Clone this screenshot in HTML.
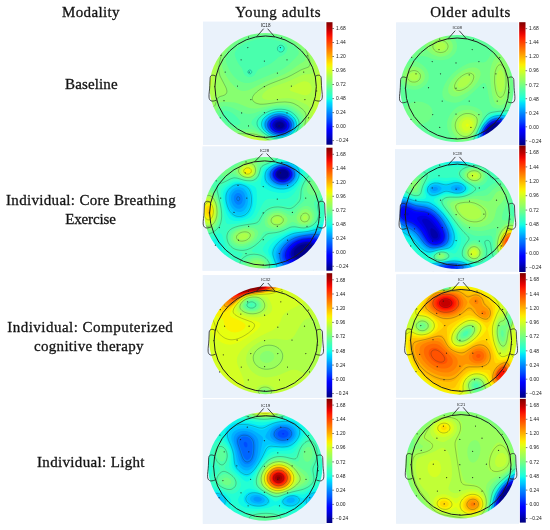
<!DOCTYPE html>
<html lang="en"><head><meta charset="utf-8"><title>Topographic maps by modality</title>
<style>
html,body{margin:0;padding:0;background:#fff}
body{width:550px;height:530px;position:relative;overflow:hidden;font-family:"Liberation Serif","DejaVu Serif",serif;color:#141414}
.t{position:absolute;white-space:nowrap;font-size:15px;line-height:20px;-webkit-text-stroke:0.3px #141414}
</style></head><body>
<svg width="550" height="530" viewBox="0 0 550 530" style="position:absolute;left:0;top:0;filter:blur(.3px)" font-family="'Liberation Sans','DejaVu Sans',sans-serif">
<defs><linearGradient id="jet" x1="0" y1="0" x2="0" y2="1"><stop offset="0%" stop-color="#800000"/><stop offset="3.1%" stop-color="#a40000"/><stop offset="6.2%" stop-color="#c40000"/><stop offset="9.4%" stop-color="#ed0400"/><stop offset="12.5%" stop-color="#ff1e00"/><stop offset="15.6%" stop-color="#ff3b00"/><stop offset="18.8%" stop-color="#ff5900"/><stop offset="21.9%" stop-color="#ff7700"/><stop offset="25%" stop-color="#ff9400"/><stop offset="28.1%" stop-color="#ffb200"/><stop offset="31.2%" stop-color="#ffd000"/><stop offset="34.4%" stop-color="#feed00"/><stop offset="37.5%" stop-color="#e4ff13"/><stop offset="40.6%" stop-color="#caff2c"/><stop offset="43.8%" stop-color="#adff49"/><stop offset="46.9%" stop-color="#97ff60"/><stop offset="50%" stop-color="#7dff7a"/><stop offset="53.1%" stop-color="#63ff94"/><stop offset="56.2%" stop-color="#46ffb1"/><stop offset="59.4%" stop-color="#30ffc7"/><stop offset="62.5%" stop-color="#16ffe1"/><stop offset="65.6%" stop-color="#00e0fb"/><stop offset="68.8%" stop-color="#00c0ff"/><stop offset="71.9%" stop-color="#009cff"/><stop offset="75%" stop-color="#007cff"/><stop offset="78.1%" stop-color="#0060ff"/><stop offset="81.2%" stop-color="#0040ff"/><stop offset="84.4%" stop-color="#001cff"/><stop offset="87.5%" stop-color="#0000ff"/><stop offset="90.6%" stop-color="#0000e8"/><stop offset="93.8%" stop-color="#0000c8"/><stop offset="96.9%" stop-color="#00009f"/><stop offset="100%" stop-color="#000080"/></linearGradient></defs>
<g><rect x="203" y="21.7" width="122.2" height="123.1" fill="#eaf2fb"/>
<g>
<rect x="208" y="31" width="115" height="111" fill="#00008d"/>
<path fill="#0000a8" fill-rule="evenodd" d="M208 31l115 0 0 111-115 0 0-111zM277 122.7l-1.2 1.3-0.3 1 0.1 1 0.4 0.8 1 1 1 0.5 2 0.3 2-0.5 1.3-1.1 0.5-1 0-1-0.3-1-0.9-1-1.6-0.8-1-0.2-2 0.3-1 0.4z"/>
<path fill="#0000c4" fill-rule="evenodd" d="M208 31l115 0 0 111-115 0 0-111zM277 121.6l-1 0.5-0.9 0.9-0.6 1-0.2 1 0.1 1 0.4 1 0.8 1 1.5 1 1.9 0.5 1 0.1 2-0.4 1-0.5 1-0.7 0.7-1 0.3-1 0-1-0.3-1-0.7-1.1-1-0.9-2-0.8-2-0.1-2 0.5z"/>
<path fill="#0000df" fill-rule="evenodd" d="M208 31l115 0 0 111-115 0 0-111zM277 120.7l-1 0.4-1.3 0.9-0.8 1-0.5 1-0.2 1 0.1 1 0.4 1 0.7 1 1.6 1.3 1.5 0.7 1.5 0.3 2 0 1-0.2 2.2-1.1 1-1 0.6-1 0.2-1 0.1-1-0.3-1-0.8-1.4-1-1-1-0.6-2-0.7-2-0.1-2 0.5z"/>
<path fill="#0000fa" fill-rule="evenodd" d="M208 31l115 0 0 111-115 0 0-111zM277 119.8l-2 0.9-1 0.8-1 1.2-0.6 1.3 0 2 0.3 1 1.3 1.8 1.7 1.2 1.3 0.6 1.7 0.4 1.3 0.1 1.2-0.1 1.8-0.5 1.2-0.5 1.3-1 0.8-1 0.7-2-0.2-2-1.2-2-1.6-1.3-2-0.9-2-0.3-3 0.3z"/>
<path fill="#0004ff" fill-rule="evenodd" d="M208 31l115 0 0 111-115 0 0-111zM278 118.9l-2 0.5-1.3 0.6-1.3 1-0.9 1-1 2 0 2 0.3 1 1.2 1.8 1 1 1 0.6 2 0.9 2 0.4 2 0 3-0.8 1.5-0.9 1-1 1.1-2 0.2-2-0.5-2-1.6-2-1.7-1.2-3-0.9-3 0z"/>
<path fill="#001cff" fill-rule="evenodd" d="M208 31l115 0 0 111-115 0 0-111zM276 118.7l-2 0.9-1 0.7-1 1-1.1 1.7-0.3 1 0 2 0.8 2 0.8 1 1 1 1.8 1.2 2 0.8 2 0.3 2 0 2-0.3 2-0.9 1.6-1.1 1.5-2 0.6-2-0.2-2-0.3-1-1.4-2-1.8-1.4-1.1-0.6-1.9-0.6-3-0.3-3 0.6z"/>
<path fill="#0034ff" fill-rule="evenodd" d="M208 31l115 0 0 111-115 0 0-111zM276 118l-2 0.8-1.8 1.2-1.2 1.3-0.9 1.7-0.3 1 0 2 0.7 2 0.7 1 1.8 1.7 2 1.2 2 0.7 2 0.3 2 0 2-0.3 2-0.8 2-1.3 1.4-1.5 0.6-1 0.5-2-0.2-2-0.3-1-1.2-2-1-1-1.4-1-2.4-1.1-3-0.5-2 0.1-2 0.5z"/>
<path fill="#004cff" fill-rule="evenodd" d="M208 31l115 0 0 111-115 0 0-111zM278 116.9l-2 0.4-2 0.7-2 1.2-1.8 1.8-0.6 1-0.7 2 0.1 2 0.7 2 1.3 1.8 1.3 1.2 1.7 1.1 2.3 0.9 2.7 0.5 2 0 2-0.3 2-0.7 2-1.1 1-0.9 1.3-1.5 0.5-1 0.5-2-0.2-2-0.3-1-0.8-1.6-1.1-1.4-1.2-1-1.7-1-3-1-2-0.2-2 0.1z"/>
<path fill="#0064ff" fill-rule="evenodd" d="M208 31l115 0 0 111-115 0 0-111zM275 116.9l-2 0.8-2 1.4-1.7 1.9-1 2-0.3 2 0.4 2 1 2 0.8 1 1.8 1.5 2 1.2 2 0.8 3 0.6 3-0.1 2-0.5 2-0.8 2.5-1.7 1.6-2 0.5-1 0.5-2-0.1-1.6-0.3-1.4-0.7-1.4-1.1-1.6-1.1-1-1.8-1.3-3-1.1-2-0.4-2-0.1-2 0.3-2 0.5z"/>
<path fill="#0080ff" fill-rule="evenodd" d="M208 31l115 0 0 111-115 0 0-111zM276 115.9l-3 1-1.8 1.1-1.3 1-1.6 2-0.9 2-0.2 2 0.3 2 1 2 1.8 2 2.7 1.9 2.7 1.1 2.3 0.5 3 0.1 3-0.5 2-0.7 2.3-1.4 1.1-1 1.5-2 0.5-1 0.5-2 0-1-0.4-2-0.9-2-0.8-1-0.9-1-1.9-1.5-3-1.4-2-0.4-2-0.2-2 0-2 0.4z"/>
<path fill="#0098ff" fill-rule="evenodd" d="M208 31l115 0 0 111-115 0 0-111zM278 114.9l-3 0.5-2 0.8-2 1-2.2 1.8-1.5 2-0.8 2-0.2 2 0.4 2 0.9 2 1.7 2 2.7 2 3 1.4 3 0.7 3 0.1 3-0.5 2-0.7 1.9-1 1.3-1 1.1-1 1.4-2 0.5-1 0.5-2-0.1-2-0.6-2-1-1.7-1-1.3-2-1.7-2-1.1-2-0.8-2-0.4-2-0.2-2 0.1z"/>
<path fill="#00b0ff" fill-rule="evenodd" d="M208 31l115 0 0 111-115 0 0-111zM275 114.7l-3 1.1-2.1 1.2-2.2 2-1.4 2-0.8 2-0.2 1 0.2 2 0.7 2 1.2 2 2.1 2 2.5 1.7 3 1.3 3 0.6 3 0.1 3-0.4 3-1.1 3-2 1.2-1.2 1.3-2 0.5-1 0.5-2-0.1-2-0.5-2-0.9-1.7-1-1.3-1-1.1-2-1.5-2-1-2-0.7-2-0.4-2-0.2-3 0.2-2 0.4z"/>
<path fill="#00c8ff" fill-rule="evenodd" d="M208 31l115 0 0 111-115 0 0-111zM275 114l-3 1-3 1.7-2.5 2.3-1.3 2-0.7 2-0.2 2 0.2 1 0.7 2 1.3 2 1.9 2 2.9 2 3.7 1.6 3 0.6 4 0 3-0.6 3-1.3 2-1.3 1.2-1 1.6-2 1-2 0.5-2 0-2-0.5-2-0.8-1.6-0.9-1.4-1.1-1.2-2-1.6-2-1.2-2-0.8-2-0.5-3-0.3-3 0.2-2 0.4z"/>
<path fill="#00e0fb" fill-rule="evenodd" d="M208 31l115 0 0 111-115 0 0-111zM276 113l-3 0.7-3 1.3-2.9 2-1.9 2-0.7 1-0.9 2-0.4 2 0.2 2 0.3 1 1 2 2.6 3 2.7 2 3 1.5 3 0.9 3 0.4 4-0.1 3-0.8 3-1.4 2-1.5 1.1-1 1.5-2 1.1-2 0.5-2 0-2-0.4-2-1-2-1.4-2-2.2-2-2.2-1.4-2-0.9-2-0.6-3-0.4-3 0-2 0.3z"/>
<path fill="#0ff8e7" fill-rule="evenodd" d="M208 31l115 0 0 111-115 0 0-111zM278 111.9l-4 0.7-3 1-3 1.6-2.4 1.8-1.8 2-1.1 2-0.4 1-0.2 1 0 2 0.4 2 1.8 3 1.9 2 2.8 2.1 3.6 1.9 3.4 1 3 0.4 4-0.1 3-0.7 2-0.8 2-1.1 2.1-1.7 1.9-2.2 1.5-2.8 0.6-2 0.1-2-0.4-2-0.9-2-1.3-2-2-2-2.6-1.8-2-1-3-0.9-3-0.4-3 0z"/>
<path fill="#23ffd4" fill-rule="evenodd" d="M208 31l115 0 0 111-115 0 0-111zM279 111l-4 0.4-4 1.2-3 1.4-2.9 2-2.1 2-0.7 1-1.1 2-0.6 2 0 1 0.3 2 0.8 2 2.3 3 3.6 3 3.4 2 4 1.4 3 0.5 3 0.2 4-0.5 3-0.9 2-1.1 2-1.5 2.1-2.1 1.3-2 1.4-3 0.4-3-0.3-2-1.4-3-1.5-2-2-1.9-2-1.4-2-1.1-3-1-3-0.5-3-0.1z"/>
<path fill="#36ffc1" fill-rule="evenodd" d="M208 31l115 0 0 111-115 0 0-111zM273 110.9l-4 1.4-3.2 1.7-2.7 2-2.7 3-1.1 2-0.5 2 0 1 0.4 2 0.4 1 1.3 2 2.8 3 4.1 3 4.2 2.1 4 1.2 2 0.3 3 0.2 4-0.3 4-1.3 3-1.9 2-1.9 1.8-2.4 1.6-3 0.6-2 0.2-3-0.5-2-0.9-2-1.3-2-1.9-2-2.6-2-3-1.5-2-0.7-3-0.6-3-0.2-4 0.3-3 0.6zM280 46.8l-1.1 1.2 0.1 1.3 0.4 0.7 0.6 0.5 1 0.2 1-0.4 0.8-1.3 0-1-0.8-1-1-0.3-1 0.1z"/>
<path fill="#49ffad" fill-rule="evenodd" d="M208 31l115 0 0 111-115 0 0-111zM248 70l-0.7 1-0.1 1 0.2 1 0.6 0.8 1 0.6 1 0.1 1.3-0.5 0.9-1 0.2-1-0.1-1-0.3-0.6-1-0.9-1-0.2-1 0.1-1 0.6zM280 44.9l-1 0.4-1 0.8-0.7 0.9-0.3 1 0 1 0.2 1 0.8 1.2 1 0.8 1 0.4 1 0.1 1.5-0.5 1.2-1 0.6-1 0.3-1 0-1-0.6-1.4-1-1.1-1-0.5-1-0.2-1 0.1zM279 108.9l-4 0.5-5 1.3-4 1.7-4 2.5-2.5 2.1-2.2 3-0.8 2-0.1 1 0.2 2 1 2 0.7 1 2.8 3 3.7 3 2.2 1.4 3 1.6 4 1.5 5 1 4 0.2 4-0.6 2-0.7 3-1.6 2-1.8 2-2.5 1.9-3.5 1.1-3 0.4-3-0.3-2-0.8-2-2.1-3-2.2-2.2-3-2.2-3-1.4-3-0.8-3-0.4-3-0.1z"/>
<path fill="#5dff9a" fill-rule="evenodd" d="M208 31l115 0 0 111-115 0 0-111zM224 110.8l-1 0.8-0.6 1.4-0.1 1 0.3 2 0.4 1.4 0.9 1.6 2.1 2.3 2 1.5 2 1 4 1.4 2 0.2 2-0.2 0.7-0.2 1.2-1 0.5-1-0.1-1-0.3-1-2.2-3-3-3-2.6-2-3.2-1.7-3-0.8-2 0.3zM261 39l-6.4 1-3.6 1-2.8 1-4.3 2-3.3 2-2.5 2-1.8 2-1.2 2-0.4 2 0.3 1.9 2 5.1 2 3.4 3 3.9 1.2 3.7 0.9 2 0.8 1 1.1 1 2 1 1 0.2 2-0.1 1-0.3 1.4-0.8 1.2-1 0.8-1 1.6-2.8 1-1.4 2-1.2 8.1-3.6 3.5-2 2.7-2 4.3-4 3.4-1.3 2-1.2 1-0.8 1.4-1.7 0.8-2 0.3-2-0.1-1-0.8-2-1.6-1.6-2-1.2-2-0.8-5.7-1.4-5.3-1-4-0.2-5 0.2zM277 107.9l-4 0.6-4 1.1-5 2.1-4.2 2.3-4.2 3-3.1 3-1.1 2 0 1 0.2 1 0.7 1 1.9 2 6.2 5 5.6 3.7 5 2.5 5 1.6 3 0.6 3 0.4 4-0.1 2-0.4 2-0.7 3-1.7 2-1.8 1.7-2.1 1.1-2 1.7-4 1-4 0-3-0.5-2-1.9-3-2.1-2.4-3-2.4-3-1.6-3-1.1-3-0.6-3-0.2-4 0.2z"/>
<path fill="#70ff87" fill-rule="evenodd" d="M208 31l115 0 0 111-34.3 0 2.3-0.8 3-1.6 2-1.7 2.2-2.9 1.4-3 2-7 0.5-3-0.3-3-0.8-2.1-2.1-2.9-2.9-2.7-3-2.1-3-1.5-3-0.9-3-0.5-3-0.1-5 0.4-5 0.9-6 1.8-11 3.9-3 0.6-2 0.2-3-0.3-3-0.9-9-4.3-4-1.4-4-0.8-3 0-1.5 0.7-1 1-0.8 2-0.7 5-0.6 1-1.4 1-1.1 1-0.7 1-0.6 2 0.2 2 1.1 2 1.1 1.1 2 1.2 2 0.4 2-0.1 4-1.5 2 0.4 6 2 4 0.8 3 0.2 7-0.4 3 0.4 3 1 2 1 7.8 4.5 4.2 2.1 6 2.3 5.2 1.6-72.2 0 0-111zM262 35l-6 0.7-5.2 1.3-5.5 2-5.3 2.7-4.8 3.3-3.2 2.9-3 3.7-1.8 3.4-1 3-0.2 3 0.4 2 0.6 1.8 2 4.4 2.2 3.8 2.8 3.6 3 2.8 2 1.4 2 1 3 1 2 0.3 3-0.2 3-0.6 4-1.5 23.1-9.8 5.3-3 3.9-3 3.2-3 5.5-5.7 1.1-1.3 0.5-1 0.2-1-0.3-2-1-2-1.5-2-1.9-2-2.3-2-4.8-3.1-3-1.4-3-1.1-6-1.6-6-0.8-7 0z"/>
<path fill="#87ff70" fill-rule="evenodd" d="M208 31l115 0 0 111-26.5 0 1.5-1.6 1.8-2.4 1-2 0.8-2 0.6-3 0.4-4 1.1-6 0.1-2-0.2-2-0.6-1.4-1-1.6-1.7-2-2.3-2.1-2-1.5-2-1.3-3-1.4-2-0.6-2-0.4-3-0.3-6 0.2-6 0.9-12 2.5-3 0.4-3 0.1-3-0.3-3-0.8-9-3.7-4-1.1-6-0.7-6 0-2 0.4-1 0.5-1 1-1 1.9-1 3.5-1 1.8-4 1.2-4 1.5 0-82.7zM256 31.1l-1 0.9-3 0-1 0.3-0.7 0.7-2.3 0.2-0.7 0.8-1.3 0.1-0.9 0.9-1.1 0.1-1.2 0.9-0.8 0.1-1 0.9-1 0.2-0.8 0.8-2.2 1.3-3 2.5-2 1.9-2 2.2-3 4.1-2.7 5-1.7 5-0.6 4 0 2 0.4 2 1.6 4 2.8 5 3.2 4.7 4 4.4 2 1.8 2 1.5 3 1.3 2 0.4 2-0.1 2-0.4 2-0.6 3-1.4 8.8-4.6 5.2-2.5 14-5.5 4.5-2 5.5-3 9-6.4 4.1-2.6 1.3-1 0.6-0.9 0.3-1.1 0-2-0.9-3-1.6-3-2.8-4-3-3.2-3-2.7-4-2.9-3-1.8-4-1.9-3-1.1-1.7-0.4-1.3-0.6-2.9-0.4-1.1-0.6-1-0.2-6-0.2-10 0.1zM231.9 131l1.1-0.2 1 0 6 0.9 3 0.2 8 0 4 0.7 4 1.5 8 4 8.6 3.9-60.1 0 2.5-1.3 5-3.1 4-2.8 4.9-3.8z"/>
<path fill="#9aff5d" fill-rule="evenodd" d="M305.6 48l0.4-0.3 1-0.3 2-0.3 3 0 2 0.4 3 1.1 2 1.1 2 1.5 2 1.8 0 80.8-2.4 2.2-2.6 1.8-3 1.3-2 0.4-2-0.1-2-0.8-1-0.9-0.9-1.7-2.2-10 0.1-2 1.1-7-0.2-3-0.8-2-1.1-1.3-3-2.7-3-2.2-3-1.7-3-1.2-3-0.7-3-0.3-3 0-4 0.3-14 1.9-3 0.2-3-0.3-3-0.8-1.9-1.2-1-1-0.5-1-0.3-1 0.3-2 0.5-1 1.5-2 2-2 2.5-2 4.6-3 3.9-2 3.4-1.5 16-6.1 4.9-2.4 9.1-5.1 3-1.2 4-1.4 1-0.7 0.5-0.6 0.5-1.5 0.1-1.5-0.2-2-1.5-5-2.5-6-0.3-1 0-1zM212.9 50l2.1-0.2 2 0.3 2 0.9 2 1.5 0.3 0.5 0.1 1-0.1 1-1.7 7-0.6 4-0.2 3 0.2 3.1 1 3.9 5.7 11 0.8 2 0.4 2 0 1-0.3 1-0.6 1-1 0.8-2 0.9-3 0.8-1 0.6-1 0.9-1 1.6-2 5.7-1 1.1-1 0.1-3-0.6-2-0.9 0-52 2-1.7 1-0.6 1.9-0.7zM236.9 134l2.1-0.3 12 0.2 3 0.2 2 0.4 3 1 3 1.3 8.9 4.2 1.6 1-39.4 0 0-2 0.6-2 1.2-2 2-2z"/>
<path fill="#adff49" fill-rule="evenodd" d="M313.6 60l0.4-0.6 1 0.3 3 1.7 2.9 2.6 2.1 2.6 0 51.7-2 2.9-1.6 1.8-1.4 1.2-2 1.2-1 0.4-2 0.2-2-0.6-1-0.7-1-0.9-1-1.3 0-2.5 1.3-7 0.3-4-0.6-2.2-1-1.1-1-0.6-9-4.6-3-1.2-3-0.7-3-0.3-3 0-4 0.3-10 1.3-4.7 0.1-2.3-0.5-1.3-0.5-1.1-1-0.5-1 0-1 0.8-2 0.8-1 2.1-2 3-2 4-2 15.2-5.5 11-5.1 3-1.3 4-0.9 5-0.1 1-0.3 1-1 0.8-2.8 0.1-3-0.4-5 0.1-2zM213.9 61l1.1-0.1 1 0.1 0.5 1 0.1 1-0.7 11 0 12-0.4 4-1.5 7.2-1 2.7-1 0.5-1-0.6-1-0.9-2-2.8 0-29.4 1.7-2.7 1.3-1.5 1-0.7 1.9-0.8zM241.5 136l2.5-0.4 5-0.1 4 0.1 3 0.4 3 0.8 3.1 1.2 4.3 2 1.8 1 1.4 1-30.2 0-0.3-1 0.2-2 0.9-2 1.3-1z"/>
<path fill="#c1ff36" fill-rule="evenodd" d="M318.7 72l1.3 1.2 1 1.7 1 2.2 1 3.1 0 20.7-0.8 3.1-1 3-2.2 4.3-1.2 1.7-1.8 1.8-2 1.1-1 0.3-0.3-0.2-0.4-1 0.1-1 1.8-9 0.8-5 0.6-12 2.2-15 0.2-0.6 0.7-0.4zM211.4 76l0.6-0.6 0.2 2.6-0.2 4.4-1 4.8-0.9-2.2-0.1-3 0.8-5 0.2-0.8 0.4-0.2zM301.1 82l2.9-0.7 2 0.1 2 0.6 1.4 1 0.9 1 1.1 2 0.3 1 0.1 2-0.4 2-0.5 1-0.7 1-1.2 1.1-1 0.6-2 0.5-3-0.2-9.3-3-2.7-1-1.4-1 0.2-1 2.2-2 4.7-3 4.4-2zM244.9 138l2.1-0.7 2-0.2 4 0 3 0.4 2.3 0.5 3 1 4 2 1.2 1-22 0-0.4-1 0-1 0.2-1 0.6-1z"/>
<path fill="#d4ff23" fill-rule="evenodd" d="M251.3 139l3.7 0 3 0.6 1.4 0.4 2.1 1 1 1-12.5 0-0.6-1 0-1 0.6-0.5 1.3-0.5z"/>
<path fill="none" stroke="#1a2a2a" stroke-opacity=".6" stroke-width=".45" d="M208 53l1.1-1 1.9-1.3 2-0.7 2-0.2 2 0.3 1 0.4 2 1.2 1.3 1.3 0.1 1-0.1 1-1.7 7-0.6 4-0.2 3 0.2 3.1 1 3.9 5.7 11 0.8 2 0.4 2 0 1-0.3 1-0.6 1-1 0.8-2 0.9-3 0.8-1 0.6-1 0.9-1 1.6-2 5.7-1 1.1-1 0.1-2-0.4-3-1.1M323 133.8l-2 1.9-2 1.5-2 1.1-2 0.8-2 0.4-2-0.1-2-0.8-1-0.9-0.9-1.7-0.3-1-1.9-9 0.1-2 1.1-7 0-2-0.5-2-1.3-2-2.1-2-3.9-3-3.3-1.9-2-0.9-3-0.8-5-0.5-7 0.4-12 1.7-3 0.2-3 0-3-0.7-2-0.9-0.9-0.6-1-1-0.5-1-0.3-1 0.3-2 0.5-1 1.5-2 2-2 2.5-2 4.6-3 3.9-2 3.4-1.5 16-6.1 4.9-2.4 9.1-5.1 3-1.2 4-1.4 1-0.7 0.5-0.6 0.5-1.5 0.1-1.5-0.2-2-1.5-5-2.8-7 0-1 0.4-0.3 2-0.5 3-0.1 2 0.2 2 0.5 2 0.8 2 1.1 2 1.5 2 1.8M233.1 142l-0.1-1 0.3-2 0.4-1 1.2-2 2-2 1.1-0.2 2-0.1 11 0.2 3 0.2 2 0.4 3 1 3 1.3 8.9 4.2 1.6 1M279 45.7l-1.2 1.3-0.4 1 0 1 0.2 1 0.4 0.6 1 1 1 0.4 1 0.1 1-0.3 1-0.5 0.9-1.3 0.3-1 0-1-0.4-1-0.8-1-1-0.6-1-0.2-1 0.1-1 0.4M250 69.9l-1 0.2-1 0.9-0.2 1 0.3 1 0.9 0.8 1 0.1 1-0.4 0.5-0.5 0.3-1-0.2-1-0.6-0.6-1-0.5M274 109.8l-4 1.1-4 1.8-3.6 2.3-2.3 2-1.7 2-1 2-0.3 1-0.1 1 0.2 2 0.8 2 2.4 3 2.2 2 2.5 2 3.9 2.3 2 1 3 1 5 1 4 0.2 4-0.6 2-0.7 2-1.1 2-1.4 2.4-2.7 1.9-3 1.2-3 0.6-3-0.1-2-0.5-2-1.1-2-2.4-3-2-1.7-2-1.4-3-1.4-3-0.9-4-0.4-4 0.1-3 0.5M275 112l-4 1.2-3 1.5-3 2.3-1.8 2-0.6 1-0.8 2-0.3 2 0.2 2 0.8 2 0.6 1 2.7 3 3.2 2.4 3 1.6 4 1.3 4 0.4 4-0.3 3-0.8 3-1.6 2-1.5 2-2.2 1.4-2.3 0.8-2 0.4-2-0.2-2-0.6-2-1-2-1.6-2-2.2-2-2-1.3-3-1.3-3-0.7-2-0.2-3 0-3 0.5M278 113.9l-3 0.5-3 1.1-2 1.1-2 1.6-1.6 1.8-1 2-0.3 1-0.1 2 0.4 2 0.9 2 0.8 1 1.9 2 2 1.4 3 1.5 3 0.8 3 0.3 3-0.3 3-0.8 2-1 2-1.4 1.5-1.5 1.4-2 0.4-1 0.5-2 0-2-0.6-2-1-2-1.7-2-1.5-1.3-2-1.2-2-0.8-2-0.5-2-0.3-3 0M278 115.9l-3 0.7-2 0.8-2 1.3-1.4 1.3-1.3 2-0.6 2 0.1 2 0.7 2 1.4 2 1.1 1.1 2 1.4 3 1.2 2 0.5 3 0.1 3-0.6 1.9-0.7 1.7-1 1.2-1 1.2-1.4 0.9-1.6 0.3-1 0.2-2-0.4-2-0.4-1-1.3-2-1-1-1.3-1-1.9-1-3.1-0.9-2-0.2-2 0M278 117.9l-2 0.5-2 0.9-2 1.5-0.9 1.2-0.5 1-0.4 2 0.4 2 0.5 1 0.9 1.2 2 1.7 3 1.3 2 0.4 2 0 2-0.4 2-0.8 2-1.4 1.4-2 0.6-2-0.2-2-0.3-1-0.5-1-1-1.2-1-0.9-1.4-0.9-1.6-0.6-2-0.5-3 0M279 119.9l-1 0.1-2 0.7-1 0.6-1 0.9-1 1.8-0.1 1 0 1 0.4 1 0.6 1 1 1 2.1 1.1 3 0.6 2-0.3 1-0.3 1.7-1.1 1.3-1.7 0.4-1.3-0.2-2-0.5-1-0.7-0.9-1.4-1.1-2.6-1-2-0.1"/>
<path fill="#eaf2fb" fill-rule="evenodd" d="M203 21.7H325.2V144.8H203zM209.50 86.80a56.05 53.90 0 1 0 112.10 0a56.05 53.90 0 1 0 -112.10 0z"/>
</g>
<path d="M247.8 47.5h.01M280.4 47.5h.01M241.1 59.8h.01M264.4 61h.01M287 59.8h.01M221 55.4h.01M307.3 55.8h.01M225.2 72h.01M249.2 72h.01M277.4 73h.01M303.7 72h.01M237.5 86h.01M264.4 86.5h.01M291.4 86h.01M224 100.7h.01M250.9 99.5h.01M277.4 99.5h.01M304.9 99.5h.01M241.6 112.9h.01M264.4 112.5h.01M287 112.9h.01M220.3 117.8h.01M308.6 117.8h.01M248.5 125.9h.01M279.1 125.9h.01M264.4 137h.01M214.7 86.5h.01M316.6 90.9h.01M248.5 37h.01M281.6 37.5h.01" stroke="#1a1a1a" stroke-opacity=".85" stroke-width="1.25" stroke-linecap="round" fill="none"/>
<ellipse cx="265.6" cy="86.7" rx="50.7" ry="50.7" fill="none" stroke="#1c1c1c" stroke-width="1"/>
<path d="M256.6 36.8L263.6 28.7M274.7 36.8L267.6 28.7" stroke="#1c1c1c" stroke-width=".8" fill="none"/>
<path d="M216.2 76.5C213.4 74.4 210.4 74.8 210.1 77.8L209.8 85.7C209.6 90.3 208.8 93.8 209 97.1C209.2 100.7 211.6 102.3 216.4 100.1" stroke="#222" stroke-width=".8" fill="none" stroke-linejoin="round"/>
<path d="M315.1 76.5C317.9 74.4 320.9 74.8 321.2 77.8L321.5 85.7C321.7 90.3 322.5 93.8 322.3 97.1C322.1 100.7 319.7 102.3 314.9 100.1" stroke="#222" stroke-width=".8" fill="none" stroke-linejoin="round"/>
<text x="265.6" y="27.1" font-size="4.6" text-anchor="middle" fill="#161616">IC18</text>
<rect x="326.4" y="22.2" width="6.1" height="122.5" fill="url(#jet)"/>
<text x="336.1" y="30.2" font-size="4.9" fill="#161616">1.68</text>
<text x="336.1" y="44.3" font-size="4.9" fill="#161616">1.44</text>
<text x="336.1" y="58.3" font-size="4.9" fill="#161616">1.20</text>
<text x="336.1" y="72.3" font-size="4.9" fill="#161616">0.96</text>
<text x="336.1" y="86.3" font-size="4.9" fill="#161616">0.72</text>
<text x="336.1" y="100.3" font-size="4.9" fill="#161616">0.48</text>
<text x="336.1" y="114.3" font-size="4.9" fill="#161616">0.24</text>
<text x="336.1" y="128.3" font-size="4.9" fill="#161616">0.00</text>
<text x="336.1" y="142.3" font-size="4.9" fill="#161616">−0.24</text>
<path d="M332.4 28.5h1.6M332.4 42.5h1.6M332.4 56.5h1.6M332.4 70.5h1.6M332.4 84.5h1.6M332.4 98.6h1.6M332.4 112.6h1.6M332.4 126.6h1.6M332.4 140.6h1.6" stroke="#222" stroke-width=".6" fill="none"/></g>
<g><rect x="202.6" y="146.6" width="122.6" height="124.1" fill="#eaf2fb"/>
<g>
<rect x="203" y="156" width="122" height="114" fill="#00008d"/>
<path fill="#0000a8" fill-rule="evenodd" d="M203 156l122 0 0 114-122 0 0-114zM281 169.9l-2 0.8-1.3 1.3-0.5 1-0.3 1 0.1 1 0.4 1 0.7 1 0.9 0.7 2 0.9 3 0 1.7-0.6 1.4-1 0.7-1 0.3-1 0.1-1-0.1-1-0.5-1-1-1-1.8-1-1.8-0.3-2 0.2zM302 244.8l-2 0.8-2.3 1.4-2.2 2-1.3 2-0.5 2 0.2 2 0.6 1 1.5 1.2 2 0.6 2 0.2 2-0.2 2.7-0.8 2.3-1.1 2-1.4 1.5-1.5 1.3-2 0.6-2-0.1-1-0.2-1-0.7-1-1.3-1-2.1-0.7-2-0.1-2 0.2-2 0.4z"/>
<path fill="#0000c4" fill-rule="evenodd" d="M203 156l122 0 0 114-122 0 0-114zM280 169.6l-1 0.5-1.3 0.9-0.8 1-0.5 1-0.1 1 0 1 0.3 1 0.6 1 1.8 1.5 1.3 0.5 1.7 0.3 2-0.1 1-0.2 2-1.1 0.9-0.9 0.6-1 0.3-1 0.1-1-0.1-1-0.5-1-0.8-1-1.5-1.1-2-0.6-2-0.1-2 0.4zM306 242.9l-4 0.8-3 1.2-3 1.9-2.2 2.2-0.8 1.2-0.8 1.8-0.3 2 0.5 2 0.7 1 0.9 0.9 2 0.9 2 0.4 2 0.1 3-0.5 2.3-0.8 2.7-1.4 2.2-1.6 2-2 1.2-2 0.6-2 0-2-0.4-1-0.7-1-1.9-1.3-2-0.6-3-0.2z"/>
<path fill="#0000df" fill-rule="evenodd" d="M203 156l122 0 0 114-122 0 0-114zM281 168.8l-1 0.3-1.9 0.9-1.2 1-0.7 1-0.6 2 0.3 2 0.5 1 0.9 1 1.5 1 1.2 0.5 1 0.3 2 0.1 2-0.3 1-0.4 1.8-1.2 0.9-1 0.5-1 0.4-2-0.6-2-1-1.4-2-1.3-2-0.6-3 0.1zM305 242l-4 0.9-3 1.3-3 2-2.7 2.8-1.2 2-0.4 1-0.4 2 0.1 1 0.7 2 0.7 1 1.2 1 2 1 2 0.4 3 0 3-0.5 3-1 3-1.6 2.9-2.3 1.8-2 1.3-2.2 0.6-1.8 0.1-1-0.3-2-0.4-1-0.8-1-1.3-1-2.9-1-2-0.2-3 0.2z"/>
<path fill="#0000fa" fill-rule="evenodd" d="M203 156l122 0 0 114-122 0 0-114zM279 168.9l-1.8 1.1-1.1 1-1 2-0.1 2 0.2 1 0.5 1 0.7 1 1.2 1 1.4 0.8 2 0.5 2 0.2 2-0.4 1-0.3 1.5-0.8 1.1-1 1.3-2 0.3-2-0.5-2-0.6-1-0.9-1-2.2-1.3-2-0.5-3 0.1-2 0.6zM305 241l-4 0.9-4 1.7-3.4 2.4-2.7 3-1.6 3-0.4 2 0 1 0.4 2 0.5 1 0.9 1 1.2 1 2.1 1 3 0.6 3-0.1 4-0.8 3-1.2 3-1.7 3-2.4 2.1-2.4 1.6-3 0.5-2-0.1-2-0.3-1-0.8-1.3-0.6-0.7-1.4-1-2-0.8-3-0.4-4 0.2z"/>
<path fill="#0004ff" fill-rule="evenodd" d="M203 156l122 0 0 114-122 0 0-114zM281 167.8l-2 0.6-1.3 0.6-1.4 1-0.9 1-1 2-0.1 2 0.2 1 0.4 1 1.1 1.4 1 0.9 2 1.1 2 0.5 2 0.1 3-0.6 2.4-1.4 1-1 0.7-1 0.7-2 0-2-0.4-1-1.4-2-2-1.4-1.7-0.6-1.3-0.3-3 0.1zM306 239.9l-5 1-4 1.7-3.8 2.4-3 3-1.4 2-0.9 2-0.5 3 0.3 2 0.4 1 0.9 1.3 1 1 1 0.8 2 0.9 3 0.6 3 0 4-0.6 4-1.4 3-1.6 3-2.2 2.8-2.8 1.9-3 0.9-3 0-2-0.2-1-1-2-0.9-1-1.5-1-2-0.7-3-0.5-4 0.1z"/>
<path fill="#001cff" fill-rule="evenodd" d="M203 156l122 0 0 114-122 0 0-114zM279 167.9l-2 0.9-1.5 1.2-0.9 1-0.9 2-0.1 1 0.2 2 1 2 0.9 1 1.3 1 2 1 2 0.5 2 0.1 2-0.3 2-0.7 2.4-1.6 1.5-2 0.6-2-0.1-2-0.3-1-1.2-2-1.9-1.5-1-0.5-2-0.6-3-0.2-3 0.7zM307 238.9l-5 0.8-3 1-2 0.8-4.1 2.5-2.3 2-1.8 2-1.3 2-0.9 2-0.6 3 0.2 2 0.8 2 0.7 1 1.3 1.3 1 0.7 2 1 3 0.7 4 0 4-0.7 4-1.4 4-2.1 3.4-2.5 2.8-3 1.9-3 0.9-3 0.1-2-0.1-1-0.3-1-0.7-1.4-1-1.2-1-0.8-1.1-0.6-1.9-0.7-3-0.5-4 0.1z"/>
<path fill="#0034ff" fill-rule="evenodd" d="M203 156l122 0 0 114-122 0 0-114zM281 166.9l-2 0.4-2 0.9-2 1.5-1.1 1.3-0.6 1-0.4 2 0 1 0.5 2 1.3 2 1.1 1 1.2 0.8 2 0.8 2 0.5 2 0.1 2-0.3 2-0.6 2-1.2 1-0.9 1.6-2.2 0.6-2 0-1-0.4-2-1.1-2-1-1-1.7-1.1-3-1-2-0.2-2 0.2zM308 237.9l-6 0.9-5 1.7-2.9 1.5-2.1 1.4-1.9 1.6-1.9 2-1.5 2-1.1 2-0.7 2-0.3 2 0.2 2 0.6 2 1.3 2 0.9 1 2.4 1.5 2 0.8 2 0.4 4 0.1 4-0.5 5-1.6 4-2 3.8-2.7 3-3 2.1-3 0.9-2 0.6-2 0.1-3-0.5-1.9-0.6-1.1-0.7-1-1.1-1-2.6-1.4-2-0.5-2-0.2-4 0z"/>
<path fill="#004cff" fill-rule="evenodd" d="M203 156l122 0 0 114-122 0 0-114zM279 166.8l-2 0.8-2.1 1.4-1.1 1-1.2 2-0.5 2 0.2 2 0.7 1.8 0.8 1.2 1.2 1.2 2 1.3 2 0.8 3 0.5 2-0.1 2-0.4 2-0.8 2-1.4 1.8-2.1 0.5-1 0.6-2-0.1-2-0.2-1-1.1-2-0.9-1-1.6-1.2-3-1.2-3-0.4-2 0.2-2 0.4zM309 237l-4 0.4-3 0.6-3 0.8-3 1.1-3 1.6-2 1.4-2.4 2.1-1.6 1.7-1.7 2.3-1.1 2-0.7 2-0.3 2 0.1 2 0.6 2 1 2 1.8 2 1.4 1 1.9 0.9 3 0.8 4 0.3 5-0.7 5-1.6 4-1.9 4.2-2.8 2.2-2 1.6-1.7 2.3-3.3 0.9-2 0.6-2 0.3-3-0.4-2-0.4-1-1.3-1.8-1-1-1-0.7-2-0.9-3-0.6-5 0z"/>
<path fill="#0064ff" fill-rule="evenodd" d="M203 156l122 0 0 114-122 0 0-114zM281 165.9l-3 0.7-2 1-2 1.4-1 1-0.7 1-0.8 2-0.2 2 0.4 2 1.1 2 1.2 1.3 2 1.5 2 0.9 2 0.5 3 0.2 2-0.2 2-0.6 3-1.6 1.1-1 1.5-2 0.8-2 0.2-1 0-2-0.3-1-0.9-2-0.8-1-1.1-1-1.5-0.9-2-0.8-2-0.5-2-0.1-2 0.2zM310 236l-4 0.4-4 0.7-3 0.7-3 1.1-3 1.5-2.5 1.6-2.4 2-2 2-1.6 2-1.7 3-0.7 2-0.3 2 0.3 3 0.6 2 1.3 2.2 1.7 1.8 1.3 1 2 1 2 0.6 2 0.4 4 0.1 5-0.7 5-1.6 5-2.4 4-2.7 2-1.7 1.9-2 1.6-2 1.2-2 1-2 0.6-2 0.3-2-0.1-2-0.5-2-0.4-1-1.6-2.1-1.1-0.9-1.9-1-2-0.7-2-0.3-5 0z"/>
<path fill="#0080ff" fill-rule="evenodd" d="M203 156l122 0 0 84-1.6-2-2.4-1.7-2-0.8-3-0.6-4 0-6 0.6-5 0.9-4 1.1-3 1.2-3 1.7-3.5 2.6-2.5 2.4-2 2.6-1.7 3-0.8 3-0.1 2 0.5 3 1.3 3 1.8 2.4 2 1.7 3 1.3 3 0.7 3 0.2 4-0.2 4-0.8 4-1.3 4-1.8 4-2.4 3-2.3 3-2.9 2.7-3.6 1.3-2.6 0 19.6-122 0 0-114zM279 165.8l-3 1.1-1.8 1.1-1.2 1-1.6 2-0.8 2-0.2 2 0.4 2 1 2 1.2 1.5 2 1.5 2 1.1 3 0.8 3 0.2 2-0.2 3-0.9 2-1.1 2-1.7 0.9-1.2 0.6-1 0.7-2 0.3-2-0.1-1-0.6-2-0.5-1-0.8-1-1.5-1.4-2-1.2-2-0.7-2-0.4-2-0.1-2 0.2-2 0.4z"/>
<path fill="#0098ff" fill-rule="evenodd" d="M203 156l122 0 0 81-2-1.5-2-1-2-0.5-3-0.3-5 0.3-8 1.1-4.4 0.9-3.6 1.1-3 1.4-3 1.8-3 2.4-2.3 2.3-2.3 3-1.2 2-0.8 2-0.5 3 0.2 3 1 3 1.6 3 1.7 2 2.6 1.8 2 0.9 3 0.7 4 0.2 4-0.3 4-0.8 5-1.7 4-1.9 4-2.4 3.3-2.5 3-3 2.7-3.5 0 16.5-122 0 0-114zM238 192.9l-1 0.2-1 0.6-1.3 1.3-0.8 2-0.1 2 0.4 2 1.2 2 1.6 1.4 1 0.4 1 0 1-0.2 0.9-0.6 1.1-1.4 0.7-2.6 0-2-0.6-2-1.1-1.8-1-0.8-1-0.4-1-0.1zM280 165l-3 0.9-2.4 1.1-1.6 1.1-1.9 1.9-1.1 2-0.5 2 0.1 2 0.6 2 1.2 2 1.6 1.7 2 1.3 3 1.3 3 0.5 3 0 2-0.3 3-1.1 2-1.3 1.3-1.1 1.6-2 0.9-2 0.5-2 0-2-0.6-2-0.4-1-1.3-1.7-1.5-1.3-1.5-0.9-2-0.8-2-0.5-2-0.2-2 0.1-2 0.3z"/>
<path fill="#00b0ff" fill-rule="evenodd" d="M203 156l122 0 0 78.6-2-1.1-2-0.7-2-0.3-2 0-4 0.3-14 2.1-4 1.1-4 1.7-3.6 2.3-3.4 2.8-3 3.2-1.4 2-1.1 2-1 3-0.2 3 0.3 2 1 3 1.4 3 1 1.7 1.1 1.3 1.9 1.6 3 1.4-84 0 0-114zM237 189.8l-2 0.8-1 0.8-1 1-1 1.5-0.5 1.1-0.4 2 0 3 0.9 3.1 1 1.9 1 1.3 1 1 2 1.1 2 0.4 1-0.1 1.8-0.7 1.2-0.9 1.4-2.1 0.8-2 0.4-2 0-2-0.2-2-0.5-2-0.9-2-1.7-2-1.3-0.8-1-0.4-1-0.2-2 0.2zM278 164.9l-2.7 1.1-2.3 1.3-2.1 1.7-1.5 2-0.8 2-0.2 1 0.1 2 0.5 2 1 2 1.8 2 2.2 1.6 3 1.3 3 0.7 3 0.2 3-0.4 3-1 2-1.2 2-1.6 1.3-1.6 1.1-2 0.7-2 0.2-2-0.2-2-0.8-2-0.6-1-0.8-1-1.9-1.6-2-1.1-2-0.7-2-0.4-3-0.1-3 0.3-2 0.5zM324.2 257l0.8-1 0 14-22.9 0 5.9-1.8 3-1.4 3-1.5 3-1.9 3-2.3 2.3-2.1 1.9-2z"/>
<path fill="#00c8ff" fill-rule="evenodd" d="M203 156l122 0 0 76.2-3-0.9-2-0.3-2 0.1-21 3.2-4 1.2-3 1.3-3.5 2.2-3.8 3-2.9 3-1.5 2-1.2 2-1.2 3-0.3 3 0.3 2 0.5 2 1 3 1.3 3 1.9 3 2.2 2-79.8 0 0-114zM235 188l-1.7 1-1.3 1.1-1.5 1.9-1 2-0.6 2-0.1 2 0.1 2 0.3 2 0.8 2.4 1 2.1 1 1.5 2 2.1 1.2 0.9 1.8 0.8 2 0.3 2-0.2 2-0.8 1.4-1.1 1.6-2 1-2 0.6-2 0.5-3-0.1-3-0.5-3-0.7-2-1.1-2-1.7-2-1-0.7-2-0.8-2-0.4-2 0.2-2 0.7zM280 163.8l-3 0.8-4 1.9-2.3 1.5-1.9 2-1.1 2-0.5 2 0.1 3 0.6 2 1.2 2 1.9 2 3 1.9 3 1.2 3 0.6 3 0.1 3-0.3 3-1 2-1 2-1.5 1.8-2 1.3-2 0.8-2 0.5-3-0.2-2-0.6-2-1.3-2-1.3-1.3-2-1.4-2-0.9-3-0.8-2-0.2-3 0.1-2 0.3zM324.5 259l0.5-0.6 0 11.6-17.9 0 3.9-1.6 5-2.7 5-3.5 3.5-3.2z"/>
<path fill="#00e0fb" fill-rule="evenodd" d="M203 156l122 0 0 73.8-3-0.5-3 0.1-11 2.3-10 1.3-3 0.5-3 1-4 1.9-3 1.8-3.7 2.8-3.1 3-2.3 3-1.5 3-0.7 3 0.2 3 0.9 3 3 8 1.8 3-76.6 0 0-114zM235 185.8l-2 1-2 1.5-1.6 1.7-1.4 2-0.8 2-0.4 2-0.1 3 0.4 3 0.8 3 1.1 2.7 1.3 2.3 1.7 2 2 1.7 2 1 2 0.5 3-0.1 3-1 2-1.5 1.4-1.6 1.6-2.9 1-3.1 0.4-3 0-4-0.4-3-0.9-3-1-2-1.6-2-1.3-1-2.2-1.1-3-0.8-3 0.1-2 0.6zM281 162.9l-3 0.7-4 1.6-3.3 1.8-2.5 2-1.4 2-0.8 2-0.3 3 0.2 2 0.6 2 1.5 2.3 2 1.9 3 1.9 3 1.2 3 0.6 3 0.3 4-0.4 2-0.5 3-1.4 2-1.4 2.5-2.5 1.3-2 1.3-3 0.6-3-0.1-2-0.5-2-1.1-2-1.9-2-2.1-1.4-3-1.2-3-0.6-3-0.2-3 0.3zM325 261l0 9-13.5 0 3.5-1.8 4-2.4 3-2.2 3-2.6z"/>
<path fill="#0ff8e7" fill-rule="evenodd" d="M203 156l122 0 0 71.1-2-0.1-3 0.4-8.6 2.6-4.4 1-10 0.9-4 0.8-3 1-4.5 2.3-3.5 2.2-3.7 2.8-3 3-2.2 3-1.4 3-0.3 2 0.3 3 3 8 2.1 7-73.8 0 0-114zM235 183.8l-2.5 1.2-2.8 2-2.1 2-1.6 2.4-0.9 2.6-0.3 2 0 3 0.6 4 1 4 1.6 3.9 1.2 2.1 1.8 2.2 2 1.6 3 1.1 3 0.4 3-0.4 3-1 2.9-1.9 1.7-2 1.7-3 1.3-4 0.6-4 0-4-0.5-4-0.8-3-1-2-1.7-2-1.4-1-2.8-1.3-4-1.1-3-0.3-3 0.5zM283 161.9l-3 0.5-4 1.2-3 1.2-3 1.6-2.4 1.6-1 1-1.4 2-0.7 2-0.6 3 0 3 0.4 2 1.1 2 1.9 2 2.7 1.9 3 1.4 3 1 4 0.6 4 0 3-0.5 2-0.6 2-1 3-2.2 2.4-2.6 1.9-3 1-2 0.6-2 0.4-3-0.3-3-1-2.2-2-2.3-3-2-3-1.1-4-0.6-4 0.1zM325 264l0 6-8.9 0 3.9-2.3 5-3.7z"/>
<path fill="#23ffd4" fill-rule="evenodd" d="M203 156l122 0 0 67.6-3 0.7-8.2 3.7-4.8 1.6-5 0.8-9 0.4-4 0.9-4 1.6-6 3.1-4.2 2.6-2.6 2-2 2-2.4 3-1.4 3-0.2 2 0.1 1 0.6 2 3 6 1.2 3 0.7 3 0.4 4-71.2 0 0-114zM215 239l-2.4 1-2.7 2-1.5 2-0.3 1-0.2 2 0.6 2 0.5 1 0.8 1 1.2 1.1 1.5 0.9 1.5 0.6 2 0.3 1-0.1 2-0.5 1-0.6 1-1 0.7-1.7 0.2-1-0.1-2-1-4-0.8-1.9-1-1.4-1-0.7-1-0.3-2 0.3zM236 181.8l-3 0.9-2.3 1.3-3.7 2.8-2.1 2.2-1.2 2-0.6 2-0.3 2 0.1 3 0.7 5 1.4 6 1.6 5 1.5 3 0.9 1.3 1 0.9 2 1.1 3 0.6 4 0.1 5-0.9 4-1.5 2-1.3 1-0.9 2-2.5 1.1-1.9 1.2-3 1.2-5 0.4-5-0.2-7-0.2-2-0.6-2-0.8-1-1.4-1-2.4-1-3.2-1-6.1-1.7-3-0.5-3 0zM283 160.8l-3 0.7-3 0.9-5 2-5 2.6-1.4 1-0.9 1-0.7 1-0.9 2-2.3 10-0.1 2 0.3 1 0.7 1 1.1 1 4.2 2.4 3 1.3 3 1 5 1.1 5 0.1 4-0.6 2-0.7 2-1 3-2.2 3-3.4 1.4-2 1.7-3 1.3-3 0.6-2 0.5-2 0.1-2-0.1-2-0.8-2-1.4-2-1.3-1.1-2-1.3-3-1.2-3-0.7-2-0.2-3 0-3 0.3zM324.9 268l0.1 2-2.9 0 2.8-2z"/>
<path fill="#36ffc1" fill-rule="evenodd" d="M203 156l122 0 0 61.7-4.8 4.3-3.8 3-3.3 2-2.1 0.9-3 0.9-3 0.6-3 0.1-7-0.2-2 0.1-2 0.5-2 0.7-14.8 6.4-3.5 2-2.4 2-2.8 3-2.1 3-0.7 2 0.1 1 1.1 2 5.1 6.1 2 3.5 0.8 2.4 0.3 2-0.1 2-0.4 2-68.6 0 0-10.4 3 2.2 4 1.9 4 1 3 0.1 2-0.1 2-0.5 2-0.8 3-2 1.3-1.4 1.4-2 0.6-2 0-1-0.1-1-0.7-2-3.7-8-2.7-9-1.1-1.4-1-0.3-2 0.3-9 4.1-6 2 0-83.7zM289 157.9l-6 1.4-6 2-8.7 3.7-3.7 2-1.1 1-1.3 2-1.8 6-1.4 2.8-1 1.4-1 1-2 1.1-2 0.4-3 0-3-0.4-8-1.9-2-0.2-2 0.1-2 0.5-3 1.5-4.1 2.7-2.5 2-1.5 2-0.8 2-0.3 2 0.1 3 4.1 23.1 1 3.4 1 1.2 1 0.4 2 0.2 8-0.9 7.8-1.4 3.2-0.9 2-0.8 2-1.2 1-0.7 2-2.4 7-12.7 1.7-2.3 1.3-1.2 2-0.8 2-0.2 11 0.3 3-0.1 2-0.3 2-0.6 2-1 3-2.6 2-2.5 3-4.7 5.6-10.3 2.2-5 1.5-4 0.4-2 0-2-0.6-2-0.7-1-1-1-2.4-1.6-2-0.7-2-0.4-3-0.2-4 0.3-3 0.5z"/>
<path fill="#49ffad" fill-rule="evenodd" d="M224 157l3-0.5 6.7-0.5 47.3 0-0.1 1-0.8 1-1.4 1-6.1 3-7.6 3.1-1.6 0.9-1.2 1-1.2 2-1.4 5-0.8 2-1.8 2.6-2 1.5-1 0.5-2 0.6-3 0.2-4-0.6-8-2.1-3-0.1-2 0.6-2 0.9-8 4.4-2.1 1.5-0.8 1-0.5 1-0.2 1 0 2 0.4 3 2.6 13 0.8 6 0.1 6-0.3 3-0.5 2-1.4 3-1.5 2-2.2 2-2.4 1.6-3 1.4-3 0.9-3 0.2-2-0.4 0-51.1 2.7-2.6 1.4-2 0.9-2 2.2-8 1.5-3 1.3-2 2-2.3 3-2.3 3-1.5 3-0.9zM314.7 171l2.3-0.2 3 0.6 3 1.4 2 1.6 0 25.3-3.1 3.3-1.2 2-0.3 1-0.3 2 0.1 5-0.4 3-0.9 3-1.9 3-1.9 2-2.1 1.5-2.8 1.5-2.2 0.8-2 0.4-3 0.2-3-0.2-5-0.6-3 0.1-3 1-6 2.7-3 1.1-3 0.8-7 1.4-2 0.8-2.2 1.5-5.8 6.2-7.7 6.8-0.5 1 1.3 1 5.9 1.5 3 1.2 3 1.9 2.5 2.4 2 3 0.8 3-0.3 2.9-1 2.1-29.4 0-0.8-1-1.1-2-0.4-2 0.1-2 1.2-3 3.8-5 0.4-1-0.9-1-4.9-1.4-2-0.8-2-1.1-3-2.5-1.7-2.2-1.5-3-0.6-2-0.3-2-0.1-2 0.3-2 0.6-2 0.6-1 0.8-1 1.9-1.6 2-1.1 2-0.7 5-1.3 13-2.4 2-0.6 2-0.9 2-1.8 4-6.5 2-2.4 3-2.5 3-1.5 3-0.8 4-0.4 3 0.1 7 1 2 0 2-0.4 2-1.2 3-3 1.8-3 0.7-2 1.1-6 1-3 1.7-4 2.7-4.9 2-2.9 3-3.1 2-1.2 2.7-0.9z"/>
<path fill="#5dff9a" fill-rule="evenodd" d="M244.9 157l3.1-1 26.1 0 1 1 0.1 1-0.7 1-1.3 1-1.7 1-8.5 3.4-2 1.3-1 1.6-1.3 5.7-1.3 3-1.7 2-1.4 1-1.3 0.6-3 0.7-2 0-2-0.3-3-0.7-7-2.4-2-0.3-1 0-2 0.6-6 2.7-3 0.8-2 0.2-2-0.4-1-0.5-0.9-1-0.8-2-0.3-2 0.1-2 0.5-2 1.4-3.1 1.6-1.9 1.4-1.2 2-1.2 3-1 2-0.3 5-0.2 3-0.7 9.9-4.4zM313.6 176l2.4-0.2 2 0.5 2 0.9 2.1 1.8 1.5 2 0.9 2 0.5 2 0 3.6-0.3 1.4-0.7 2-1.9 3-2.1 2.1-5 3.9-0.8 1-0.2 0.6-0.1 1.4 0.2 1 2.4 7 0.3 2 0 2-0.3 2-0.6 2-1.2 2-1.9 2-1.4 1-1.8 1-3.6 1.1-2 0.2-2-0.1-2-0.3-5-1.3-2-0.3-1 0.1-2 0.7-7 3.4-4 1.3-4 0.6-8-0.2-2 0.3-1 0.6-1 1-3.7 5.9-1.7 2-1.6 1.5-3 2.2-2 1.1-2 0.9-3 1-3 0.6-2 0.1-2-0.1-2-0.3-2-0.7-2-1-1-0.8-1.4-1.5-1.3-2-0.7-2-0.3-2 0.1-2 0.6-2 1.1-2 1.9-1.8 1.9-1.2 4.1-1.6 5-1.2 6-0.7 8-0.2 2-0.6 1-0.9 0.5-0.8 2.6-6 2-3 0.9-1 2-1.7 2-1.1 2-0.8 3-0.6 4-0.1 3 0.4 6 1.8 2 0.3 2-0.3 1-0.5 1.9-1.4 6.9-6 2-2 0.5-1 0.1-1-1.1-6-0.1-2 0.3-3 1-3 1.5-3 2.3-3 2.7-2.1 2.6-0.9zM206.7 187l1.3-0.5 2-0.2 2 0.4 1 0.6 1 1.1 1 1.6 2 4.6 2.2 7.4 1.1 6 0.5 6-0.2 4-0.8 4-1.2 3-1.3 2-2.3 2.4-3 2-3 1-2 0.2-2-0.3-2-0.8 0-42.2 2-1.5 1.7-0.8zM253.2 256l3.8-0.1 2 0.3 2 0.6 3 1.4 2.2 1.8 1.4 2 0.5 1 0.4 2-0.3 2-0.4 1-1.7 2-20.3 0-1.8-1.6-1-1.4-0.6-2 0.1-2 1-2 1.9-2 2.6-1.6 3-1 2.2-0.4z"/>
<path fill="#70ff87" fill-rule="evenodd" d="M254.5 157l5.5-0.7 5 0.1 3.2 0.6 1.5 1 0 1-1 1-1.8 1-4.9 1.8-2.1 1.2-0.8 1-0.5 1-0.8 6-0.6 2-1.1 2-1 1-2.1 1.5-2 0.6-2 0.3-2-0.1-2-0.3-4-1.3-7-3.8-2-0.6-1 0.1-1 0.4-4 1.9-2 0.4-1-0.1-1-0.5-0.5-0.5-0.5-0.8-0.2-1.2 0.1-1 0.4-1 0.7-1.1 1-0.9 1-0.6 2-0.6 4 0.1 2-0.2 2-1.2 5-3.7 4-2.3 5-1.9 6.5-1.6zM313.7 180l1.3 0 2 0.5 1 0.6 1 0.9 1 1.4 0.7 1.6 0.1 1 0 2-0.5 2-0.5 1-1.8 2.2-1.1 0.8-1.9 1-2 0.4-1 0-2-0.6-1-0.6-1-1.1-1-2.1-0.2-1 0-2 0.2-1.3 0.6-1.7 1.4-2.2 2-1.8 1-0.5 1.7-0.5zM205.3 191l1.7-0.7 1-0.2 2 0 2 0.9 2 2 2 3.4 1.7 4.6 1.2 5 0.6 5 0 4-0.4 3-0.7 3-1.4 3.3-2 2.7-2 1.8-2 1.1-2 0.5-1 0.1-2-0.2-1-0.3-2-1.2 0-36 2.3-1.8zM305.2 206l1.8-0.1 1 0.2 2 1 1 0.9 2 2.6 0.7 1.4 0.6 2 0.2 3-0.7 3-1.2 2-0.9 1-1.2 1-1.5 0.9-3 0.9-2 0.2-2-0.2-3-0.8-5-2.7-1-0.3-1 0-1 0.4-6 4.2-2.7 1.4-3.3 1-4 0.4-3.5-0.4-3-1-1.7-1-1-1-0.6-1-0.4-1-0.2-2 0.3-2 0.6-2 1.1-2 0.8-1 1.6-1.5 2-1.2 2-0.8 2-0.5 2-0.2 3 0.3 2 0.4 2 0.7 6 3.2 1 0.3 1-0.1 1-0.4 1-0.8 4-4.3 2-1.7 3-1.8 2.2-0.6zM242.2 228l3.8-0.5 3-0.1 3 0.3 3 0.9 2 1.3 0.8 1.1 0.5 2-0.3 2-1.4 3-1.6 2-2.3 2-2.7 1.7-4 1.6-3 0.6-3 0.1-3-0.5-1.5-0.5-1.5-0.9-1.3-1.1-0.9-1-0.8-1.6-0.4-1.4-0.1-2 0.2-1 0.8-2 0.7-1 2.2-2 1.6-1 2-0.8 4.2-1.2zM255.5 258l2.5 0.1 3 0.6 2.5 1.3 1.2 1 0.8 1 0.9 2-0.1 2-0.4 1-0.7 1-1.1 1-1.8 1-11 0-2.3-1.1-1.2-0.9-0.9-1-0.5-1-0.3-1 0-1 0.2-1 0.5-1 0.9-1 1.3-1 2-1.1 2-0.6 2.5-0.3z"/>
<path fill="#87ff70" fill-rule="evenodd" d="M247.1 161l2.9-0.6 3-0.3 3 0.3 1 0.6-0.3 4 0.3 4-0.1 2-0.4 2-0.4 1-1.1 1.7-1.4 1.3-1.6 0.9-2 0.5-2 0.2-2-0.2-3-0.8-2-1-2.5-1.6-1.1-1-0.8-1-0.7-2 0-1 0.7-2 0.7-1 1.9-2 1.8-1.3 2-1.2 4.1-1.5zM206.4 193l1.6-0.4 2 0.1 2 1.1 2 2.1 1.7 3.1 1.3 3.5 1 4.5 0.4 4-0.1 4-0.4 3-0.9 3-1 2.2-2 2.7-2 1.7-2 0.9-2 0.2-2-0.3-1-0.4-2-1.6 0-30.9 2-1.8 1.4-0.7zM302.2 210l1.8-0.7 1-0.2 2 0.1 1 0.4 2.1 1.4 0.9 1.1 1 1.9 0.3 1 0.2 2-0.3 2-0.4 1-0.6 1-1.2 1.4-1 0.8-2 1-3 0.4-3-0.7-1.7-0.9-1.2-1-1.3-2-0.4-2 0.2-1 0.7-2 1.4-2 0.8-1 1.5-1.3 1.2-0.7zM275 213l3-0.2 3 0.5 3 1.4 1.7 1.3 1.5 2 0.3 1 0.1 1-0.2 1-0.5 1-1.5 2-1.4 1.1-2 1.2-2 0.8-3 0.5-2 0-2.7-0.6-2.1-1-1.2-1-1-1.4-0.6-1.6 0-2 0.7-2 1.3-2 1.6-1.3 2-1.1 2-0.6zM240.6 230l3.4-0.7 3-0.1 3 0.3 2 0.7 1.3 0.8 0.9 1 0.5 1 0.1 2-0.6 2-1.4 2-1.8 1.7-2.1 1.3-2.9 1.3-3 0.6-2 0.1-2-0.1-2.7-0.9-1.5-1-0.9-1-0.6-1-0.5-2 0.2-2 1-2 2-1.9 2-1.1 2.6-1zM255.5 260l2.5 0 2 0.4 1.4 0.6 1.4 1 0.8 1 0.4 0.9 0.1 1.1-0.3 1-0.7 1-1.1 0.9-1 0.5-2 0.5-2 0.1-3-0.4-1.6-0.6-1.6-1-0.8-1-0.4-1-0.1-1 0.4-1 0.8-1 1.4-1 1.9-0.7 1.5-0.3z"/>
<path fill="#9aff5d" fill-rule="evenodd" d="M245.7 163l3.3-0.6 2 0.1 1 0.2 1 0.5 1 0.9 1.1 1.9 0.6 2 0.3 2-0.2 2-0.3 1-0.5 1.1-1 1.4-1 0.8-2 1-2 0.5-2 0-2-0.4-2-0.7-2.8-1.7-1-1-0.7-1-0.4-1-0.2-1 0-1 0.8-2 0.7-1 0.9-1 1.7-1.3 2-1.1 1.7-0.6zM206.7 195l1.3-0.3 2 0.2 2 1.1 1.7 2 1.3 2.2 1.1 2.8 0.8 3 0.5 4 0.1 3-0.3 3-0.7 3-1.2 3-1.4 2-1.9 1.8-1 0.6-2 0.6-2-0.1-1-0.3-2-1.3-1-1.1 0-26.2 2-2.1 1.7-0.9zM304.2 212l1.8-0.1 1 0.3 1.4 0.8 0.9 1 0.6 1 0.4 2-0.3 2-1.1 2-1.9 1.3-2 0.5-2-0.2-1-0.4-1-0.7-1.2-1.5-0.4-2 0.4-2 1.2-2 1.1-1 2.1-1zM275 215l2-0.3 2.6 0.3 2.4 1 1.2 1 0.8 1 0.4 1 0.2 1-0.2 1-0.4 1-0.7 1-1.3 1.1-1.6 0.9-1.4 0.5-2 0.2-3-0.3-1-0.4-1.5-1-0.8-1-0.5-1-0.2-1 0.2-2 0.5-1 1.3-1.5 1-0.7 2-0.8zM244.7 231l3.3 0.3 1.9 0.7 1.2 1 0.5 1 0.2 1-0.2 1-0.4 1-0.6 1-1 1-1.6 1.2-2 1-2 0.6-2 0.3-2-0.2-2-0.6-1-0.6-1-1-0.7-1.7 0-1 0.2-1 0.5-1 0.9-1 1.1-0.9 2-1.1 2-0.6 2.7-0.4zM254.8 263l2.2-0.6 2 0.4 0.5 0.2 1 1 0 1-0.9 1-1.6 0.5-1 0-2-0.5-1.1-1 0-1 0.9-1z"/>
<path fill="#adff49" fill-rule="evenodd" d="M246.9 164l1.1-0.1 2 0.1 2 0.7 1 0.8 1 1.3 0.8 2.2 0.2 2-0.1 1-0.9 2-0.8 1-1.2 1-2 0.8-3 0.2-2-0.4-1.6-0.6-1.6-1-1.1-1-1.2-2-0.1-1 0.3-2 1.4-2 1.1-1 1.8-1.1 2.9-0.9zM206.4 197l1.6-0.5 2 0.3 1.9 1.2 1.1 1.2 1 1.5 1 2.3 0.9 3 0.5 3 0.1 3-0.2 3-0.6 3-0.7 2-1.1 2-1.8 2-1.1 0.7-2 0.7-2-0.1-1-0.4-2-1.6-1-1.4 0-21.6 1.9-2.3 1.5-1zM303.7 216l1.3-0.6 1 0.2 1 1 0.2 1.4-0.4 1-0.8 0.7-1.2 0.3-0.8-0.2-0.9-0.8-0.3-1 0.2-1 0.7-1zM274.3 218l1.7-0.8 1-0.2 2 0.3 1.2 0.7 0.9 1 0.3 1-0.2 1-0.6 1-1.6 1.1-2 0.4-2-0.4-1.5-1.1-0.5-1 0-1 0.4-1 0.9-1zM241.1 234l2.9-0.7 2 0.2 1.1 0.5 0.9 1 0.1 1-0.5 1-0.6 0.8-1.8 1.2-2.2 0.6-2-0.1-1.3-0.5-0.7-0.6-0.3-0.4-0.2-1 0.3-1 0.8-1 1.5-1z"/>
<path fill="#c1ff36" fill-rule="evenodd" d="M244.3 166l2.7-0.9 2 0 2 0.6 1.6 1.3 1.2 2 0.2 2-0.5 2-0.6 1-0.9 0.9-2 1.1-1 0.2-2 0-1.3-0.2-1.7-0.6-2-1.4-0.7-1-0.5-1-0.2-1 0.1-1 0.4-1 0.6-1 1.3-1.2 1.3-0.8zM206.1 199l0.9-0.5 1-0.2 1 0 1.8 0.7 1.2 1 1 1.3 1.3 2.7 0.7 2.2 0.5 2.8 0.1 3-0.1 2-0.5 2.8-0.8 2.2-1.1 2-1.1 1.3-1 0.8-2 0.8-2-0.3-1-0.4-1-0.8-1-1.2-1-1.7 0-16.7 1-1.8 1-1.1 1.1-0.9z"/>
<path fill="#d4ff23" fill-rule="evenodd" d="M244.6 167l2.4-0.8 2 0.1 1.9 0.7 1.1 1 0.6 1 0.4 2-0.1 1-0.4 1-0.8 1-1.7 1.1-1 0.2-2 0.1-2-0.5-2-1.4-1-1.5-0.1-1 0.1-1 1-1.7 1.6-1.3zM207.9 200l1.1 0 1 0.3 1 0.6 1 1.1 1 1.5 1 2.5 0.7 4-0.1 4-0.4 2-0.7 2-1.1 2-0.9 1-1.5 1-1 0.3-1 0-1-0.3-1.5-1-1.5-2-1-2.4 0-10.8 1-2.4 1-1.6 1-0.9 1-0.6 0.9-0.3z"/>
<path fill="#e7ff0f" fill-rule="evenodd" d="M245.1 168l1.9-0.7 1 0 1 0.1 1.2 0.6 1.1 1 0.5 1 0.1 1-0.2 1-0.5 1-1.2 1-2 0.6-2-0.3-1-0.4-1-0.8-0.7-1.1-0.2-1 0.2-1 0.6-1 1.2-1zM207.2 202l0.8-0.3 1 0 1 0.4 1.1 0.9 0.9 1.1 0.9 1.9 0.6 2 0.3 2 0 2-0.2 2-0.9 3-0.7 1.4-1 1.2-1 0.7-1 0.3-1 0-1-0.3-1-0.8-1-1.2-1.1-2.3-0.6-3-0.1-3 0.3-2 0.5-1.8 1-2.2 1-1.2 1.2-0.8z"/>
<path fill="#fbf100" fill-rule="evenodd" d="M245.9 169l1.1-0.4 1 0 1.3 0.4 1 1 0.2 1-0.2 1-0.3 0.5-1 0.7-1 0.3-1-0.1-1.2-0.4-1-1-0.2-1 0.3-1 1-1zM207.1 204l0.9-0.4 1 0 1 0.4 1 1 1.1 2 0.6 3 0 3-0.7 2.7-1 1.8-1 0.9-1 0.4-1 0-1-0.5-1-0.9-1-1.8-0.6-2.6-0.1-3 0.6-3 1.1-2 1.1-1z"/>
<path fill="#ffdb00" fill-rule="evenodd" d="M207.7 206l0.3-0.2 1 0 1 0.6 1 1.6 0.5 2 0 2-0.5 2.5-1 1.5-1 0.6-1 0-1-0.6-1-1.7-0.5-2.3 0.1-2 0.4-1.9 1-1.6 0.7-0.5z"/>
<path fill="#ffc400" fill-rule="evenodd" d="M207.8 210l0.2-0.4 1-0.1 0.3 0.5 0.2 1-0.1 1-0.4 1-1-0.1-0.4-0.9 0-1 0.2-1z"/>
<path fill="none" stroke="#1a2a2a" stroke-opacity=".6" stroke-width=".45" d="M246.3 168l1.7-0.2 1 0.1 1 0.5 1 1.1 0.4 1.5-0.2 1-0.6 1-0.6 0.5-1 0.5-2 0.1-1-0.2-1-0.6-1-1.1-0.3-1.2 0.2-1 0.7-1 1.7-1M206.8 203l1.2-0.6 1 0 1 0.4 1 0.9 0.9 1.3 0.5 1 0.8 3 0.2 2-0.1 2-0.6 3-0.7 1.4-1 1.4-1 0.8-1 0.3-1 0-1-0.4-1-0.8-0.6-0.7-1-2-0.7-3-0.1-3 0.6-3 0.8-2 1-1.4 0.8-0.6M244.4 164l2.6-0.8 3-0.1 2 0.5 1 0.6 1 1.1 1.3 2.7 0.3 3-0.5 2-0.4 1-0.8 1-1 1-1.9 1-1 0.3-2 0.2-2-0.2-2-0.5-2-1-2-1.6-0.9-1.2-0.4-1-0.2-1 0-1 0.8-2 1.8-2 1.9-1.3 1.4-0.7M203 198.9l2-2.2 2-1.1 2-0.2 1 0.2 2 1.2 1 1.1 1 1.4 1.7 3.7 1 4 0.4 5-0.3 4-1.1 4-1.6 3-2.1 2.1-2 1-2 0.3-1-0.1-2-1-2-2M302.7 214l1.3-0.7 1-0.2 1 0 1 0.4 0.8 0.5 0.8 1 0.5 1 0.2 1-0.3 2-1 1.6-1 0.7-2 0.6-1 0-2-0.9-0.9-1-0.4-1-0.1-1 0.1-1 0.3-1 0.6-1 1.1-1M274.7 216l2.3-0.4 2 0.1 2 0.8 1 0.8 1 1.3 0.4 1.4-0.4 1.6-1 1.4-2 1.3-2 0.6-1 0-2-0.2-1-0.3-1-0.5-1-0.9-0.6-1-0.3-1 0-1 0.3-1 0.5-1 1-1 1.8-1M242.8 232l2.2-0.2 2 0.2 2.3 1 0.8 1 0.3 1-0.1 1-0.4 1-0.7 1-1 1-1.6 1-1.6 0.7-3 0.5-2-0.2-1-0.3-1.2-0.7-0.9-1-0.4-1-0.1-1 0.3-1 0.6-1 1.7-1.5 2-1 1.8-0.5M278.1 156l0.3 1-0.4 1-1 1-1.6 1-4 2-7.4 3-2 1.3-1.3 1.7-1.3 5-1.2 3-1.2 1.8-1 0.9-2 1.3-1 0.4-2 0.4-4-0.1-3-0.5-7-2.1-3-0.3-3 0.9-6 3-5.4 2.3-1.6 1-0.8 1-0.2 0.7-0.1 2.3 0.6 3 2.8 12 0.9 5 0.4 4 0.1 3-0.2 3-0.8 4-1.2 3-1.4 2-2.1 2.1-3 2.1-3 1.3-2 0.4-3 0-2-0.6M203 186.4l2-1.5 4.3-2.9 0.9-1 0.8-2 0.8-6 1.2-4 1-2 1-1.5 1.3-1.5 1.7-1.6 3-1.8 3-1 3-0.6 5-0.3 3-0.5 7-2.2M325 195.9l-2 2.4-3.7 3.7-1.3 2-0.2 1-0.1 2 0.8 5 0.1 3-0.3 2-1 3-2.1 3-2.3 2-1.9 1.1-3 1.2-4 0.7-3-0.2-6-1-3 0.1-2 0.5-6 2.8-4 1.5-4 0.9-7 0.8-2 0.6-2 1.3-5.8 6.7-4.2 3.5-3 2-2 1-3 1.2-2 0.4-2 0.3-3-0.1-3-0.5-2-0.6-2-1-2-1.6-1.5-1.6-1.2-2-0.8-2-0.6-3 0-2 0.4-2 0.7-1.7 0.9-1.3 1.1-1.1 2-1.4 3-1.3 4-1.2 6-1.1 9-1.3 2-0.5 1-0.5 1-0.7 1-1.1 3.3-5.8 2.3-3 1.4-1.3 2-1.4 3-1.4 3-0.7 4-0.3 4 0.4 6 1.3 2 0 2-0.6 2-1.3 3.9-3.7 1.6-2 0.5-1 0.6-2 0.5-7 0.4-2 0.9-3 1.6-3.4 2-3.3 2-2.5 2-1.7 2-1.2 2-0.6 2-0.2 2 0.2 2 0.7 2 1.1 2 1.7 1 1.1M242.4 270l-1.7-2-0.5-1-0.6-2 0.2-2 0.8-2 0.6-1 0.8-1 2-1.8 3-1.8 3-0.9 4-0.3 4 0.4 3 0.8 3 1.5 2 1.5 1 1 1.7 2.6 0.5 1 0.4 2-0.2 2-0.3 1-1.2 2M280 162.8l-3 0.9-4 1.6-3 1.7-2.4 2-1.4 2-0.8 2-0.4 3 0.3 3 0.8 2 0.6 1 1.3 1.6 3 2.3 3 1.4 3 1 3 0.5 4 0 3-0.6 2-0.6 3-1.6 2-1.6 2.1-2.4 1.3-2 1.3-3 0.6-3-0.2-3-0.8-2-1.3-2-2.3-2-2.7-1.4-3-0.9-3-0.4-3 0.1-3 0.4M235 185l-2.1 1-2.7 2-1.8 2-1.3 2-0.7 2-0.4 2-0.1 3 0.4 3 1.1 4 1.2 3 1.4 2.3 2 2.3 2 1.5 2 0.9 2 0.4 3-0.1 3-0.9 2.2-1.4 1.9-2 1.7-3 1.1-3 0.6-4 0-4-0.4-3-0.8-3-0.9-2-1.5-2-1.9-1.5-3-1.4-3-0.7-3 0.1-2 0.5M325 228.8l-2-0.3-3 0.1-12 2.8-11 1.3-3 0.6-3 1-4 1.9-4 2.6-2.8 2.2-3.1 3-2.2 3-1.5 3-0.6 3 0.2 2 0.8 3 3.2 8.9 1.4 3.1M313.3 270l5.7-3.3 3-2.1 3-2.5M283 165l-3 0.3-2 0.6-2 0.8-2.2 1.3-1.2 1-1.6 2-0.4 1-0.5 2 0.1 2 0.6 2 1.2 1.9 1 1 2 1.5 2 1 2 0.6 2 0.4 3-0.1 2-0.3 2-0.7 2-1 2-1.7 1.3-1.6 1-2 0.5-2-0.1-2-0.5-2-1.2-1.9-1-1.1-2-1.4-2-0.9-2-0.5-3-0.2M238 196.6l-1 0.7-0.2 0.7-0.1 1 0.3 1 1 0.8 1-0.1 0.5-0.7 0.3-1-0.1-1-0.6-1-1.1-0.4M325 238.7l-1.7-1.7-2.3-1.4-3-0.9-3-0.3-5 0.3-7 1-4 0.8-4 1.3-4 2-3 2.2-2.3 2-2.6 3-1.4 2-1.3 3-0.6 3 0.1 2 0.7 3 1.4 2.8 1.7 2.2 2.3 1.8 2 0.9 3 0.8 3 0.3 4-0.1 4-0.7 4-1.2 4-1.6 4-2.2 3-2.1 3.3-2.9 2.6-3 2.1-3.2M279 167.7l-2 0.9-1 0.7-1 0.9-1.2 1.8-0.4 1-0.1 2 0.6 2 1.1 1.7 1.5 1.3 1.5 0.9 2 0.6 2 0.3 2-0.1 2-0.4 2-1 1-0.7 1-0.9 1-1.4 0.8-2.3-0.1-2-0.3-1-1.2-2-1.1-1-1.1-0.7-3-1.1-3-0.2-3 0.7M304 239l-5 1.3-4 1.8-2 1.3-2 1.6-2 2-1.5 2-1.1 2-0.7 2-0.2 3 0.4 2 0.5 1 1.4 2 1.2 1 1.7 1 1.3 0.5 2 0.5 2 0.2 4-0.2 4-0.9 4-1.5 4.5-2.6 3.5-3 2.5-3 1.1-2 0.7-2 0.4-3-0.3-2-0.5-1-1.5-2-1.3-1-1.1-0.5-3-0.9-4-0.2-5 0.6M282 169l-2 0.4-1 0.4-1.6 1.2-0.8 1-0.4 1-0.2 1 0 1 0.3 1 0.6 1 1 1 1.1 0.7 2 0.7 1 0.2 2-0.1 2-0.7 1.2-0.8 1-1 0.6-1 0.3-1-0.1-2-1-1.9-1.4-1.1-1.6-0.7-1-0.3-2 0M303 243l-3 0.9-3 1.6-3 2.5-1.5 2-0.5 1-0.6 2 0 2 0.8 2 0.9 1 0.9 0.6 2 0.8 2 0.3 3-0.1 3-0.7 3-1.2 2.7-1.7 2.3-2 1.5-2 0.9-2 0.4-2-0.4-2-0.6-1-0.8-0.8-2-1.1-2-0.5-3-0.1-3 0.5"/>
<path fill="#eaf2fb" fill-rule="evenodd" d="M202.6 146.6H325.2V270.7H202.6zM204.20 212.75a60.25 55.75 0 1 0 120.50 0a60.25 55.75 0 1 0 -120.50 0z"/>
</g>
<path d="M245.2 172.8h.01M280.5 172.8h.01M238 185.4h.01M263.2 186.6h.01M287.6 185.4h.01M216.2 180.8h.01M309.7 181.3h.01M220.7 198h.01M246.8 198h.01M277.3 199h.01M305.7 198h.01M234 212.4h.01M263.2 212.9h.01M292.4 212.4h.01M219.4 227.5h.01M248.6 226.3h.01M277.3 226.3h.01M307 226.3h.01M238.5 240.2h.01M263.2 239.7h.01M287.6 240.2h.01M215.4 245.2h.01M311 245.2h.01M246 253.5h.01M279.2 253.5h.01M263.2 264.9h.01M209.3 212.9h.01M319.8 217.4h.01M246 161.9h.01M281.8 162.4h.01" stroke="#1a1a1a" stroke-opacity=".85" stroke-width="1.25" stroke-linecap="round" fill="none"/>
<ellipse cx="264.6" cy="213.1" rx="55" ry="52.2" fill="none" stroke="#1c1c1c" stroke-width="1"/>
<path d="M254.7 161.7L262.6 153.6M274.4 161.7L266.6 153.6" stroke="#1c1c1c" stroke-width=".8" fill="none"/>
<path d="M211 202.6C208 200.5 204.8 200.9 204.4 204L204.1 212.1C203.9 216.8 203 220.5 203.2 223.9C203.4 227.5 206 229.2 211.2 226.9" stroke="#222" stroke-width=".8" fill="none" stroke-linejoin="round"/>
<path d="M318.1 202.6C321.1 200.5 324.3 200.9 324.7 204L325 212.1C325.2 216.8 326.1 220.5 325.9 223.9C325.7 227.5 323.1 229.2 317.9 226.9" stroke="#222" stroke-width=".8" fill="none" stroke-linejoin="round"/>
<text x="264.6" y="152" font-size="4.3" text-anchor="middle" fill="#161616">IC28</text>
<rect x="326.4" y="147.7" width="6.1" height="123" fill="url(#jet)"/>
<text x="336.1" y="156.1" font-size="4.9" fill="#161616">1.68</text>
<text x="336.1" y="170.1" font-size="4.9" fill="#161616">1.44</text>
<text x="336.1" y="184.1" font-size="4.9" fill="#161616">1.20</text>
<text x="336.1" y="198.1" font-size="4.9" fill="#161616">0.96</text>
<text x="336.1" y="212.1" font-size="4.9" fill="#161616">0.72</text>
<text x="336.1" y="226.1" font-size="4.9" fill="#161616">0.48</text>
<text x="336.1" y="240.1" font-size="4.9" fill="#161616">0.24</text>
<text x="336.1" y="254.1" font-size="4.9" fill="#161616">0.00</text>
<text x="336.1" y="268.1" font-size="4.9" fill="#161616">−0.24</text>
<path d="M332.4 154.3h1.6M332.4 168.3h1.6M332.4 182.3h1.6M332.4 196.3h1.6M332.4 210.3h1.6M332.4 224.3h1.6M332.4 238.3h1.6M332.4 252.3h1.6M332.4 266.3h1.6" stroke="#222" stroke-width=".6" fill="none"/></g>
<g><rect x="202.8" y="275.2" width="122.6" height="122.8" fill="#eaf2fb"/>
<g>
<rect x="208" y="285" width="115" height="111" fill="#36ffc1"/>
<path fill="#49ffad" fill-rule="evenodd" d="M208 285l115 0 0 111-115 0 0-111zM251 304.2l-0.9 0.8 0.9 0.7 1-0.1 0.6-0.6-0.6-0.7-1-0.1z"/>
<path fill="#5dff9a" fill-rule="evenodd" d="M208 285l115 0 0 111-115 0 0-111zM249 301.9l-1.6 1.1-0.7 1-0.3 1 0.2 1 0.7 1 0.7 0.5 1 0.5 1 0.3 2 0.2 2.1-0.5 1.5-1 0.4-0.5 0.3-0.5 0.1-1-0.2-1-0.7-1-0.5-0.5-1-0.6-2-0.4-1 0-2 0.4z"/>
<path fill="#70ff87" fill-rule="evenodd" d="M208 285l115 0 0 111-115 0 0-111zM251 300l-2 0.4-1.3 0.6-1.5 1-0.9 1-0.6 1-0.3 1 0.1 1 0.4 1 0.8 1 1.3 0.9 3 1 3 0 2-0.4 1.1-0.5 1.3-1 0.8-1 0.4-1 0.1-1-0.1-1-0.5-1-1.1-1.3-2-1.2-2-0.5-2 0z"/>
<path fill="#87ff70" fill-rule="evenodd" d="M208 285l115 0 0 111-115 0 0-111zM250 299l-2 0.6-2 1.1-1.5 1.3-0.8 1-0.7 1.3-0.3 1.7 0.3 1.1 1 1.4 1 0.9 2 1.1 2 0.6 2 0.2 2 0 2-0.3 2-0.7 1.9-1.3 0.9-1 0.6-1 0.4-2-0.5-2-1.3-1.7-1.6-1.3-2.4-0.9-2-0.3-3 0.2zM264 390.4l-0.8 0.6 0.1 1 0.7 0.4 1 0.2 1-0.2 0.7-0.4 0.2-1-0.9-0.6-1-0.2-1 0.2z"/>
<path fill="#9aff5d" fill-rule="evenodd" d="M208 285l115 0 0 111-115 0 0-111zM251 297.9l-2 0.4-2 0.8-2 1.3-1.8 1.6-1.4 2-0.4 1-0.2 1 0.1 1 0.7 1.6 1.4 1.4 1.6 1 2 0.8 3 0.7 3 0.1 2-0.2 3-0.9 2-1.2 1.4-1.3 0.7-1 0.7-2-0.2-2-0.3-1-1.2-2-2.1-1.8-2-0.9-3-0.5-3 0.1zM266 351l-2.7 1-1.3 0.9-1 1.1-1 2-0.1 2 0.3 1 0.8 1.4 1.9 1.6 2.1 0.8 1 0.1 2-0.1 2-0.6 1-0.5 1-0.7 1-1 1-2 0.2-2-0.2-1-0.4-1-0.8-1-1.2-1-2.6-1-3 0zM263 388.7l-1 0.4-1 0.8-0.6 1.1 0 1 0.7 1 0.9 0.7 2 0.6 2 0 1-0.2 2-1.1 0.6-1 0.1-1-0.5-1-1.3-1-1.9-0.6-1 0-2 0.3z"/>
<path fill="#adff49" fill-rule="evenodd" d="M208 285l115 0 0 111-115 0 0-111zM252 297l-3 0.6-3 1.2-1.8 1.2-2.2 2-1.5 2-0.7 2-0.1 1 0.2 1 0.4 1 1.7 1.8 2 1.2 3 1.2 3 0.6 3 0.2 3-0.3 3-0.9 2-1 2.3-1.8 0.7-1 0.8-2 0.2-1-0.2-2-0.3-1-1-2-1.8-2-1.6-1-1.1-0.4-3-0.6-4 0zM266 344.9l-3 0.8-3 1.3-2 1.3-1.9 1.7-1.7 2-1 2-0.7 2-0.1 3 0.7 3 1.2 2 1.5 1.8 2 1.6 2 1.1 3 1 2 0.3 3 0.1 3-0.5 3-1 2.7-1.4 2.6-2 1.8-2 1.8-3 0.6-2 0.2-3-0.5-2-1-2-1.6-2-2.6-2-3-1.4-3-0.8-3-0.2-3 0.3zM264 386.9l-2 0.4-1.5 0.7-1.3 1-0.8 1-0.3 1 0.1 1 0.4 1 0.8 1 1.6 1 1 0.4 3 0.4 3-0.4 1.1-0.4 1.5-1 0.9-1 0.4-1 0.1-1-0.3-1-0.7-1-1.3-1-1.7-0.7-2-0.4-2 0z"/>
<path fill="#c1ff36" fill-rule="evenodd" d="M208 285l115 0 0 43.9-1.3-2.9-1.7-2.7-2-2.4-2-1.6-2-1-2-0.4-2.9 0.1-2.1 0.7-2 1.1-1 0.8-2 2.1-2.2 3.3-5 9-1.8 2.3-2 1.5-2 0.8-2 0.3-3-0.2-8-0.9-5 0.1-3 0.4-3 0.6-5 1.9-3 1.6-3 2-2.9 2.6-1.8 2-1.3 2-1 2-0.6 2-0.4 3 0.4 3 0.6 2 0.9 2 2.1 3.3 2.5 2.7 3.5 2.6 3 1.4 3 0.8 4 0.6 5-0.3 5-1.1 5-1.7 8-3.5 2-0.7 2-0.3 2-0.1 2 0.4 2 0.8 5 2.3 3 1 3 0.3 2-0.3 3-1.2 1.4-1 1.6-1.4 2.7-3.6 2.3-4.6 0 33.6-51.3 0 1.4-1 0.9-1 0.6-1 0.4-2-0.2-1-0.4-1-0.7-1-1-1-2.7-1.6-3-0.7-2-0.2-2 0.2-3 0.9-2.3 1.4-1.1 1-0.7 1-0.4 1-0.2 1 0 1 0.3 1 0.6 1 0.8 0.9 1.4 1.1-50.4 0 0-111zM249 296.9l-2.9 1.1-2.1 1.3-2.1 1.7-2.5 3-1 2-0.2 2 0.2 1 0.5 1 1.1 1.2 2.6 1.8 3.4 1.4 4 0.9 3 0.2 4-0.3 3-0.7 3.3-1.5 2.5-2 0.7-1 0.9-2 0.2-1 0-2-0.5-2-0.9-2-1.2-1.7-1-1-2.3-1.3-3.7-0.8-5 0-4 0.7z"/>
<path fill="#d4ff23" fill-rule="evenodd" d="M208 286l1.4-1 87.5 0 0.3 2 0.6 1 1.1 1 4.1 2.3 2.3 1.7 1 1 0.8 1 0.4 1 0.1 1-0.2 1-0.4 1-0.7 1-2.2 2-4.8 3-11.3 6-2.8 2-1.1 1-0.9 1-1.1 2-1.9 5-0.9 2-1.4 2-2 2-3 2-12.9 6.2-7 4.1-3.9 2.7-3.6 3-3.1 3-2.4 3-1.3 2-1.4 3-0.4 3 0.1 2 0.4 2 1 3 3.5 8 1.1 3 0.8 3 0.2 3-0.4 2-0.4 1-1.3 2-1 1-1.9 1.4-3 1.2-3 0.6-2 0-3-0.3-2-0.6-2-0.8-2-1-2.1-1.5-2.1-2-2.2-3-2-4-1.3-4-1.3-7-0.8-3-1.2-3-1-1.6 0-75.4zM251 295.9l-4 1.1-3 1.6-3 2.4-2.6 3-1.7 3-0.3 2 0.2 1 0.5 1 1.9 1.8 3 1.8 2 0.9 3 0.9 5 0.9 4 0.1 5-0.5 4-1 2.2-0.9 1.7-1 1.3-1 0.9-1 0.6-1 0.5-2-0.1-2-0.5-2-1.1-3-1-2-1.5-2-1-0.9-2.8-1.1-3.2-0.4-5-0.2-5 0.5z"/>
<path fill="#e7ff0f" fill-rule="evenodd" d="M228.8 286l1.9-1 57 0-0.5 1-0.7 1-2.5 2.2-4 2.5-4 1.9-3 0.7-2 0.2-15 0.4-3 0.2-3 0.5-3 0.9-3 1.4-2.8 2.1-2.1 2-1.8 2-1.4 2-1.4 3-0.2 2 0.3 1 0.7 1 1.1 1 1.6 1.1 5 2.4 6 1.9 6.9 1.6 2.7 1 1.3 1 0.5 1 0 1-0.8 2-2.5 3-3.6 3-6.5 4.5-6 3.6-4 1.9-4 1.3-3 0.4-2-0.1-2-0.4-2-0.6-2-0.9-2-1.2-2-1.5-3.1-3-1.5-2-1.3-2-1.8-4-1.6-6-0.5-3-0.2-2 0.5-4 0.9-3 0.8-2 2.3-4 5.5-7.6 2.8-5.4 1.8-2 1.3-1 2.1-1.5 2.8-1.5z"/>
<path fill="#fbf100" fill-rule="evenodd" d="M232 286l1.9-1 50 0-0.4 1-0.8 1-1.2 1-2.5 1.6-4 1.8-4 1.3-4 0.7-13 1.1-5 0.9-2 0.6-3 1.4-2.4 1.6-2.4 2-3.8 4-3 4-1.2 2-1 2-0.2 1-0.1 1 0.5 1 1.3 1 8.9 4 3.4 2 1 1 0.5 1 0.1 1-0.3 1-0.6 1-1 1-1.7 1.2-2 1.1-2 0.6-3 0.5-2-0.1-2-0.5-2-1-2-1.6-1-1.2-1.2-2-0.6-2-0.5-3-0.3-1-0.4-0.6-1-0.9-4-2-1-0.8-1.3-1.7-0.6-2 0.2-3 1.1-3 2.2-4 3.4-5 2.6-5 1.6-2 1.2-1 4.6-3z"/>
<path fill="#ffdb00" fill-rule="evenodd" d="M233.9 286l2-1 45.4 0-0.3 1-0.8 1-2.2 1.6-3 1.6-4 1.4-4 1-4 0.6-12 1.4-2.1 0.4-3.1 1-3.7 2-2.6 2-8.5 8.3-3 2.3-2 1-2 0.6-2 0-1-0.2-1.4-1-0.7-1-0.2-1-0.1-1 0.4-2 1.3-3 3.7-6 2-4 1.4-2 2.6-2.5 3.9-2.5z"/>
<path fill="#ffc400" fill-rule="evenodd" d="M235.4 286l2-1 41.8 0-0.2 1-0.8 1-1.2 1-3 1.6-4 1.5-6 1.5-13 1.6-3.5 0.8-2.5 0.9-2.1 1.1-3 2-7.9 6.9-3 2.1-2 0.9-2 0.5-1 0-1.4-0.4-1-1-0.4-1 0-1 0.4-2 0.9-2 3.5-6 1.5-3 1.3-2 2-2 2.2-1.6 2.4-1.4z"/>
<path fill="#ffae00" fill-rule="evenodd" d="M236.6 286l2.1-1 38.7 0-0.1 1-0.8 1-1.2 1-2.3 1.3-3 1.2-3 0.9-4 0.8-12.9 1.8-3.1 0.8-2 0.7-3 1.5-1.6 1-7.4 5.9-3 2.1-3 1.2-1 0.1-1.4-0.3-0.6-0.4-0.4-0.6-0.3-1 0.3-2 0.9-2 4.2-8 1.3-2 2-2 2-1.5 2.6-1.5z"/>
<path fill="#ff9400" fill-rule="evenodd" d="M237.7 286l2.2-1 35.8 0 0 1-0.6 1-1.3 1-2.8 1.5-3 1.1-4 1-13 1.9-5 1.3-3 1.2-1.8 1-3 2-5.2 3.9-2 1.3-2 0.9-1 0.2-1 0-1-0.3-0.6-1-0.1-1 0.2-1 0.7-2 4.1-8 1.6-2 1.1-1 2-1.5 2.7-1.5z"/>
<path fill="#ff7e00" fill-rule="evenodd" d="M238.8 286l2.3-1 33 0 0.2 1-0.6 1-1.2 1-2.5 1.3-3 1.1-5 1.2-12 1.8-2.6 0.6-3 1-4.1 2-8.3 5.5-2 0.9-1 0.1-1-0.1-0.5-0.4-0.4-1 0.1-1 0.7-2 3.3-7 1.6-2 1.1-1 2.1-1.5 2.8-1.5z"/>
<path fill="#ff6800" fill-rule="evenodd" d="M239.7 286l2.5-1 30.4 0 0.3 1-0.5 1-1.2 1-1.8 1-3.4 1.2-5 1.2-11 1.7-5 1.3-5 2.3-7 4.2-2 0.7-1 0-0.9-0.6-0.1-1 1.7-5 1.3-3 1.6-2 1.1-1 2.3-1.6 2.7-1.4z"/>
<path fill="#ff5200" fill-rule="evenodd" d="M240.7 286l2.7-1 27.6 0 0.6 1-0.4 1-1.2 1-1.9 1-2.7 1-4.4 1.1-10 1.5-4 0.9-5 1.7-8 4.1-2 0.5-1-0.7-0.1-1.1 0.7-3 0.7-2 1.2-2 2-2 1.4-1 3.8-2z"/>
<path fill="#ff3b00" fill-rule="evenodd" d="M241.7 286l3.1-1 24.6 0 0.9 1-0.3 1-1.2 1-1.9 1-2.9 1-4.5 1-11.5 1.9-5 1.5-8 3.4-1 0.2-1-0.3-0.4-0.7 0-2 0.6-2 1.1-2 1.9-2 1.5-1 4-2z"/>
<path fill="#ff2500" fill-rule="evenodd" d="M242.7 286l3.7-1 21.2 0 1.4 1-0.2 1-1.1 1-2 1-3.2 1-3.5 0.8-11 1.8-4 1.1-6 2.2-2 0.5-1 0.1-0.9-0.5-0.3-1 0.2-2 1-2 0.8-1 2.6-2 1.9-1 2.4-1z"/>
<path fill="#fa0f00" fill-rule="evenodd" d="M243.8 286l4.9-1 16.7 0 2.2 1 0 1-1.1 1-2.1 1-3.3 1-13.1 2.3-10 2.9-2 0.1-0.6-0.3-0.5-1 0-1 0.8-2 0.9-1 2.6-2 2-1 2.6-1z"/>
<path fill="#df0000" fill-rule="evenodd" d="M245.1 286l2.9-0.5 3-0.3 10.8-0.2 2.2 0.3 2 0.7 0.3 1-1 1-2.2 1-3.7 1-10.4 1.8-10 2.5-2 0-0.6-0.3-0.5-1 0.1-1 0.5-1 0.8-1 2.7-2 2.1-1 3-1z"/>
<path fill="#c40000" fill-rule="evenodd" d="M246.8 286l5.2-0.5 8-0.1 2 0.1 2.2 0.5 0.8 1-1 1-2.3 1-4.1 1-8.6 1.4-9 2.1-2 0-0.9-0.5-0.1-1 0.3-1 0.8-1 1.1-1 1.6-1 2.2-1 3.8-1z"/>
<path fill="#a80000" fill-rule="evenodd" d="M249.6 286l5.4-0.2 5 0 2 0.3 1.4 0.9-0.8 1-2.5 1-4.6 1-5.5 0.9-9 1.9-2 0-0.9-0.8 0.1-1 0.7-1 1.2-1 1.7-1 3.2-1.2 4.6-0.8z"/>
<path fill="#8d0000" fill-rule="evenodd" d="M245.8 287l3.2-0.5 8-0.2 3 0.2 1.5 0.5-0.6 1-2.6 1-9.3 1.6-6 1.4-2 0.2-1.2-0.2-0.5-1 0.5-1 1.2-1 1.8-1 3-1z"/>
<path fill="none" stroke="#1a2a2a" stroke-opacity=".6" stroke-width=".45" d="M270.4 285l0.7 1-0.4 1-1.1 1-3.6 1.6-5 1.3-10 1.6-4 0.8-4.9 1.7-8.1 3.8-1 0.2-1-0.2-0.4-0.8 0.1-1 0.6-3 0.9-2 1.5-2 2.3-1.9 1.9-1.1 3.1-1.4 1.9-0.6M276.7 285l-0.1 1-0.7 1-1.2 1-2.7 1.5-3 1.1-3 0.8-4 0.8-12 1.7-5 1.5-2 0.9-2.9 1.7-7.1 5.5-3 2-2 0.8-1 0.2-1 0-1-0.4-0.8-1.1-0.1-1 0.5-2 5.1-10 1.6-2 1.7-1.5 3-1.9 3.2-1.6M285.9 285l-0.4 1-0.8 1-1.7 1.5-3 1.9-5 2.1-3 0.9-3 0.5-15 0.9-5 0.9-3 1-2.5 1.3-2.7 2-2.1 2-3.3 4-1.8 3-0.5 2 0 1 0.4 1 1.5 1.7 3 1.9 4 1.8 9.6 3.6 1.7 1 0.9 1 0.4 1 0 1-0.9 2-1.6 2-3.6 3-3.5 2.3-3 1.7-4 1.7-3 0.8-3 0.3-2-0.1-2-0.4-3-1.1-3.4-2.2-2.9-3-1.3-2-1.4-3-1.7-5-2-5-0.5-2-0.1-2 0.4-3 1.5-4 1.7-3 4.7-6.7 2.7-5.3 1.7-2 1.6-1.3 3-2 3.2-1.7M253 297l-3 0.4-3 1-2.7 1.6-2.3 2.1-1.3 1.9-0.5 1-0.4 2 0.2 1 0.5 1 1.5 1.6 2.2 1.4 2.8 1.1 3 0.6 3 0.1 3-0.3 3-0.9 2-1 2-1.6 1.3-2 0.5-2-0.2-2-0.3-1-1.3-2.3-1.6-1.7-2.4-1.3-3-0.6-3-0.1M264 345.9l-3 1.2-3 1.9-2.1 2-1.4 2-0.9 2-0.4 2 0.2 3 0.7 2 1.2 2 1.9 2 1.8 1.3 3 1.3 3 0.6 3 0 3-0.5 3-1 2-1.1 2.2-1.6 1.9-2 1.3-2 0.9-2 0.4-3-0.2-2-0.8-2-1.3-2-1.4-1.4-2.4-1.6-2.3-1-2.3-0.6-3-0.2-3 0.2-2 0.5M261 387.9l-1.6 1.1-0.7 1-0.3 1 0 1 0.4 1 0.9 1 1.3 0.8 1 0.4 2 0.4 3-0.1 1.6-0.5 1.4-0.7 1.3-1.3 0.4-1 0-1-0.3-1-0.7-1-1.7-1.1-2-0.7-2-0.2-2 0.2-2 0.7M250 302l-2 1-0.8 1-0.3 1 0.2 1 0.8 1 2.1 1 1 0.1 2-0.1 1.9-1 0.8-1 0.2-1-0.2-1-0.8-1-1.9-1-1-0.2-2 0.2"/>
<path fill="#eaf2fb" fill-rule="evenodd" d="M202.8 275.2H325.4V398H202.8zM209.20 340.40a56.40 53.80 0 1 0 112.80 0a56.40 53.80 0 1 0 -112.80 0z"/>
</g>
<path d="M247.6 301.8h.01M280.8 301.8h.01M240.8 314h.01M264.6 315.2h.01M287.5 314h.01M220.3 309.6h.01M308.3 310.1h.01M224.6 326.2h.01M249.1 326.2h.01M277.8 327.2h.01M304.5 326.2h.01M237.1 340.1h.01M264.6 340.6h.01M292 340.1h.01M223.3 354.8h.01M250.8 353.5h.01M277.8 353.5h.01M305.8 353.5h.01M241.3 367h.01M264.6 366.5h.01M287.5 367h.01M219.6 371.9h.01M309.5 371.9h.01M248.3 379.9h.01M279.5 379.9h.01M264.6 390.9h.01M213.9 340.6h.01M317.7 345h.01M248.3 291.3h.01M282 291.8h.01" stroke="#1a1a1a" stroke-opacity=".85" stroke-width="1.25" stroke-linecap="round" fill="none"/>
<ellipse cx="265.8" cy="340.9" rx="51.7" ry="50.5" fill="none" stroke="#1c1c1c" stroke-width="1"/>
<path d="M256.6 291.1L263.8 283M275 291.1L267.8 283" stroke="#1c1c1c" stroke-width=".8" fill="none"/>
<path d="M215.4 330.6C212.5 328.6 209.6 329 209.2 332L208.9 339.8C208.7 344.4 207.9 347.9 208.1 351.2C208.3 354.8 210.7 356.4 215.7 354.1" stroke="#222" stroke-width=".8" fill="none" stroke-linejoin="round"/>
<path d="M316.2 330.6C319.1 328.6 322 329 322.4 332L322.7 339.8C322.9 344.4 323.7 347.9 323.5 351.2C323.3 354.8 320.9 356.4 315.9 354.1" stroke="#222" stroke-width=".8" fill="none" stroke-linejoin="round"/>
<text x="265.8" y="281.4" font-size="4.3" text-anchor="middle" fill="#161616">IC32</text>
<rect x="326.6" y="273.2" width="5.6" height="124.3" fill="url(#jet)"/>
<text x="335.8" y="281.6" font-size="4.9" fill="#161616">1.68</text>
<text x="335.8" y="295.8" font-size="4.9" fill="#161616">1.44</text>
<text x="335.8" y="310" font-size="4.9" fill="#161616">1.20</text>
<text x="335.8" y="324.2" font-size="4.9" fill="#161616">0.96</text>
<text x="335.8" y="338.4" font-size="4.9" fill="#161616">0.72</text>
<text x="335.8" y="352.6" font-size="4.9" fill="#161616">0.48</text>
<text x="335.8" y="366.8" font-size="4.9" fill="#161616">0.24</text>
<text x="335.8" y="381" font-size="4.9" fill="#161616">0.00</text>
<text x="335.8" y="395.2" font-size="4.9" fill="#161616">−0.24</text>
<path d="M332.2 279.8h1.6M332.2 294h1.6M332.2 308.2h1.6M332.2 322.4h1.6M332.2 336.6h1.6M332.2 350.9h1.6M332.2 365.1h1.6M332.2 379.3h1.6M332.2 393.5h1.6" stroke="#222" stroke-width=".6" fill="none"/></g>
<g><rect x="202.8" y="399.5" width="122.6" height="124.3" fill="#eaf2fb"/>
<g>
<rect x="207" y="411" width="117" height="111" fill="#0034ff"/>
<path fill="#004cff" fill-rule="evenodd" d="M207 411l117 0 0 111-117 0 0-111zM283 432.9l-0.3 0.1-0.8 1 1.1 0.7 1-0.3 0.4-0.4-0.4-0.9-1-0.2z"/>
<path fill="#0064ff" fill-rule="evenodd" d="M207 411l117 0 0 111-117 0 0-111zM245 441.8l-1 0.7-0.2 0.5-0.1 1 0.3 1.3 1 1.7 1 0.6 1.1-0.6 0.3-1 0-2-0.4-1-1-1-1-0.2zM282 429.9l-2 0.7-0.7 0.4-1 1-0.5 1-0.1 1 0.3 1.3 0.5 0.7 1.2 1 2.3 0.8 2 0 2.5-0.8 1.2-1 0.6-1 0.2-1-0.1-1-0.4-1-1-1.1-1.9-0.9-1.1-0.2-2 0.1z"/>
<path fill="#0080ff" fill-rule="evenodd" d="M207 411l117 0 0 111-117 0 0-111zM242 436.9l-1.7 1.1-0.8 1-0.4 1-0.3 2 0.6 3 3.6 10.4 1 2.1 1 1.3 1 0.7 1 0.4 1-0.1 1-0.5 1.3-1.3 0.7-1.2 0.9-2.8 0.4-3 0.3-4-0.2-3-0.4-1.9-1-2.1-0.7-1-1.1-1-1.2-0.7-1-0.5-2-0.4-2 0.2-1 0.3zM283 428l-3 0.5-1.3 0.5-1.5 1-1 1-0.6 1-0.5 2 0.1 1 0.4 1 0.7 1 1.1 1 2.6 1.3 3 0.4 3-0.4 2.5-1.3 1.1-1 0.7-1 0.6-2-0.4-2-0.5-1-1-1.1-1.3-0.9-1.7-0.7-3-0.3z"/>
<path fill="#0098ff" fill-rule="evenodd" d="M207 411l117 0 0 111-117 0 0-111zM241 433.9l-2.2 1.1-1.2 1-0.7 1-0.5 1-0.4 2 0.3 3 4.4 15 1.3 2.9 1 1.4 1 1 1 0.6 1 0.3 2 0.1 2-0.8 2-1.8 1.1-1.7 1.3-3 0.7-3 0.5-5 0-4-0.3-3-0.6-2-1.1-2-1.6-1.7-1.9-1.3-2.1-0.9-2-0.5-3-0.1-2 0.4zM280 426.8l-2 0.7-2 1.1-1.5 1.4-0.8 1-0.5 1-0.5 2 0.3 2 1 1.6 1.5 1.4 1.6 1 2.9 1 2 0.2 2 0 2-0.3 2-0.7 2-1.2 1.8-2 0.9-2 0.1-2-0.2-1-1-2-0.9-1-1.3-1-2.4-1.1-3-0.5-2 0.1-2 0.3z"/>
<path fill="#00b0ff" fill-rule="evenodd" d="M207 411l117 0 0 111-117 0 0-111zM243 430.9l-2 0.3-2 0.6-2 1-1.4 1.2-0.8 1-0.9 2-0.3 2 0.2 2 0.7 3 2.3 7 2.1 9 1.1 2.8 1 1.6 1 1.1 2 1.4 2 0.6 2 0 2-0.7 2.3-1.8 2.4-3 1.5-3 1-3 0.8-4 0.5-6 0-4-0.4-2-0.8-2-1.4-2-2.3-2-2.6-1.5-2-0.8-3-0.7-3-0.1zM282 425l-3 0.5-2 0.7-2 1-2.3 1.8-0.9 1-1.2 2-0.5 2 0.1 2 1 2 0.9 1 1.9 1.4 3 1.4 2 0.6 3 0.4 3-0.1 2-0.5 2-0.7 2-1.2 2.2-2.3 0.8-1.4 0.6-1.6 0.1-2-0.1-1-0.6-1.7-0.8-1.3-1.2-1.2-2-1.4-2-0.8-2-0.5-2-0.2-2 0.1zM256 496.8l-1 0.2-1 0.7-0.3 0.3-0.3 1 0.3 1 1.1 1 2.2 0.7 2 0 2-0.6 0.9-1.1-0.1-1-0.8-1-1-0.6-2-0.6-2 0z"/>
<path fill="#00c8ff" fill-rule="evenodd" d="M207 411l117 0 0 111-117 0 0-111zM216 498l-0.6 1-0.2 1 0 1 0.8 1.9 1 0.8 1 0.4 1-0.1 1-0.4 1-1.2 0.4-1.4 0-1-0.4-1.1-1-1.1-1-0.6-1-0.1-1 0.2-1 0.7zM240 428.8l-2 0.5-2 0.9-2 1.4-1.3 1.4-0.7 1.2-0.6 1.8-0.1 2 0.2 2 0.8 3 2.7 8 2 10 0.6 2 0.9 2 1.5 2.1 1 1 2 1.4 1.1 0.5 1.9 0.5 2-0.1 2-0.8 1-0.6 2-1.7 2.6-3.3 2.3-4 1.3-3 1.1-4 2.9-14-0.1-1-0.5-1-1-1-2.6-2-4-2.5-3-1.5-3-1-3-0.5-3-0.1-3 0.4zM279 423.9l-3 0.9-2.5 1.2-1.5 1-2.3 2-2.4 3-1.5 3-0.4 1 0 1 0.5 1 2.5 2 3.7 2 3.9 1.4 4 0.8 4 0.2 3-0.5 3-1.1 2-1.2 1.7-1.6 1.3-1.7 0.7-1.3 0.7-2 0.3-2-0.3-2-0.4-1.1-1-1.7-1.1-1.2-1.9-1.4-2-1-2-0.7-4-0.5-2 0.1-3 0.4zM313 496.8l-1 0.6-1.1 1.6-0.3 1 0 1 0.3 1 1.1 1.4 0.9 0.6 1.1 0.2 1-0.2 1-0.5 1.1-1.5 0.3-2-0.1-1-0.4-1-0.9-1-1-0.4-1-0.1-1 0.3zM255 494.9l-2 0.5-1.2 0.6-1.1 1-0.5 1-0.2 1 0.3 1 0.6 1 1.1 1 2 1 1 0.3 2 0.3 2 0.1 2-0.3 1.3-0.4 1.7-1 0.7-1 0.2-1-0.3-1-0.7-1-1.1-1-1.8-1-2-0.7-2-0.4-2 0zM289 498l-1.7 1-0.7 1-0.1 1 0.5 1 1 0.6 2 0.5 2-0.3 1.7-0.8 0.9-1 0.3-1-0.3-1-1.1-1-1.5-0.4-1 0-2 0.4z"/>
<path fill="#00e0fb" fill-rule="evenodd" d="M207 411l117 0 0 111-117 0 0-111zM215 495l-1 0.8-0.9 1.2-0.7 2-0.1 1 0.2 2 0.7 2 0.8 1.2 1 1 2 1 2 0.2 2-0.7 1-0.7 0.9-1 1-2 0.3-1 0-2-0.7-2-1.5-1.9-2-1.2-2-0.5-1 0-2 0.6zM283 421.9l-5 0.7-4.5 1.4-4 2-4.5 3-2 0.8-1 0.2-2-0.2-7-2.5-4-1.1-3-0.5-3-0.1-4 0.5-3 0.8-3 1.6-2 1.6-1.4 1.9-0.8 2-0.2 2 0.2 2 0.9 3 2.8 7 0.9 3 0.9 4 0.9 7 0.8 2.9 1.7 3.1 2.3 2.4 3 2 2 0.8 1 0.2 2-0.2 1-0.3 1-0.5 2-1.4 3-3.4 3.8-5.6 2.6-5 3.6-9.3 1-1.5 1-0.9 1-0.5 2-0.2 10 1.5 3 0.1 3-0.3 3-0.8 2-0.9 2-1.3 2.1-1.9 2.1-3 0.9-2 0.5-2 0-3-0.2-1-0.9-2-1.5-1.9-1-0.9-3-1.8-2-0.8-2-0.4-2-0.2-3-0.1zM313 493.9l-2.1 1.1-2.1 2-1 2-0.3 2 0.2 1 0.9 2 1.7 2 1.6 1 1.1 0.4 2 0 2-0.8 1-0.9 1-1.2 1-2.5 0.1-3-0.5-2-0.6-1.1-1-1.1-1-0.7-1-0.3-1-0.2-2 0.3zM252 493.7l-2 0.8-1 0.7-1 1-0.9 1.8-0.1 1 0.2 1 0.5 1 1.3 1.5 2 1.3 2 0.8 2 0.5 2 0.2 3 0 3-0.6 1.9-0.7 1.4-1 0.8-1 0.3-1-0.1-1-0.4-1-1.8-2-2.1-1.4-3-1.3-3-0.8-3-0.1-2 0.3zM288 496.9l-2 1.1-1.2 1-0.7 1-0.3 1 0.1 1 0.6 1 1.2 1 1.3 0.6 3 0.5 3-0.4 1.8-0.7 1.5-1 1-1 0.5-1 0.2-1-0.2-1-0.6-1-1.2-1-1-0.4-1-0.3-2-0.2-2 0.3-2 0.5z"/>
<path fill="#0ff8e7" fill-rule="evenodd" d="M207 411l117 0 0 111-117 0 0-111zM214 492.6l-1 0.5-1.1 0.9-0.9 1.1-0.9 1.9-0.5 2 0 2 0.3 2 0.6 2 1.2 2 0.8 1 1.5 1.3 1 0.6 1 0.4 2 0.4 2-0.2 1-0.3 2-1.1 1-0.9 1.7-2.2 1.1-3 0.1-2-0.4-2-1-2-0.7-1-1.8-1.6-2-1.2-2-0.7-2-0.4-2 0.2-1 0.3zM280 420.9l-5.5 1.1-9.5 3-3 0.6-3-0.2-8-1.8-5-0.8-4-0.3-4 0.2-4 0.9-3 1.4-2.7 2-1.7 2-1.1 2-0.2 1-0.2 1 0.1 2 0.9 3 4 8 1.8 5 0.8 4 0.7 8 0.6 2.8 1 2.2 1.5 2 1.9 2 2.6 2.2 3 1.8 2 0.6 2-0.1 2-0.9 1-0.8 3-3.3 3-4.1 4.9-7.4 5.1-8.4 1.4-1.6 1.4-1 1.2-0.5 2-0.4 11 0.1 3-0.3 2-0.5 2-0.9 2-1.2 2-1.7 2.3-2.6 2-3 0.9-2 0.7-2 0.3-2-0.1-2-0.5-2-1.1-2-0.7-1-1.8-1.6-2-1.3-2-0.8-2-0.5-2-0.3-3-0.2-6 0.6zM313 491.7l-3 1.4-2.5 1.9-2.5 2.3-1 0.7-1 0.5-1-0.2-3.8-2.3-3.2-0.9-3-0.1-2 0.3-2.3 0.7-2.2 1-2.8 2-0.9 1-0.5 1-0.2 1 0.1 1 0.6 1 1.1 1 1.7 1 2.4 0.8 3 0.4 3-0.3 2-0.5 3.1-1.4 3.9-2.3 1 0 1 0.7 4 4.6 2 1.5 2 0.9 1 0.2 2 0 2-0.5 1.8-1.1 1.1-1 1.1-1.3 0.9-1.7 0.9-3 0.1-2-0.1-2-0.6-2-1-2-0.9-1-1.3-1-1-0.5-2-0.3-3 0.5zM251 491.8l-3 1-1.8 1.2-1.7 2-0.8 2 0 2 0.9 2 1.4 1.5 2 1.4 3 1.2 3 0.7 3 0.2 4-0.1 3-0.5 3-1 2-1.4 0.8-1 0.3-1 0-1-0.4-1-0.7-1-2-2-2.9-2-3.1-1.5-4-1.3-3-0.5-3 0.1z"/>
<path fill="#23ffd4" fill-rule="evenodd" d="M207 411l117 0 0 79.4-1-0.9-2-1.1-1-0.2-2 0-2 0.3-3 1-3 1.5-5 2.9-2 0.7-2 0-3.9-0.6-2.1-0.1-2 0-3 0.5-3 1-3.5 1.6-5.5 3.7-2 0.9-1-0.1-1-0.6-6.5-4.9-5.5-3.2-4-1.7-4-1.5-3-0.8-2-0.2-1 0.2-2 0.8-2 1.5-2 1.9-1.7 2-1.3 2-0.8 2-0.1 1 0.3 2 0.5 1 1.8 2 1.3 0.9 2 1.1 2 0.7 5 0.9 6 0.4 7-0.5 4-0.8 2.3-0.7 3.7-1.5 1-0.3 1 0 1 0.3 2.9 1.5 3.1 1.4 5 1.3 5 0.2 6-0.8 2 0 2 0.8 4 3.2 2 1.3 3 1.1 2 0.2 3-0.3 2-0.8 2-1.2 1-0.8 2-2.2 0 11.6-117 0 0-14.1 1.2 2.1 1.6 2 1.2 1.1 2 1.3 3 1.1 2 0.2 2-0.2 2-0.6 2-1 2-1.5 2-2 1.6-2.4 1-2 0.6-2 0.2-2-0.2-1-0.8-2-2.4-3-2.4-2-1.5-1-2.1-1.2-3-1.2-4-0.9-3 0.2-1 0.3-1.7 0.8-1.2 1-1.1 1.5 0-82.5zM228 418.8l-2 0.7-2 1-2 1.5-1.8 2-1.4 2-0.9 2-0.4 2 0.3 2 0.4 1 1.3 2 4.5 4.9 2 2.5 2 3 1.7 3.6 1 3 0.5 3 0.3 10 0.5 2 0.9 2 2.5 3 7.6 7.4 2 1.5 1 0.5 1 0.2 1-0.2 1-0.5 2-2.1 11-16.4 4-5.2 3-3.1 2-1.5 3-1.2 4-0.5 9-0.3 3-0.7 2-1 2-1.5 2-2 4.2-5.4 2-3 1.5-3 0.8-2 0.5-2 0.2-2-0.3-2-0.8-2-1.1-1.6-1.4-1.4-1.6-1-2-0.8-2-0.5-4-0.3-6 0.4-8 1.2-12 2.3-4 0.3-5-0.5-16-2.8-5-0.7-4-0.2-4 0.4z"/>
<path fill="#36ffc1" fill-rule="evenodd" d="M234.2 411l62.8 0-0.1 1-0.6 1-1 1-1.8 1-3.5 1.2-6 1.5-10 2-6 0.8-5 0.3-5-0.2-6-1-5-1.1-5.2-1.5-3.8-1.6-2.1-1.4-0.9-1-0.6-1-0.2-1zM310 434l2-0.2 2 0.5 2 1.3 1.4 1.4 1.5 2 1.6 3 1 3 0.8 4 0.3 4-0.1 4-0.7 4-1.8 7-0.3 2-0.2 9-0.9 3-1.4 2-1.1 1-2.9 2-6.2 3.6-3 1.4-2 0.5-7 0.2-4 0.7-5.2 1.6-7.8 3.4-2 0.3-2-0.3-2-0.9-15-8.5-2.5-2-0.8-1-0.4-1-0.3-2 0.6-3 1-3 2.5-5 3.1-5 3.8-5.1 3-3.1 2-1.7 2-1.4 2-0.9 2-0.7 2-0.4 3-0.2 9 0.3 2-0.3 1.3-0.5 1.7-1.3 1-1.2 6-8.3 4-4.7 3-2.6 2-0.9zM215.1 442l1.9-0.7 1-0.2 2 0.2 1 0.3 2 1.1 1 0.8 2 2.1 1 1.4 1.1 2 0.8 2 0.8 4 0 4-0.7 6 0.2 2 0.3 1 0.5 1 1.5 2 4 4 2.6 3 1.3 2 1 2 0.5 2 0 1-0.3 2-0.5 1-1.4 2-1.7 1.7-1 0.8-2 1-1 0.3-2 0-2-0.6-2-0.8-11.7-5.4-1.8-1-1.3-1-0.9-1-0.6-1-0.5-2 0-2 0.3-2 1.6-5 0.4-3-0.4-2-1.6-5-0.8-3-0.4-4 0.1-3 0.7-3 1.2-3 1.7-2.3 2.1-1.7zM257.4 511l14.6-0.9 3 0.1 3 0.5 7.8 2.3 2.6 1 1.9 1 1.3 1 0.8 1 0.4 1 0 1-0.4 1-0.6 1-1.1 1-51.4 0-1.1-1-0.6-1-0.4-1 0-1 0.3-1 0.7-1 1.8-1.5 2-1.1 3-1 3-0.6 9.4-0.8z"/>
<path fill="#49ffad" fill-rule="evenodd" d="M239.5 411l51.5 0-0.1 1-0.5 1-1.1 1-1.7 1-3.6 1.4-4 1.1-6 1.2-5 0.7-5 0.3-5-0.2-5-0.8-5-1.1-3-0.9-3-1.4-2-1.3-0.9-1-0.5-1-0.1-1zM306.7 440l1.3-0.6 2-0.2 2 0.4 2 1.4 1.6 2 1.1 2 1 3 0.6 3 0.1 4-0.4 3-0.8 3-2.1 6-0.4 2-0.1 3 0.6 5-0.2 3-0.6 2-0.6 1-1.7 2-2.1 1.7-2 1.3-4 1.9-3 0.8-6 0.9-4 1-4.5 1.4-6.5 2.5-3 0.7-1 0.1-2-0.4-3-1.1-8.5-4.8-4.2-3-1.7-2-0.5-1-0.5-2 0-3 0.7-3 1.6-4 2.2-4 2.9-4.1 3-3.3 3-2.5 2-1.2 3-1.3 2-0.5 2-0.2 3-0.1 4 0.4 7 1.2 2-0.1 0.6-0.3 1.2-1 0.6-1 2.6-6 2-3.3 3-3.6 2.7-2.1zM217.2 446l1.8-0.9 1-0.1 2 0.4 1 0.5 2 1.6 1 1.4 1.4 3.1 0.6 3-0.1 3-0.9 3.7-2.2 5.3 0 1 0.5 1 0.9 1 5.8 4.5 2.6 2.5 1.9 3 0.7 2 0.1 1-0.2 2-0.3 1-0.8 1.4-1 1.2-1 0.8-2 0.9-2 0.3-2-0.2-3-1-3.2-1.4-2.8-1.7-1.7-1.3-0.9-1-1-2-0.3-2 0.6-3 1.3-2.6 2.2-3.4 0.5-1 0.2-1-0.1-1-0.6-1-2.2-2.8-1.9-3.2-0.8-2-0.6-3 0-3 0.6-3 1-2 0.8-1 1.1-1zM258.3 513l4.7-0.4 5-0.1 4 0.2 4 0.7 4 1.3 2.2 1.3 1 1 0.5 1 0 1-0.6 1-1 1-1.7 1-30.7 0-1.8-1-1-1-0.5-1-0.1-1 0.5-1 1.2-1.1 1.6-0.9 3-1 5.7-1z"/>
<path fill="#5dff9a" fill-rule="evenodd" d="M242.9 411l44.6 0-0.1 1-0.5 1-1.1 1-1.8 1-2.5 1-4.5 1.2-5 1-4 0.4-4 0.2-4-0.2-3-0.3-4-0.8-4-1.1-3-1.3-1.7-1.1-0.9-1-0.5-1 0-1zM305.8 444l1.2-0.6 2-0.4 2 0.6 1 0.6 1 1.1 1.1 1.7 0.7 2 0.6 3-0.1 4-0.7 3-1.3 3-2.2 4-0.8 2 0 2 1.6 6 0.2 3-0.4 2-0.4 1-1.4 2-1 1-1.9 1.3-3.5 1.7-12.5 3.8-10 3.5-2 0.5-2 0.3-3-0.3-4-1.5-5.8-3.3-4-3-1.6-2-1-2-0.2-1-0.2-3 0.5-3 1-3 1.9-4 2.4-3.5 3-3.3 3-2.5 3-1.6 3-1 4-0.6 3 0.1 3 0.5 3 0.8 7 2.4 2 0.3 1-0.2 0.5-0.4 0.7-1 1.1-7 0.6-2 0.8-2 1.9-3 2.2-2zM219.7 449l1.3-0.3 1 0.1 1 0.5 1 0.8 1 1.5 0.8 2.4 0 2-0.1 1-0.7 2.1-1 1.4-1 0.7-1 0.3-1-0.2-0.8-0.3-1.2-1-1.3-2-0.6-2-0.1-2 0.3-2 1.1-2 1.3-1zM224.1 474l1.9 0 3 1.1 2.6 1.9 1.7 2 0.9 2 0.2 2-0.6 2-0.6 1-1.2 1-1 0.6-2 0.4-3-0.3-2-0.7-2-1.2-2-1.7-0.8-1.1-0.6-2 0-1 0.5-2 0.9-1.4 1-1.1 1-0.8 2.1-0.7zM259.8 515l3.2-0.3 3-0.1 3 0.2 3 0.5 2.4 0.7 1.7 1 0.7 1 0 1-0.9 1-1.9 1-4 1-10 0-4-1-1.9-1-0.8-1 0-1 0.7-1 2-1 3.8-1z"/>
<path fill="#70ff87" fill-rule="evenodd" d="M245.5 411l39.2 0 0 1-0.6 1-1.1 1-1.9 1-2.1 0.8-3 0.8-4 0.8-4 0.5-4 0.1-4-0.2-3-0.4-4-0.8-3-1-3-1.6-1-1-0.5-1 0-1zM308 447l1 0.1 1 0.4 1.4 1.5 0.9 2 0.3 3-0.6 3-1 2.2-1 1.2-1 0.8-1 0.5-1 0.1-1-0.2-1-0.7-1-1.5-0.7-2.4-0.2-3 0.7-3 1.1-2 1.1-1.1 1-0.6 1-0.3zM278 459l3 0 3 0.4 3 0.8 3 1.2 4.7 2.6 9.3 6.2 2 1.8 1 1.1 1.2 1.9 0.8 2 0.2 2-0.1 1-0.8 2-0.7 1-1.6 1.4-2 1.2-10.5 4.4-11.5 4.2-4 0.9-3 0-3-0.8-5-2.5-4.1-2.8-1.1-1-1.7-2-0.9-2-0.5-2-0.2-2 0.4-3 0.5-2 1.2-3 1.7-3 1.5-2 2.2-2.5 2-1.7 2-1.3 3-1.4 2-0.7 3-0.4zM223.7 478l1.3-0.5 2 0 1.4 0.5 1.4 1 0.8 1 0.4 1 0.2 1-0.2 1-0.6 1-1.4 1-2 0.3-1.2-0.3-2-1-1-1-0.5-1-0.2-1 0.1-1 0.5-1 1-1z"/>
<path fill="#87ff70" fill-rule="evenodd" d="M247.8 411l34.6 0 0 1-0.6 1-1.2 1-2.1 1-3.1 1-3.4 0.7-3 0.4-6 0.2-6-0.7-3-0.7-2.7-0.9-1.9-1-1.1-1-0.5-1 0-1zM273.7 461l2.3-0.6 2-0.2 3 0 2 0.3 4 1.1 2 0.9 2.7 1.5 3.9 3 7.3 7 1.8 2 1 2 0.1 1-0.1 1-0.4 1-1.3 1.6-2 1.4-8.5 5-6.5 2.8-6 2-2 0.4-2 0.2-3-0.4-3-1-4-2.1-3.8-2.9-1.7-2-1.1-2-0.5-2-0.2-2 0.1-2 0.3-2 0.7-2 1.3-3 1.3-2 1.6-2.1 2-2 2-1.6 2-1.2 2.7-1.1z"/>
<path fill="#9aff5d" fill-rule="evenodd" d="M249.9 411l30.4 0 0 1-0.6 1-1.4 1-2.3 1-2 0.6-5 0.8-6 0.2-5.3-0.6-2.7-0.6-2-0.8-1.3-0.6-1.3-1-0.6-1 0.1-1zM273.8 462l2.2-0.6 2-0.2 3 0.1 2 0.3 3 0.8 2 0.9 2 1.1 2 1.4 2.5 2.2 1.8 2 2.4 3 2 3 0.8 2 0.2 1-0.2 1-1.1 2-1.9 2-2.3 2-4.6 3-5.6 2.5-3 1.1-3 0.7-2 0.3-2 0-3-0.7-4-1.7-3-1.9-1.5-1.3-1.8-2-1.5-3-0.4-2-0.1-2 0.2-2 0.4-2 0.8-2 1-2 1.3-2 1.6-2 2-1.9 2-1.4 2-1 1.8-0.7z"/>
<path fill="#adff49" fill-rule="evenodd" d="M251.9 411l26.3 0 0.1 1-0.7 1-1.6 1-2.8 1-5.2 0.9-5 0-5-0.6-4-1.3-1.5-1-0.7-1 0.1-1zM273.6 463l2.4-0.6 3-0.3 3 0.2 2 0.5 3 1.1 2 1.1 2.7 2 2.1 2 1.6 2 1.9 3 0.9 2 0.5 2-0.1 2-0.8 2-1.4 2-2 2-3.4 2.5-4 2-5 1.7-4 0.7-3-0.2-2-0.5-2-0.8-4-2.3-2.4-2.1-0.8-1-1.2-2-0.8-3-0.2-3 0.4-2 0.5-2 0.9-2 1.2-2 2.4-2.9 3-2.4 2-1.1 1.6-0.6z"/>
<path fill="#c1ff36" fill-rule="evenodd" d="M254 411l22.2 0 0 1-0.7 1-0.5 0.3-1.4 0.7-1.6 0.5-4 0.7-5 0.1-3-0.3-3.6-1-1.8-1-0.8-1 0.2-1zM277.9 463l3.1 0.1 3 0.6 3 1.2 3.2 2.1 3 3 2 3 1.3 3 0.4 2 0 1-0.4 2-1.7 3-1.9 2-2.6 2-3.3 1.8-4 1.5-3 0.7-3 0.2-3-0.4-3-1.1-2.9-1.7-2.4-2-1.5-2-1-2-0.6-2-0.1-3 0.3-2 1-3 1.7-3 1.7-2 2.3-2 2.5-1.5 3-1.1 2.9-0.4z"/>
<path fill="#d4ff23" fill-rule="evenodd" d="M256 412l0.1-1 17.9 0 0.1 1-0.9 1-2.6 1-2.6 0.5-3 0.1-3-0.1-2.7-0.5-2.4-1-0.9-1zM276.1 464l2.9-0.3 3 0.3 3 0.9 3 1.5 3 2.5 1.8 2.1 1.7 3 0.9 3 0.1 2-0.2 1-0.6 2-1.2 2-1.8 2-2.7 2-2 1.1-4 1.6-3 0.7-3 0.2-3-0.5-2.9-1.1-2.1-1.2-2.2-1.8-1.7-2-1-2-0.8-3 0-2 0.5-3 1.2-2.9 1.4-2.1 1.8-2 2.8-2.1 3-1.4 2.1-0.5z"/>
<path fill="#e7ff0f" fill-rule="evenodd" d="M258.7 411l12.7 0 0.2 1-1.3 1-1.3 0.4-2 0.3-3 0.1-2-0.2-2.3-0.6-1.3-1 0.3-1zM275 465l3-0.5 3 0.1 3 0.8 2 0.8 2 1.2 2 1.7 1.7 1.9 1.7 3 0.9 3 0 2-0.4 2-0.9 2-1.5 2-2.2 2-2.3 1.4-2 1-3 1-3 0.5-3-0.1-2-0.4-3-1.2-3-2.1-1.9-2.1-1.2-2-0.6-2-0.2-3 0.5-3 1.3-3 2.1-2.8 2-1.8 2-1.3 3-1.1z"/>
<path fill="#fbf100" fill-rule="evenodd" d="M262.7 411l4.7 0 0.6 1-2 0.5-2 0-1.9-0.5 0.6-1zM274.1 466l1.9-0.5 3-0.3 3 0.3 2 0.6 2 1 2 1.3 1.8 1.6 1.5 2 1.1 2 0.9 3 0 2-0.4 2-1 2-1.5 2-1.4 1.3-2 1.4-3 1.4-3 0.9-3 0.3-2-0.1-3-0.8-2.7-1.4-2.5-2-1.5-2-0.9-2-0.6-3 0.1-2 0.8-3 1.3-2.5 2-2.4 2-1.6 3.1-1.5z"/>
<path fill="#ffdb00" fill-rule="evenodd" d="M277.1 466l2.9-0.1 2 0.4 3 1 2 1.2 1.7 1.5 1.7 2 1.1 2 0.8 3 0.1 2-0.5 2-0.9 2-2 2.4-2 1.6-3 1.5-3 0.9-2 0.3-3-0.1-2-0.5-2-0.8-2-1.3-2.1-2-1.3-2-0.8-2-0.3-2 0.3-3 0.6-2 1-2 1.6-2 2-1.7 2-1.1 2-0.8 2.1-0.4z"/>
<path fill="#ffc400" fill-rule="evenodd" d="M275.4 467l2.6-0.4 2 0 2 0.4 2 0.6 2 1.1 2 1.6 1.5 1.7 1.1 2 0.7 2 0.2 2-0.2 2-0.7 2-1.2 2-1.4 1.4-2 1.5-2 1-3 0.9-2 0.3-3-0.2-2-0.5-2-0.9-2.2-1.5-1.8-2-1.1-2-0.6-2-0.1-2 0.5-3 0.9-2 1.4-2 2-1.9 2-1.2 2.4-0.9z"/>
<path fill="#ffae00" fill-rule="evenodd" d="M274.4 468l2.6-0.7 2-0.1 2 0.2 2 0.6 2 0.9 1.6 1.1 1.4 1.3 1.2 1.7 1 2 0.5 2 0 2-0.5 2-1 2-0.8 1-1.4 1.4-2 1.3-2 0.9-2 0.6-3 0.3-2-0.2-3-1-2-1.2-1.3-1.1-1.5-2-0.9-2-0.4-2 0.3-3 0.6-2 1.2-2 1.9-2 2.1-1.4 1.4-0.6z"/>
<path fill="#ff9400" fill-rule="evenodd" d="M276.9 468l2.1-0.1 2 0.2 2 0.6 2 1 1.7 1.3 1.3 1.4 1 1.6 0.7 2 0.2 2-0.2 2-0.7 1.8-0.7 1.2-1.3 1.5-2 1.5-2 1-2 0.6-2 0.3-2-0.1-2-0.4-2-0.8-2-1.3-1.3-1.3-1.3-2-0.6-2-0.2-2 0.2-2 0.8-2 1.3-2 1.1-1.2 2-1.4 2-0.9 1.9-0.5z"/>
<path fill="#ff7e00" fill-rule="evenodd" d="M275.5 469l1.5-0.4 2-0.1 2 0.3 2 0.6 1.2 0.6 1.8 1.3 1 1 1.1 1.7 0.8 2 0.3 2-0.3 2-0.3 1-1.2 2-0.8 1-1.2 1-1.6 1-2.8 1-2 0.3-2-0.1-2-0.4-1.8-0.8-1.5-1-1.7-1.7-0.8-1.3-0.7-2-0.2-2 0.2-2 0.8-2 1.4-2 1.3-1.2 2-1.2 1.5-0.6z"/>
<path fill="#ff6800" fill-rule="evenodd" d="M274.6 470l1.4-0.5 2-0.3 3 0.2 2 0.7 1.6 0.9 1.2 1 1.2 1.5 0.8 1.5 0.5 2 0 2-0.2 1-0.8 2-0.8 1-0.9 1-1.4 1-2.2 1.1-2 0.5-2 0.1-2-0.3-2-0.7-1.2-0.7-1.8-1.6-1-1.3-0.5-1.1-0.5-2 0-2 0.6-2 1.1-2 0.9-1 1.4-1.1 1.6-0.9z"/>
<path fill="#ff5200" fill-rule="evenodd" d="M276.8 470l1.2-0.2 2 0.1 2 0.5 1.3 0.6 1.4 1 1 1 0.8 1 0.9 2 0.2 1 0 2-0.6 1.9-0.6 1.1-0.8 1-1.6 1.4-1.1 0.6-1.9 0.7-2 0.3-2-0.1-3-0.9-1.4-1-1.1-1-0.7-1-0.9-2-0.2-1 0.1-2 0.5-2 0.7-1.2 1.6-1.8 1.4-1 2.8-1z"/>
<path fill="#ff3b00" fill-rule="evenodd" d="M275.7 471l1.3-0.4 2-0.1 2 0.3 1 0.4 1.6 0.8 1.2 1 1.4 2 0.6 2 0 2-0.3 1-0.5 1.2-1 1.4-2 1.6-1.9 0.8-1.1 0.3-2 0.1-2-0.4-2-0.8-1-0.7-1-1-0.9-1.5-0.4-1-0.3-2 0.3-2 0.4-1 0.9-1.4 1-1 1-0.8 1.7-0.8z"/>
<path fill="#ff2500" fill-rule="evenodd" d="M275.1 472l1.9-0.6 1-0.2 2 0.1 2.1 0.7 1.6 1 0.9 1 1.2 2 0.2 1 0 2-0.7 2-0.8 1-1 1-1.5 0.9-1 0.4-1 0.3-2 0.1-2-0.4-1-0.4-1.4-0.9-1-1-1.1-2-0.3-1 0.1-2 0.6-2 0.7-1 1-1 1.5-1z"/>
<path fill="#fa0f00" fill-rule="evenodd" d="M277.7 472l2.3 0.1 2.3 0.9 1.3 1 0.8 1 0.8 2-0.1 2-0.3 1-0.8 1.4-1.8 1.6-2.2 0.8-2 0.2-1-0.2-2-0.7-1-0.8-1-1.1-0.7-1.2-0.3-1 0.1-2 0.9-2.2 1-1.1 1-0.8 1-0.5 1.7-0.4z"/>
<path fill="#df0000" fill-rule="evenodd" d="M276.8 473l2.2-0.2 2 0.4 1 0.6 1 0.8 0.9 1.4 0.4 2-0.4 2-0.9 1.3-1 0.8-1 0.6-2 0.5-2-0.2-2.1-1-1-1-0.6-1-0.5-2 0.5-2 0.6-1 1-1 1.9-1z"/>
<path fill="#c40000" fill-rule="evenodd" d="M276.7 474l1.3-0.3 2 0.1 1 0.5 1 0.7 0.8 1 0.4 1 0.1 1-0.1 1-0.5 1-0.7 0.9-1 0.7-1 0.5-1 0.1-2-0.1-1.8-1.1-0.8-1-0.5-1-0.1-1 0.2-1.1 1-1.7 1.7-1.2z"/>
<path fill="#a80000" fill-rule="evenodd" d="M277.2 475l1.8-0.2 1 0.2 1.4 1 0.6 1 0.1 1-0.2 1-0.6 1-1.3 0.9-1 0.3-1-0.1-1-0.2-1.2-0.9-0.6-1-0.2-1 0.2-1 0.8-1.2 1.2-0.8z"/>
<path fill="#8d0000" fill-rule="evenodd" d="M277.2 477l0.8-0.5 1 0 0.9 0.5 0.4 1-0.5 1-0.8 0.4-1 0-0.7-0.4-0.5-1 0.4-1z"/>
<path fill="none" stroke="#1a2a2a" stroke-opacity=".6" stroke-width=".45" d="M275.5 474l1.5-0.7 2-0.2 2 0.5 1 0.6 0.8 0.8 0.7 1 0.3 1 0.2 1-0.2 1-0.4 1-0.6 1-1.8 1.3-2 0.5-2-0.2-1-0.4-1.6-1.2-0.7-1-0.4-1 0-2 0.7-1.5 1.5-1.5M274.6 471l1.4-0.5 2-0.4 3 0.3 1.7 0.6 1.3 0.8 2 2 1.1 2.2 0.2 1 0 2-0.7 2-0.5 1-2 2-1.8 1-1.3 0.4-2 0.4-2-0.1-2-0.6-1-0.5-2-1.5-0.9-1.1-0.5-1-0.6-2 0-2 0.3-1 0.7-1.7 1-1.3 1-1 1.6-1M275.2 468l1.8-0.4 2-0.1 2 0.2 2 0.5 2 1 2 1.5 1.2 1.3 1.3 2 0.7 2 0.2 2-0.2 2-0.3 1-0.9 1.7-1 1.4-2 1.7-2 1.2-3 1-2 0.2-2 0-2-0.4-2-0.7-2-1.3-1.8-1.8-1.2-2-0.7-2-0.1-2 0.2-2 0.7-2 1.3-2 1.6-1.7 2-1.4 2.2-0.9M270.2 411l0.2 1-1.4 0.9-2 0.4-2 0.1-2-0.1-2-0.4-1.4-0.9 0.3-1M276.4 465l2.6-0.2 3 0.3 3 1 3 1.7 2.4 2.2 1.5 2 1.5 3 0.4 2-0.1 3-0.6 2-1.2 2-1.8 2-2.1 1.6-2.7 1.4-2.3 0.9-3 0.6-3 0.2-2-0.3-3-1-2.5-1.4-2.3-2-1.2-1.6-1.1-2.4-0.5-2-0.1-2 0.6-3 1.3-3 1.4-2 2.1-2 2.3-1.5 2-0.9 2.4-0.6M279.4 411l0.1 1-0.7 1-1.4 1-1.4 0.6-2 0.7-3 0.6-6 0.5-5-0.3-5.1-1.1-2.3-1-1.4-1-0.6-1 0.1-1M275.2 462l3.8-0.5 4 0.5 4 1.3 3 1.6 3 2.3 3.4 3.8 2.6 4 0.6 1 0.6 2 0 2-1 2-2.7 3-2.4 2-3.1 2-4 1.9-4 1.4-4 0.9-3 0.1-3-0.7-3-1.2-3-1.8-2-1.6-1.8-2-1.2-2-0.8-3-0.1-3 0.6-3 1.2-3 1.8-3 2.3-2.6 2-1.6 3-1.7 3.2-1.1M289.4 411l0 1-0.6 1-1 1-1.7 1-3.1 1.2-5 1.4-5 0.9-5 0.6-4 0.2-4-0.2-5-0.6-4-0.8-4-1.3-3-1.3-1.6-1.1-0.9-1-0.4-1-0.1-1M307.8 441l1.2-0.2 2 0.2 1.7 1 1.3 1.3 1.2 1.7 0.9 2 0.6 2 0.4 3 0 3-0.6 4-1 3-2.1 5-0.5 2 0 2 1 6-0.1 3-0.7 2-0.6 1-1.7 2-2.8 2.1-4 1.9-3 0.9-9 2.1-4 1.2-8 2.9-3 0.7-3-0.3-4-1.7-8.3-4.8-2.6-2-0.9-1-1.3-2-0.3-1-0.3-2 0.1-3 0.8-3 1.2-3 2.2-4 2.4-3.4 3-3.3 2-1.8 3-1.9 3-1.2 3-0.7 3-0.2 3 0.2 3 0.5 6 1.5 2 0.3 1-0.1 1-0.3 0.6-0.6 0.7-1 2.3-7 1-2 1.2-2 1.2-1.5 2-2 1-0.7 1.8-0.8M218.4 447l1.6-0.5 1-0.1 2 0.7 1 0.8 1.1 1.1 1.1 2 0.7 2 0.3 2 0 2-0.7 3-0.5 1.2-1 1.7-1 1.1-1 0.7-1 0.2-1-0.1-2-1.2-2-2.3-0.7-1.3-0.8-2-0.4-2-0.1-2 0.5-3 0.5-1.3 1-1.5 1.4-1.2M221.6 472l1.4-0.6 1 0 1 0.1 2 0.8 2 1.1 2 1.4 2 1.7 1.3 1.5 0.7 1.2 0.8 1.8 0.3 2-0.3 2-0.4 1-0.7 1-1 1-1.6 1-1.1 0.4-2 0.1-2-0.2-3-1.1-2.4-1.2-1.6-1-2.1-2-0.7-1-0.6-2 0-1 0.4-2 0.9-2 1.1-1.7 1-1.1 1.6-1.2M253.2 522l-2.2-1-1.2-1-0.6-1-0.1-1 0.6-1 1.3-1 2.2-1 3.8-0.9 4-0.6 5-0.2 4 0.2 3.7 0.5 3.3 0.9 2.2 1.1 1.2 1 0.5 1 0 1-0.7 1-1.2 1-2.2 1M279 421.9l-3 0.6-3 0.9-3.7 1.6-4.3 2.3-2 0.7-1 0.1-3-0.2-7-2.2-4-0.9-5-0.4-4 0.3-3 0.8-3 1.3-2 1.3-1.9 1.9-0.6 1-0.9 2-0.2 2 0.2 2 0.9 3 3 7 1.3 4 0.9 4 0.6 6 0.5 3 0.7 2 1.5 2.5 2 2.2 2 1.7 3 1.7 2 0.5 1 0 2-0.5 1-0.5 2-1.5 3-3.4 3.9-5.7 3.4-6 3.7-7.8 1-1.4 1-0.8 1-0.5 2-0.4 11 0.9 3-0.2 3-0.5 3-1.2 2-1.3 2-1.7 1.7-2.1 1.3-2 0.9-2 0.6-2 0.2-2-0.3-2-0.3-1-1.1-2-1-1.3-1-0.9-2-1.4-2-1-2-0.6-2-0.3-3-0.2-3 0.2-3 0.4M252 492.9l-2 0.6-2 1.2-1.2 1.3-0.9 2-0.1 1 0.5 2 0.7 1 1 1 1.4 1 2.3 1 2.3 0.6 3 0.4 3 0 3-0.5 2-0.7 1.6-0.8 1.1-1 0.3-0.5 0.3-0.5 0.1-1-0.2-1-0.5-1-1.8-2-1.9-1.3-3-1.5-3-1-3-0.5-3 0.2M313 493l-2.2 1-2.4 2-0.8 1-1.1 2-0.3 2 0.2 1 0.8 2 1.4 2 1.1 1 2.3 1.3 1 0.3 2 0 1.8-0.6 1.2-0.7 1-1 1-1.3 0.5-1 0.6-2 0.1-3-0.5-2-0.4-1-1.3-1.8-1-0.8-2-0.7-1-0.1-2 0.4M215 493.9l-1 0.5-1 0.9-1 1.5-0.4 1.2-0.3 3 0.7 3 1 1.7 1 1.2 2 1.3 1 0.3 2 0.1 2-0.5 2-1.5 1-1.2 0.7-1.4 0.5-2 0.1-1-0.4-2-0.4-1-1.5-2.1-1.1-0.9-1.9-1-2-0.5-1-0.1-2 0.5M290 495.9l-2 0.6-2 1-2 1.5-0.8 1-0.4 1 0 1 0.4 1 0.9 1 1.9 1.1 2 0.6 2 0.2 2-0.1 2-0.5 2-0.9 1.9-1.4 0.8-1 0.5-1 0.2-1-0.2-1-0.6-1-1.1-1-1.5-0.7-2-0.6-2 0-2 0.2M280 427.8l-2 0.8-1 0.6-1 0.8-1.4 2-0.5 2 0.1 1 0.8 1.8 1 1.1 1.6 1.1 1.4 0.6 2 0.6 2 0.1 2-0.1 2-0.6 1.2-0.6 1.4-1 1.5-2 0.6-2-0.3-2-0.5-1-0.7-1-1.2-1-1-0.6-2-0.7-3-0.4-3 0.5M241 435.8l-1.7 1.2-0.8 1-0.5 1-0.4 2 0.4 3.1 4 12.4 1 2.3 1 1.5 1 0.9 1 0.5 1 0.3 1-0.1 1.9-0.9 1.1-1.1 1-1.7 0.8-2.2 0.6-3 0.4-5 0-3-0.4-3-0.8-2-1.4-2-1.2-1-1.7-1-1.3-0.5-2-0.3-2 0-2 0.6"/>
<path fill="#eaf2fb" fill-rule="evenodd" d="M202.8 399.5H325.4V523.8H202.8zM208.00 466.50a57.25 54.20 0 1 0 114.50 0a57.25 54.20 0 1 0 -114.50 0z"/>
</g>
<path d="M247.3 427.2h.01M280.8 427.2h.01M240.5 439.5h.01M264.4 440.7h.01M287.6 439.5h.01M219.9 435.1h.01M308.5 435.6h.01M224.2 451.8h.01M248.8 451.8h.01M277.8 452.8h.01M304.7 451.8h.01M236.8 465.8h.01M264.4 466.3h.01M292.1 465.8h.01M222.9 480.5h.01M250.6 479.3h.01M277.8 479.3h.01M306 479.3h.01M241 492.8h.01M264.4 492.3h.01M287.6 492.8h.01M219.1 497.7h.01M309.7 497.7h.01M248.1 505.8h.01M279.5 505.8h.01M264.4 516.8h.01M213.3 466.3h.01M318.1 470.7h.01M248.1 416.7h.01M282.1 417.2h.01" stroke="#1a1a1a" stroke-opacity=".85" stroke-width="1.25" stroke-linecap="round" fill="none"/>
<ellipse cx="265.7" cy="466.5" rx="52.1" ry="50.8" fill="none" stroke="#1c1c1c" stroke-width="1"/>
<path d="M256.4 416.5L263.7 408.4M275 416.5L267.7 408.4" stroke="#1c1c1c" stroke-width=".8" fill="none"/>
<path d="M214.9 456.2C212 454.2 209 454.6 208.7 457.6L208.4 465.5C208.2 470.1 207.3 473.6 207.6 476.9C207.8 480.5 210.2 482.1 215.2 479.9" stroke="#222" stroke-width=".8" fill="none" stroke-linejoin="round"/>
<path d="M316.5 456.2C319.4 454.2 322.4 454.6 322.7 457.6L323 465.5C323.2 470.1 324.1 473.6 323.8 476.9C323.6 480.5 321.2 482.1 316.2 479.9" stroke="#222" stroke-width=".8" fill="none" stroke-linejoin="round"/>
<text x="265.7" y="406.8" font-size="4.3" text-anchor="middle" fill="#161616">IC19</text>
<rect x="326.6" y="398.8" width="5.7" height="124.2" fill="url(#jet)"/>
<text x="335.9" y="406.9" font-size="4.9" fill="#161616">1.68</text>
<text x="335.9" y="421" font-size="4.9" fill="#161616">1.44</text>
<text x="335.9" y="435.2" font-size="4.9" fill="#161616">1.20</text>
<text x="335.9" y="449.4" font-size="4.9" fill="#161616">0.96</text>
<text x="335.9" y="463.6" font-size="4.9" fill="#161616">0.72</text>
<text x="335.9" y="477.8" font-size="4.9" fill="#161616">0.48</text>
<text x="335.9" y="492" font-size="4.9" fill="#161616">0.24</text>
<text x="335.9" y="506.2" font-size="4.9" fill="#161616">0.00</text>
<text x="335.9" y="520.4" font-size="4.9" fill="#161616">−0.24</text>
<path d="M332.3 405.1h1.6M332.3 419.3h1.6M332.3 433.5h1.6M332.3 447.7h1.6M332.3 461.9h1.6M332.3 476h1.6M332.3 490.2h1.6M332.3 504.4h1.6M332.3 518.6h1.6" stroke="#222" stroke-width=".6" fill="none"/></g>
<g><rect x="396.1" y="22.6" width="122" height="122.4" fill="#eaf2fb"/>
<g>
<rect x="399" y="34" width="116" height="109" fill="#00008d"/>
<path fill="#0000a8" fill-rule="evenodd" d="M399 34l116 0 0 109-116 0 0-109zM494 123.8l-2.4 1.2-2.4 2-1.5 2-1 2-0.4 2 0.1 2 0.6 1.1 1 0.9 1 0.4 1 0.2 2-0.1 1.6-0.5 2-1 1.5-1 2-2 1.3-2 0.6-1.5 0.3-1.5 0-1-0.3-1.2-1-1.4-1-0.7-1-0.3-2 0-2 0.4z"/>
<path fill="#0000c4" fill-rule="evenodd" d="M399 34l116 0 0 109-116 0 0-109zM495 123l-2.6 1-2.4 1.6-2 2.1-1.4 2.3-0.9 3 0.1 2 0.3 1 0.8 1 1.1 0.8 1 0.3 2 0.1 2-0.5 2-0.8 2-1.3 1.8-1.6 1.2-1.5 0.9-1.5 0.8-2 0.2-2-0.1-1-0.8-1.6-1-0.9-1.2-0.5-1.8-0.3-2 0.3z"/>
<path fill="#0000df" fill-rule="evenodd" d="M399 34l116 0 0 109-116 0 0-109zM494 122.8l-2.5 1.2-2.5 2-2 2.4-1.3 2.6-0.6 3 0.3 2 0.6 1.1 1 0.9 1 0.5 2 0.3 2-0.3 2-0.6 2-1.1 2-1.4 1.4-1.4 1.5-2 1-2 0.6-2-0.1-2-0.4-1.3-1-1.3-1-0.6-2-0.6-2 0.1-2 0.5z"/>
<path fill="#0000fa" fill-rule="evenodd" d="M399 34l116 0 0 109-116 0 0-109zM495 122l-3 1.2-2.6 1.8-1.9 2-1.9 3-1 3 0 2 0.6 2 0.7 1 1.1 0.7 2 0.6 2-0.1 2-0.4 2-0.9 2-1.2 2.1-1.7 1.7-2 1.2-2 0.8-2 0.3-2-0.2-2-0.9-1.5-1-0.9-2-0.8-2-0.1-2 0.3z"/>
<path fill="#0004ff" fill-rule="evenodd" d="M399 34l116 0 0 109-116 0 0-109zM494 121.8l-3 1.5-2.2 1.7-2.5 3-1.6 3-0.7 3 0.1 2 0.9 2 1 0.9 1 0.5 2 0.5 2-0.1 2-0.5 3-1.4 2.6-1.9 2-2 1.4-2 1-2 0.6-2 0.1-2-0.5-2-1.2-1.5-1-0.6-1-0.4-2-0.4-2 0.2-2 0.5z"/>
<path fill="#001cff" fill-rule="evenodd" d="M399 34l116 0 0 109-116 0 0-109zM495 121l-3 1.2-3 2.1-2.5 2.7-1.8 3-1.1 3-0.2 2 0.1 1 0.7 2 0.8 1 1 0.7 2 0.7 2 0 2-0.3 3-1.1 3-1.9 2-1.8 1.9-2.3 1.2-2 0.8-2 0.4-2-0.1-2-0.8-2-1.4-1.3-2-0.9-2-0.2-3 0.4z"/>
<path fill="#0034ff" fill-rule="evenodd" d="M399 34l116 0 0 109-116 0 0-109zM494 120.8l-3 1.4-3 2.4-1.3 1.4-1.4 2-1.5 3-0.8 3-0.1 2 0.2 1 1 2 0.9 0.9 1 0.6 2 0.5 3-0.1 2-0.6 3-1.3 2.8-2 2.1-2 1.6-2 1.7-3 0.7-3 0-2-0.7-2-1.2-1.4-2-1.1-2-0.4-2 0-3 0.7z"/>
<path fill="#004cff" fill-rule="evenodd" d="M399 34l116 0 0 109-116 0 0-109zM495 120l-3 1.1-3 2-3 3.1-1.2 1.8-1.1 2-0.8 2-0.5 2 0 3 0.8 2 0.8 1 1.6 1 2.4 0.6 2 0 3-0.7 3-1.4 3-2 2.6-2.5 1.5-2 1.6-3 0.9-3 0-2-0.6-2-1-1.4-1-0.9-1-0.5-2-0.6-2-0.1-3 0.5z"/>
<path fill="#0064ff" fill-rule="evenodd" d="M399 34l116 0 0 109-116 0 0-109zM498 118.9l-2 0.3-2 0.5-2 0.9-2 1.2-3 2.6-2.7 3.6-1.1 2-0.8 2-0.5 2-0.2 2 0.3 2 0.4 1 0.6 1 1.1 1 1.9 0.9 2 0.4 3-0.3 3-0.9 3-1.6 2.1-1.5 2.2-2 2.4-3 1.7-3 0.6-2 0.3-3-0.5-2-0.5-1-0.8-1-1.5-1.1-2-0.7-3-0.3z"/>
<path fill="#0080ff" fill-rule="evenodd" d="M399 34l116 0 0 109-116 0 0-109zM495 118.9l-2 0.7-2 1-3.2 2.4-1.8 1.9-1.6 2.1-2.1 4-0.7 2-0.4 2 0.1 3 0.7 1.8 0.9 1.2 1.1 0.9 1 0.5 1 0.3 2 0.2 3-0.3 3-0.9 3-1.6 2.9-2.1 2.1-2 2.4-3 1.6-3 0.8-3 0.2-2-0.4-2-0.4-1-1.2-1.6-2-1.3-2-0.6-3-0.1-3 0.5z"/>
<path fill="#0098ff" fill-rule="evenodd" d="M399 34l116 0 0 109-23.1 0 2.1-0.7 3-1.5 2.6-1.8 2.2-2 1.8-2 1.5-2 1.6-3 0.6-2 0.4-2 0-2-0.6-2-1.1-1.7-1.5-1.3-1.5-0.7-2-0.5-2-0.1-2 0.2-3 0.7-2 0.8-2 1.2-2 1.5-1.9 1.9-1.6 2-1.2 2-1.5 3-0.7 2-0.6 3 0.1 2 0.4 1.5 0.8 1.5 1.2 1.2 1.5 0.8-85.5 0 0-109z"/>
<path fill="#00b0ff" fill-rule="evenodd" d="M399 34l116 0 0 109-21.1 0 3.1-1.5 2-1.3 2.6-2.2 2-2 1.5-2 1.3-2 1-2 0.9-3 0.2-2-0.2-2-0.7-2-0.6-1-1-1-2-1.1-2-0.6-2-0.2-3 0.2-2 0.4-2 0.7-2 0.9-2 1.3-2 1.8-3 3.6-1.3 2-1.4 3-1 3-0.4 2 0 2 0.4 2 1.2 2 1.2 1-83.7 0 0-109z"/>
<path fill="#00c8ff" fill-rule="evenodd" d="M399 34l116 0 0 109-19.5 0 2.5-1.4 2-1.4 2.6-2.2 1.8-2 2.2-3 1.1-2 0.9-2 0.7-3 0.1-2-0.3-2-0.9-2-0.8-1-1.4-1.1-1.9-0.9-2.1-0.5-2-0.1-3 0.2-2 0.4-2 0.7-2 0.9-2 1.3-2 1.7-3 3.5-1.8 2.9-1.4 3-1.1 3-0.4 2-0.1 2 0.2 2 0.6 1.5 1.1 1.5-82.1 0 0-109z"/>
<path fill="#00e0fb" fill-rule="evenodd" d="M399 34l116 0 0 109-17.9 0 1.9-1.2 3-2.3 2.5-2.5 1.7-2 1.3-2 1.6-3 0.7-2 0.5-3 0-2-0.4-2-0.9-1.7-1.1-1.3-1.4-1-1.5-0.6-2-0.5-3-0.3-2 0.2-3 0.5-4 1.6-2 1.2-2 1.7-2.8 3.2-2 3-1.6 3-1.2 3-0.5 2-0.5 3 0.1 2 0.5 1.7 0.7 1.3-80.7 0 0-109z"/>
<path fill="#0ff8e7" fill-rule="evenodd" d="M399 34l116 0 0 109-16.3 0 2.3-1.6 2-1.7 2.6-2.7 1.6-2 1.3-2 1.6-3 0.7-2 0.6-3 0.1-2-0.4-2-0.8-2-1.3-1.6-1-0.8-2-1-2-0.5-3-0.3-2 0.1-3 0.4-4 1.3-2 1-2 1.4-3 3-1.5 2-1.9 3-2 4-1.1 3-0.7 3-0.2 2 0.1 2 0.7 2-79.4 0 0-109z"/>
<path fill="#23ffd4" fill-rule="evenodd" d="M399 34l116 0 0 109-14.6 0 2.6-2 3-2.9 1.7-2.1 2.1-3 1.5-3 0.7-2 0.6-2 0.2-3-0.2-2-0.6-2-1-1.6-1.4-1.4-1.6-0.9-2-0.7-2-0.3-3-0.2-5 0.5-4 1.2-2 1-2 1.4-3 3-1.5 2-1.9 3-2.1 4-1.3 3-1 3-0.6 3 0 2 0.3 2-77.9 0 0-109z"/>
<path fill="#36ffc1" fill-rule="evenodd" d="M399 34l116 0 0 109-12.4 0 2.4-2.1 2.8-2.9 1.6-2 2-3 1.1-2 1.2-3 0.7-3 0.2-2-0.2-3-0.7-2-1.3-2-1-1-1.4-0.9-2-0.7-2-0.4-3-0.1-6 0.4-2 0.3-3 0.9-3 1.5-3 2.6-2 2.4-2 3.1-3.6 6.9-1.6 4-0.9 3-0.5 3 0 2-76.4 0 0-109z"/>
<path fill="#49ffad" fill-rule="evenodd" d="M399 34l116 0 0 80.4-1.6-1.4-2.2-1-2.2-0.4-3-0.1-5 0.2-6 0.6-4 1.1-2 1-2 1.5-2 2.2-2 2.9-2.3 4-3 6-2.2 5-1.3 4-0.6 3-74.6 0 0-109zM514.9 131l0.1-0.3 0 12.3-9.4 0 3.1-3 2.5-3 2.1-3 1.6-3z"/>
<path fill="#5dff9a" fill-rule="evenodd" d="M399 34l116 0 0 72.9-5 1.7-5 1.1-4 0.5-8 0.6-3 0.5-2 0.8-1 0.8-2 2.5-2.6 4.6-5.9 12-5.2 11-72.3 0 0-109z"/>
<path fill="#70ff87" fill-rule="evenodd" d="M406.1 35l1.7-1 11 0 3.2 1 3 0.5 3-0.3 4.2-1.2 15.4 0 2.4 1.1 2.6 1.9 1.9 2 1.3 2 0.8 2 0.4 2 0.1 2-0.5 3-0.8 2-1.3 2-2.5 2.5-2 1.4-2 1-2 0.6-2 0.5-4 0.3-4-0.5-4-1.1-6-2.2-3-0.6-3 0.3-5 1.6-2 0.1-1-0.1-1-0.4-3-1.6-3-2.3-1.3-1.5-1.3-2-1.1-3-0.2-2 0.1-2 0.8-3 1-1.9 0.9-1.1 2.2-2zM499 45l2-0.2 2 0.7 2 1.7 2 2.7 1.6 3.1 1.7 5 1.1 4 0.9 5 0.6 5 0.4 7-0.1 6-0.5 7-0.5 4-1 4-1.3 3-1.5 2-1.2 1-2.2 1.2-2.4 0.8-2.6 0.4-3 0-2-0.3-2-0.8-1-0.8-1.2-1.5-1.1-3-2.3-13-0.8-3-0.9-2-0.7-0.7-1-0.3-1 0.3-2 1.5-7 6.8-5 4.1-5 3.7-4 2.3-3 0.9-2 0.1-3-0.2-4-0.9-2-1-1-0.7-1.6-1.9-0.5-1-0.5-2 0-3 0.5-3 1.5-4 2.2-4 2.2-3 3.2-3.7 3-2.8 4-3.1 4-2.4 4-1.9 3-1 3-0.7 4-0.3 6 0.3 2-0.4 1-0.6 2-2.2 5-8.5 1.9-2.7 2.1-2 2-1zM412.4 61l1.6-0.2 3 0.8 3 1.6 3 2.1 2 1.9 2.1 2.8 1.3 3 0.4 2 0 3-0.5 2-0.8 2-1.5 2.2-2 1.9-2 1.5-3 1.3-3 0.8-3 0-3-0.5-2-0.6-3-1.6-2.4-2-1.7-2-1.1-2-0.8-2.7 0-3.9 0.3-1.4 1.4-3 1.3-1.9 2-2.1 3-2.4 4-2.2 1.4-0.4zM413.6 102l2.4-0.4 2-0.1 2 0.2 3 0.6 3 1.1 2 1.2 1.8 1.4 1.2 1.4 0.9 1.6 0.5 2 0.1 2-0.3 2-0.7 2-1.3 2-1.2 1.4-2 1.6-3 1.6-3 0.8-3 0.4-3-0.2-3-0.7-3-1.4-2.1-1.5-1.9-2.1-1.1-1.9-0.8-3 0.3-3 0.7-2 1.9-2.8 2-1.7 3-1.7 2.6-0.8zM459.2 106l0.8-0.3 2-0.4 3-0.1 4 0.4 4 0.8 3 1.1 3 1.6 2.2 1.9 0.6 1 0.4 1 0.1 1-0.1 2-0.7 3-2.4 6-3.1 6.3-3 5.4-2 2.9-2 2.1-2 1.3-7.8 0-2.2-1-2-1.3-2-1.8-2.5-2.9-1.6-3-1.4-4-0.4-3 0.1-4 0.8-3 1.3-3 1.9-3 2.8-3.3 3-2.5 2.2-1.2z"/>
<path fill="#87ff70" fill-rule="evenodd" d="M435.7 37l2.3-0.5 2-0.2 2 0.1 2 0.3 2 0.6 2 1 2 1.6 0.9 1.1 0.7 1 0.9 2 0.4 2-0.2 2-0.6 2-0.5 1-1.5 2-1.1 0.9-2 1.3-3 1.1-3 0.4-3-0.2-3-0.9-3-1.4-2.9-2.2-1.9-2-0.8-1-1-2-0.2-1 0.1-1 0.4-1 1.6-2 2.4-2 3.3-1.9 2.7-1.1zM411.8 43l1.2-0.5 1 0 1.3 0.5 0.9 1 0.2 1-0.4 0.8-1 0.7-1 0.3-1 0-1-0.5-0.4-0.3-0.5-1 0-1 0.7-1zM497.7 55l1.3-0.7 1-0.2 1 0.1 1 0.3 1 0.7 1 1 1.8 2.8 1.6 4 1.1 4 0.9 5 0.5 6 0 6-0.5 6-0.8 5-1.2 4-1.5 3-1.9 2-2 1-2 0.4-2-0.3-1-0.4-1-0.7-1.5-2-1.2-3-1.1-4-0.8-5-1.5-14 0-3 0.3-3 1.3-5 1.2-3 1.6-3 1.7-2.4 1.7-1.6zM410.3 67l1.7-0.4 2-0.2 2 0.2 2 0.6 2 1 1.1 0.8 1.1 1 1.6 2 0.5 1 0.5 2 0.1 2-0.4 2-0.9 2-0.7 1-1 1-1.9 1.4-2 0.9-2 0.6-2 0.1-3-0.3-2-0.7-2-1.1-2-1.7-1-1.4-0.8-1.8-0.4-2 0.1-2 0.5-2 1.2-2 1.4-1.5 2-1.5 2.3-1zM468.6 68l3.4-0.6 3 0.1 1.7 0.5 1.3 0.7 1.5 1.3 0.9 2 0.2 1-0.1 2-0.9 3-2.1 4-3.1 4-3 3-3.4 2.7-4 2.4-4 1.7-3 0.6-3 0-1.7-0.4-1.3-0.6-1-0.8-1.2-1.6-0.4-1-0.2-2 0.1-2 0.5-2 0.8-2 1.7-3 3.2-4 2-2 2.5-2.1 2-1.4 3-1.7 2-0.9 2.6-0.9zM464.2 110l2.8-0.3 3 0.1 3 0.7 2 0.9 2 1.2 1.5 1.4 1.1 2 0.3 2-0.4 3-1.4 4-2.1 4.6-3 5.1-2 2.4-2 1.7-2 1-2 0.4-2-0.1-3-0.9-2.1-1.2-2.3-2-1.6-2-1.7-3-0.6-2-0.4-3 0.1-3 0.5-2 1.3-3 1.3-2 1.8-2 2.7-2 3-1.4 2.2-0.6zM417 113l1.1 0-1.1 0z"/>
<path fill="#9aff5d" fill-rule="evenodd" d="M436.3 40l2.7-0.7 3-0.1 3 0.9 1.5 0.9 1.1 1 1.3 2 0.4 1 0.1 2-0.5 2-1.3 2-1.2 1-1.7 1-1.7 0.5-2 0.3-2-0.1-2-0.5-2-1-1.6-1.2-1-1-1-2-0.3-2 0.2-1 1-2 0.9-1 1.2-1 1.9-1zM498.8 62l1.2-0.4 1 0.1 1 0.5 1 1 1.2 1.8 0.8 2 1.2 4 0.7 4 0.3 4 0 5-0.4 4-0.7 4-0.9 3-1.2 2.6-1 1.3-1.6 1.1-1.4 0.2-1-0.3-1.1-0.9-0.9-1.1-1.4-2.9-0.8-3-0.6-3-0.6-4-0.2-4 0.2-7 0.9-5 0.6-2 1-2 0.9-1.4 1-1.1 0.8-0.5zM410.7 70l2.3-0.6 3 0.3 1 0.3 1.9 1 1.1 1 0.8 1 0.8 2 0.2 2-0.2 1-1 2-1.6 1.6-1 0.7-2 0.7-3 0.2-1.3-0.2-1.7-0.6-2-1.4-0.9-1-0.6-1-0.6-2 0.1-1.7 0.4-1.3 0.5-1 1.1-1.3 1-0.8 1.7-0.9zM467 72l3-0.5 2 0.1 1 0.3 1 0.6 1 1.1 0.5 1.4 0.1 2-0.5 2-1.5 3-2.3 3-2.1 2-2.2 1.8-3 1.8-3 1.1-2 0.5-2 0-2-0.6-1-0.7-0.7-0.9-0.6-2 0-1 0.4-2 1.4-3 2.2-3 3.3-3.2 3-2 2-1 2-0.8zM463.9 113l2.1-0.4 2-0.1 3 0.3 2 0.7 2 1.1 1.6 1.4 1.1 2 0.3 1.4-0.1 2.6-0.8 3-1.3 3-1.8 3.3-2 2.7-2 1.9-2 1.2-2 0.5-2-0.1-2-0.5-2-1-1.4-1-1.9-2-1.2-2-0.8-2-0.5-2 0-3 0.4-2 0.8-2 1.2-2 1.4-1.6 2-1.6 2-1.1 1.9-0.7z"/>
<path fill="#adff49" fill-rule="evenodd" d="M437.6 43l1.4-0.5 2-0.2 2 0.4 1 0.6 1 1 0.4 0.7 0.3 1 0 1-0.3 1-0.6 1-1.8 1.3-2 0.4-2-0.2-1-0.4-1-0.6-1.3-1.5-0.3-1 0-1 0.3-1 0.6-1 1.3-1zM499.7 70l0.3-0.2 1 0.2 1 0.9 1 1.9 1 4 0.3 4.2-0.3 4.7-1 3.9-1 1.8-1 0.8-1 0.1-1-0.7-1-1.6-0.3-1-0.8-3-0.5-5 0.2-4 0.6-3 0.8-2.3 1-1.3 0.7-0.4zM411.5 73l1.5-0.5 2 0.1 1.2 0.4 1.3 1 0.6 1 0.3 1 0 1-0.4 1-0.7 1-1.3 0.9-2 0.4-2-0.3-1.6-1-0.7-1-0.4-1 0-1 0.3-1 0.4-0.7 1.5-1.3zM466.7 76l1.3-0.1 1 0.2 1.2 0.9 0.4 1-0.2 2-0.4 1-1.3 2-0.8 1-1.9 1.6-3 1.6-2 0.5-1 0-1-0.3-0.6-0.4-0.7-1-0.1-1 0.1-1 0.4-1 1.1-2 1.8-2 2-1.5 2-1 1.7-0.5zM465.8 115l2.2-0.2 2 0.3 3 1.1 2 1.6 0.8 1.2 0.4 1 0.2 2-0.3 2-1 3-1.1 2.2-1.2 1.8-1.8 2.1-1 0.8-2 1.1-2 0.4-1-0.1-2-0.4-1.7-0.9-1.3-1-1-1-1.3-2-0.7-2-0.4-2 0.1-2 0.5-2 0.8-1.6 1-1.5 1-1.1 2-1.4 2-0.9 1.8-0.5z"/>
<path fill="#c1ff36" fill-rule="evenodd" d="M463.8 118l1.2-0.5 2-0.4 3 0.3 1.5 0.6 1.5 1 0.8 1 0.5 1 0.2 1 0.1 2-0.5 2-0.9 2-1.2 1.9-1 1.1-1.2 1-1.8 0.9-1 0.2-2 0-2-0.8-2-1.6-1-1.4-0.6-1.3-0.2-1-0.2-2 0.4-2 0.4-1 1.3-2 1.1-1 1.6-1z"/>
<path fill="#d4ff23" fill-rule="evenodd" d="M465.5 120l1.5-0.4 1 0 2 0.5 1.3 0.9 0.8 1 0.3 1 0.1 2-0.5 1.7-0.7 1.3-1.3 1.4-1 0.7-2 0.6-2-0.3-1-0.5-1-0.8-1-1.7-0.4-1.4 0.2-2 1-2 1.2-1.2 1.5-0.8z"/>
<path fill="#e7ff0f" fill-rule="evenodd" d="M466.3 124l0.7-0.4 1 0.1 0.5 0.3 0.5 1-0.4 1-0.6 0.6-1 0.3-1.2-0.9-0.1-1 0.6-1z"/>
<path fill="none" stroke="#1a2a2a" stroke-opacity=".6" stroke-width=".45" d="M437 41l3-0.7 2 0.1 2 0.6 1 0.5 1.8 1.5 1.1 2 0.2 2-0.7 2-1.4 1.8-1 0.7-2 0.8-3 0.3-3-0.7-1.6-0.9-1.1-1-1.3-2-0.2-2 0.2-1 0.4-1 0.7-1 1.2-1 1.7-1M498.9 65l1.1-0.4 1 0.2 1 0.6 1.2 1.6 0.8 1.5 1 2.9 0.7 3.6 0.3 3 0.1 4-0.1 3-0.4 3-0.6 3-1 3-1 1.7-1 1.1-1 0.5-1 0.1-1-0.4-1-1-1-1.7-1-2.7-0.6-2.6-0.8-6 0-6 0.6-5 0.8-2.7 1-2.2 1-1.4 0.9-0.7M411.2 71l1.8-0.4 1-0.1 2 0.3 2 1 1.3 1.2 0.7 1 0.4 1 0.1 2-0.7 2-0.7 1-1.1 0.9-1 0.6-2 0.6-2.7-0.1-1.3-0.4-1.2-0.6-1.2-1-0.6-0.8-0.6-1.2-0.2-1 0.1-2 0.4-1 1.3-1.6 1-0.8 1.2-0.6M465.3 74l1.7-0.6 2-0.3 2 0.2 1.4 0.7 0.9 1 0.4 1 0.1 1-0.4 2-0.8 2-1.2 2-1.7 2-2.3 2-2.4 1.6-3 1.4-2 0.5-2 0-1.6-0.5-1.2-1-0.5-1-0.2-1 0.2-2 1.3-3 2-2.7 2-2 3-2.1 2.3-1.2M463.9 114l2.1-0.5 3 0 2 0.4 2 0.7 2 1.2 1 1 0.8 1.2 0.5 2-0.2 3-0.9 3-1.4 3-1.8 3-1 1.2-2 1.9-2 1.1-2 0.5-2-0.1-2-0.6-1.8-1-1.2-1-1.8-2-1.1-2-0.6-2-0.3-2 0.1-2 0.4-2 1.4-3 1.7-2 1.2-1 2-1.2 1.9-0.8M515 111.8l-2-0.8-3-0.4-3 0.1-9 0.7-6 0.9-2 0.7-2 1.1-2 1.9-1.5 2-1.9 3-2.2 4-4.8 10-2 5-0.8 3M507.5 143l3.8-4 2.3-3 1.4-2.2M497.7 143l2.3-1.5 2-1.6 3.8-3.9 2.7-4 1-2 0.9-3 0.3-2 0-2-0.3-2-1-2-0.8-1-1.6-1.2-3-1.1-2-0.3-3 0-2 0.2-3 0.7-2 0.8-2 1-2 1.5-2 1.8-2 2.5-2 3.1-1.6 3-1.5 4-0.7 3-0.1 2 0.2 2 0.9 2M490.2 143l1.8-0.4 3-1.1 2-1.1 2-1.4 3.3-3 1.7-2 1.3-2 1-2 0.6-2 0.3-2 0-2-0.6-2-0.6-1-1-1-1-0.7-2-0.8-3-0.4-3 0.3-2 0.6-3 1.3-2 1.4-2 1.8-2 2.3-2 3.2-1.3 3-0.7 3-0.1 2 0.4 2 1.1 2 1.6 1.2 2.2 0.8M495 120.8l-3 1.2-3 2-2.7 3-1.8 3-1.1 3-0.1 3 0.7 2.2 1 1.1 1 0.7 2 0.6 2 0.1 2-0.4 3-1.1 3-1.9 2-1.7 2.2-2.6 1.2-2 0.8-2 0.4-2-0.1-2-0.8-2-0.9-1-0.8-0.6-2-0.8-2-0.2-3 0.4M495 122.8l-3 1.2-2 1.4-2 2.1-1.6 2.5-0.9 3 0 2 0.3 1 0.7 1 1.5 1.1 1 0.2 2 0.1 2-0.4 2-0.9 2-1.3 2-1.8 2.2-3 0.7-2 0.3-2-0.5-2-0.7-1-1.5-1-1.5-0.4-1-0.1-2 0.3"/>
<path fill="#eaf2fb" fill-rule="evenodd" d="M396.1 22.6H518.1V145H396.1zM400.20 88.55a56.75 53.45 0 1 0 113.50 0a56.75 53.45 0 1 0 -113.50 0z"/>
</g>
<path d="M439 49.5h.01M472.2 49.5h.01M432.2 61.6h.01M456 62.9h.01M478.9 61.6h.01M411.7 57.3h.01M499.7 57.7h.01M416 73.8h.01M440.5 73.8h.01M469.2 74.8h.01M495.9 73.8h.01M428.5 87.7h.01M456 88.2h.01M483.4 87.7h.01M414.7 102.3h.01M442.2 101.1h.01M469.2 101.1h.01M497.2 101.1h.01M432.7 114.5h.01M456 114h.01M478.9 114.5h.01M411 119.4h.01M500.9 119.4h.01M439.7 127.4h.01M470.9 127.4h.01M456 138.4h.01M405.3 88.2h.01M509.1 92.6h.01M439.7 39h.01M473.4 39.5h.01" stroke="#1a1a1a" stroke-opacity=".85" stroke-width="1.25" stroke-linecap="round" fill="none"/>
<ellipse cx="457.2" cy="88.5" rx="51.7" ry="50.5" fill="none" stroke="#1c1c1c" stroke-width="1"/>
<path d="M448 38.8L455.2 30.7M466.4 38.8L459.2 30.7" stroke="#1c1c1c" stroke-width=".8" fill="none"/>
<path d="M406.8 78.3C403.9 76.2 401 76.6 400.6 79.6L400.3 87.4C400.1 92 399.3 95.5 399.5 98.8C399.7 102.3 402.1 104 407.1 101.7" stroke="#222" stroke-width=".8" fill="none" stroke-linejoin="round"/>
<path d="M507.6 78.3C510.5 76.2 513.4 76.6 513.8 79.6L514.1 87.4C514.3 92 515.1 95.5 514.9 98.8C514.7 102.3 512.3 104 507.3 101.7" stroke="#222" stroke-width=".8" fill="none" stroke-linejoin="round"/>
<text x="457.2" y="29.1" font-size="4.4" text-anchor="middle" fill="#161616">IC08</text>
<rect x="519.2" y="22.2" width="6.3" height="123.3" fill="url(#jet)"/>
<text x="529.1" y="30.4" font-size="4.9" fill="#161616">1.68</text>
<text x="529.1" y="44.4" font-size="4.9" fill="#161616">1.44</text>
<text x="529.1" y="58.4" font-size="4.9" fill="#161616">1.20</text>
<text x="529.1" y="72.4" font-size="4.9" fill="#161616">0.96</text>
<text x="529.1" y="86.5" font-size="4.9" fill="#161616">0.72</text>
<text x="529.1" y="100.5" font-size="4.9" fill="#161616">0.48</text>
<text x="529.1" y="114.5" font-size="4.9" fill="#161616">0.24</text>
<text x="529.1" y="128.5" font-size="4.9" fill="#161616">0.00</text>
<text x="529.1" y="142.6" font-size="4.9" fill="#161616">−0.24</text>
<path d="M525.5 28.6h1.6M525.5 42.6h1.6M525.5 56.7h1.6M525.5 70.7h1.6M525.5 84.7h1.6M525.5 98.7h1.6M525.5 112.8h1.6M525.5 126.8h1.6M525.5 140.8h1.6" stroke="#222" stroke-width=".6" fill="none"/></g>
<g><rect x="395" y="149.3" width="123.1" height="122.2" fill="#eaf2fb"/>
<g>
<rect x="398" y="160" width="118" height="111" fill="#0000a8"/>
<path fill="#0000c4" fill-rule="evenodd" d="M398 160l118 0 0 111-118 0 0-111zM431 228.2l-0.5 0.8-0.2 1 0.1 2 0.3 2 0.8 2 0.6 1 0.9 0.9 1 0.5 1 0.2 1-0.1 1-0.5 0.7-1 0.3-1-0.2-2-0.8-1.6-1-1.4-2-1.8-2-1-1 0z"/>
<path fill="#0000df" fill-rule="evenodd" d="M398 160l118 0 0 111-118 0 0-111zM423 218.9l-0.9 1.1 0 1 0.4 1 3.8 6 0.9 2 1.8 5.1 1.6 2.9 1.4 1.4 1 0.6 1 0.4 2 0.1 1-0.2 1-0.5 0.9-0.8 0.6-1 0.3-1 0.1-2-0.9-2.9-2-3.2-5-6-3-2.8-2-1.1-1-0.3-2-0.1-1 0.3z"/>
<path fill="#0000fa" fill-rule="evenodd" d="M398 160l118 0 0 111-118 0 0-111zM406 211.9l-1 0.5-0.3 0.6 0.3 1.2 1 0.9 1 0.3 1 0 0.8-0.4 0.1-1-0.7-1-1.2-0.8-1-0.3zM420 215.9l-2.4 1.1-0.6 1 0.1 1 0.5 1 1.3 2 4.1 5 1.4 2 1.2 2 2.4 5.4 1.7 2.6 0.9 1 1.4 1 2 0.8 2 0.2 1-0.2 2-0.9 1-0.9 1.1-2 0.3-2-0.2-2-0.7-2-1.5-2.9-4-5.7-2-2.5-1.9-1.9-3.1-2.1-2-0.8-2-0.4-2 0-2 0.2z"/>
<path fill="#0004ff" fill-rule="evenodd" d="M398 160l118 0 0 111-118 0 0-111zM403 209.9l-0.8 1.1-0.3 1 0 1 0.1 1 1 2 1 1 2 1.1 5 1.3 2 0.7 2 1.3 2 1.8 3 3 2.4 2.8 2 3 3.1 6 1.4 2 1.1 1 1.3 1 1.7 0.8 1 0.2 2 0.1 1-0.1 2-0.7 2-1.5 1.1-1.8 0.5-2 0-2-0.7-3-1.9-3.8-4-6.1-2.6-3.1-2.2-2-3.2-1.9-3-1-3-0.4-6-0.1-2-0.5-2-1-3.5-2.1-2.5-0.9-1 0-1 0.2-1 0.6z"/>
<path fill="#001cff" fill-rule="evenodd" d="M398 160l118 0 0 111-118 0 0-111zM403 207.7l-1 0.7-1 1.2-0.5 1.4-0.2 1 0 1 0.4 2 1.1 2 1.2 1.2 2 1.3 6 2.2 2 0.9 2 1.3 3 2.5 2 2 2 2.5 4.8 8.1 1.2 1.6 1.4 1.4 1.6 1.1 2 0.8 3 0.3 2-0.4 2-0.8 2-1.6 1-1.4 0.4-1 0.4-2-0.1-3-0.7-2.4-2-4.2-3-4.8-2.8-3.6-2.2-2.3-3-2.1-2-1.1-2-0.7-3-0.6-6-0.5-2-0.4-2-0.8-5-2.5-2-0.6-2 0-1 0.3z"/>
<path fill="#0034ff" fill-rule="evenodd" d="M398 160l118 0 0 111-118 0 0-111zM404 206l-2 0.6-1 0.7-1.2 1.7-0.7 2-0.1 2 0.4 2 0.9 2 1.7 2.2 1 0.8 2 1.2 6 2.3 2 1 4 3 2 1.9 2 2.4 4.5 7.2 1.4 2 2.1 2 1.6 1 1.4 0.6 2 0.5 3-0.1 3.2-1 1.7-1 1-1 1.3-2 0.8-3-0.2-3-0.8-2.9-1.9-4.1-3-5-2.3-3-2.8-3-3-2.3-2-1.1-2-0.8-3-0.8-8-1.1-2-0.6-7-3-2-0.4-1 0.1zM450 265.9l-1 0.1-2.5 1 0.8 1 3.7 0.4 3.1-0.4 1-1-2.3-1-2.8-0.1z"/>
<path fill="#004cff" fill-rule="evenodd" d="M398 160l118 0 0 111-118 0 0-56.9 0.5 1.9 1 2 1.5 1.9 1 0.9 3 1.8 7 3.1 3 2 2 1.6 3.3 3.7 3.9 6 1.8 2.5 2 2 2.4 1.5 2.6 0.8 3 0.1 3-0.5 3-1.3 1.4-1.1 1.5-2 0.8-2 0.4-3-0.4-3-0.9-3-2-4-2.8-4.7-2.5-3.3-2.5-2.7-2-1.6-3-1.9-2-0.9-3-0.9-7-1.1-3-0.6-7-2.9-3-0.7-1 0-1.6 0.3-1.9 1-1 1-0.6 1-0.9 2.6 0-50.6zM451 265l-2 0.1-3 0.6-1.2 0.3-1.4 1 0.4 1 2.2 0.8 2 0.4 3 0.1 3-0.2 2-0.5 1.6-0.6 0.6-1-1.1-1-1.1-0.3-2-0.5-3-0.2z"/>
<path fill="#0064ff" fill-rule="evenodd" d="M398 160l118 0 0 111-118 0 0-53.4 1.5 2.4 2.5 2.3 3 1.8 6.4 2.9 2.6 1.7 2 1.6 2 1.9 1.5 1.8 4 6 2.5 3 2.4 2 2.6 1.3 3 0.5 3-0.2 3-0.7 3-1.3 1.8-1.6 1.4-2 0.7-2 0.3-3-0.4-3-1.3-4-2-4-2.4-4-2.1-3-2.7-3-2.3-2-3-2-2.2-1-2.8-1-10-1.7-3-1-5-2-3-0.7-2 0-2 0.6-1 0.6-1 1-1 1.4 0-47.2zM446 264.8l-3.8 1.2-1.2 1 0.3 1 1.8 1 2.9 0.7 3 0.3 3.2 0 2.8-0.3 3.2-0.7 1.9-1 0.4-1-0.9-1-0.6-0.3-1.8-0.7-2.2-0.4-4-0.3-5 0.5z"/>
<path fill="#0080ff" fill-rule="evenodd" d="M398 160l118 0 0 111-118 0 0-51.1 1.8 2.1 2.2 1.8 2 1.2 7 3.4 4 2.8 2 1.9 1.6 1.9 4.3 6 2.1 2.5 2 1.8 3 1.7 3 0.6 3-0.1 2.9-0.5 2.1-0.6 3-1.3 2-1.8 1.4-2.3 0.6-2 0.3-3-0.3-3-1.3-4-1.9-4-2.4-4-2.1-3-2.5-3-2.8-2.6-3-2.1-2-1-3-1.2-3-0.7-8-1.3-3-0.9-5-2-3-0.7-2-0.1-2 0.5-1.9 1.1-1.1 1.1 0-45.1zM448 263.9l-5.6 1.1-2.6 1-0.9 1 0.2 1 1.4 1 3.2 1 4.3 0.6 4 0 5-0.5 3-0.8 0.8-0.3 1.4-1 0.3-1-0.7-1-1.8-1-3-0.8-4-0.5-5 0.2z"/>
<path fill="#0098ff" fill-rule="evenodd" d="M398 160l118 0 0 111-60.7 0 3.7-0.6 3-0.9 1.1-0.5 1.1-1 0.2-1-0.6-1-0.8-0.5-0.7-0.5-2.3-0.8-4-0.8-4-0.3-5 0.4-6 1.2-1.2 0.3-2.2 1-0.8 1 0.2 1 1.2 1 0.8 0.4 3 1 3.9 0.6-47.9 0 0-49.2 2 2.1 2 1.4 8 4.2 4 2.7 2 1.8 1.7 2 4.5 6 1.8 2.1 3 2.5 3 1.5 3 0.4 4-0.4 4.7-1.1 3.3-1.4 1.9-1.6 1.3-2 1.1-3 0.2-3-0.3-3-1.3-4-1.8-4-2.4-4-2-3-2.7-3.2-3-2.9-3-2.2-3-1.7-3-1.1-3-0.6-8-1.3-3-1-5-1.9-3-0.7-2-0.2-2 0.4-2 0.9-1 0.8 0-43.3z"/>
<path fill="#00b0ff" fill-rule="evenodd" d="M398 160l118 0 0 111-56.2 0 3.5-1 2-1 0.9-1 0.1-1-0.6-1-1.4-1-1.3-0.6-3-1-4-0.7-4-0.2-4 0.3-7 1.2-3.9 1-1.8 1-0.7 1 0.2 1 1.1 1 2 1 3.6 1-43.5 0 0-47.3 2 1.9 2 1.3 7.6 4.1 3.4 2.3 3 2.9 5.4 6.8 2.6 2.8 3 2.2 3 1.2 3 0.2 4-0.6 6-1.4 3.3-1.4 1.2-1 0.9-1 1.2-2 0.9-3 0.3-3-0.4-3-1.2-4-1.9-4-2.3-4-2.7-4-2.5-3-2.8-2.7-3-2.3-3-1.8-4-1.5-3-0.6-8-1.3-3-0.8-5-1.9-3-0.8-2-0.2-2 0.2-1.9 0.7-1.1 0.7 0-41.7zM435 187l-1 0.1-1 0.5-0.4 0.4-0.5 1 0.2 1 0.7 0.7 0.8 0.3 1.2 0.1 1-0.3 1.4-0.8 0.5-1-0.2-1-0.7-0.5-1-0.4-1-0.1zM456 186.8l-0.6 0.2-0.9 1 0.5 1.1 1 0.6 1 0.2 1 0 1-0.3 0.8-0.6 0.2-1-0.9-1-1.1-0.3-2 0.1z"/>
<path fill="#00c8ff" fill-rule="evenodd" d="M398 160l118 0 0 111-52.8 0 2.7-1 1.6-1 0.7-1 0-1-0.6-1-1.3-1-1.3-0.7-3.6-1.3-4.4-0.8-4-0.3-5 0.4-10.4 1.7-3.3 1-1.4 1-0.5 1 0.2 1 0.9 1 1.7 1 2.8 1-40 0 0-45.3 3 2.4 8 4.5 3 2.1 3 2.7 5.5 6.6 2.5 2.6 3 2.3 3 1.2 2 0.2 3-0.2 9.8-2.1 3.2-1.1 1.3-0.9 1-1 1.4-2 1.1-3 0.3-3-0.2-3-1-4-1.7-4-2.8-5-2.8-4-3.3-4-3.3-3.2-3-2.2-3-1.8-3-1.1-3-0.7-9-1.3-3-0.8-6-2.2-2-0.6-2-0.2-2 0.1-2 0.5-1 0.5 0-40zM432 185.9l-1.4 1.1-0.6 1-0.3 1 0 1 0.4 1 0.8 1 1.1 0.7 2 0.4 1.2-0.1 1.8-0.5 1.3-0.5 1.5-1 1.1-1 0.6-1 0-1-0.7-1-1.4-1-1.4-0.6-2-0.4-1 0-2 0.4-1 0.5zM455 184.9l-2.7 1.1-1.1 1-0.5 1 0.3 1 0.9 1 2.1 1.1 3 0.5 3-0.4 1-0.4 1.1-0.8 0.6-1 0.1-1-0.4-1-1-1-1.4-0.8-2-0.5-3 0.2z"/>
<path fill="#00e0fb" fill-rule="evenodd" d="M398 160l53.2 0 1.8 1.1 2 0.4 3 0.2 2-0.1 2.9-0.6 1.6-1 51.5 0 0 111-49.6 0 2.6-1.3 0.9-0.7 0.5-1-0.1-1-0.7-1-1.4-1-3.2-1.6-4-1.3-4-0.7-4-0.2-4 0.3-14 2.2-2 0.5-1.7 0.8-1.1 1-0.3 1 0.2 1 0.8 1 1.1 0.8 2.7 1.2-36.7 0 0-43.1 3 2.2 8 4.7 2.9 2.2 3.1 3 5.2 6 2.8 2.6 3 1.9 3 0.9 2 0 2-0.3 6-1.5 7-1.2 1.3-0.4 1.7-0.8 2-1.8 1.4-2.4 1-3 0.3-3-0.3-3-1.1-4-1.7-4-2.9-5-3.4-5-3.3-3.9-3-2.9-4-3.1-3-1.8-3-1.1-3-0.6-6-0.5-3-0.5-3-0.8-6-2.2-3-0.8-3-0.2-3 0.7 0-38.3zM433 183.9l-2 0.9-1.5 1.2-0.8 1-0.7 2 0.2 2 0.8 1.6 1 1 2 0.9 2 0.2 3-0.6 2.7-1.1 4.3-2.4 2-0.5 2 0.2 4.3 1.7 1.7 0.4 3 0.4 2-0.1 2-0.4 2-1 1.3-1.3 0.4-1 0.1-1-0.4-1-1.4-1.6-2.3-1.4-2.7-0.8-2 0-2 0.2-2 0.6-4 1.7-2 0.5-2-0.4-4-1.6-2-0.5-3-0.2-2 0.4z"/>
<path fill="#0ff8e7" fill-rule="evenodd" d="M398 160l47.7 0 0.8 1 2.5 1.2 4 0.9 4 0.2 4-0.2 4-0.7 1.5-0.4 2.3-1 1-1 46.2 0 0 111-46.1 0 2.1-1.3 0.7-0.7 0.3-1-0.2-1-1-1-1.4-1-4.4-2.1-4-1.4-4-0.8-4-0.3-4 0.3-9 1.6-8 0.6-2 0.5-1.5 0.6-1.5 1-0.8 1-0.2 1 0.2 1 0.7 1 1.1 0.9 2.1 1.1-33.1 0 0-40.5 3 2.1 7 4.3 2.8 2.1 2.2 2 6 6.5 3 2.6 3 1.9 2 0.7 1 0.2 3-0.2 6-2 3-0.7 8.3-1 2.5-1 1.3-1 0.8-1 1.2-2 1-3 0.4-3-0.4-4-1.2-4-2.4-5-3-5-3.6-5-3.9-4.6-4-3.8-4-3.1-3-1.7-2-0.6-2-0.2-6-0.1-3-0.3-4-1-6-2.2-3-0.9-3-0.4-3 0.3 0-36.4zM436 182l-3 0.4-2 0.8-1 0.6-2 1.9-1.2 2.3-0.2 1 0 2 0.6 2 0.8 1.3 1 1.1 2 1 2 0.1 2-0.3 3-1 6-2.5 2-0.4 2 0 7 1.4 3 0.1 2-0.2 2.3-0.6 2-1 1.2-1 0.7-1 0.4-1 0-1-0.3-1-0.7-1-1-1-2.6-1.7-3-1.2-2-0.4-3 0.1-6 1.5-2 0.2-2-0.1-5-1.2-3-0.2z"/>
<path fill="#23ffd4" fill-rule="evenodd" d="M398 160l42.4 0 0.5 1 1.2 1 2.9 1.3 5 1.1 6 0.5 6-0.4 7-1.5 4-1.4 1.1-0.6 1-1 40.9 0 0 111-41.8 0 1.8-1.4 0.4-0.6 0.2-1-0.5-1-1.2-1-4.2-2-8.7-3.5-4-1-3-0.2-3 0.2-6.5 1.5-4.5 0.7-3 0.2-7-0.2-3 0.6-1.6 0.7-1.5 1-1 1-0.6 1-0.2 1 0.2 1 0.6 1 1.1 1 1.6 1-28.6 0 0-36.9 7.7 4.9 3.3 2.4 3 2.7 5 5.1 3 2.5 3 2 3 1.2 2 0.2 2-0.5 5.4-2.6 2.6-0.9 2-0.5 3-0.3 6 0.1 2-0.2 2-0.8 1.6-1.4 1.3-2 0.9-2 0.7-2 0.3-2 0-2-0.4-3-0.9-3-0.8-2-3.2-6-4.6-7-4.9-6.2-8.4-8.8-0.6-1-0.2-1 0.5-1 1.5-1 6.2-3 3-0.9 3-0.3 6 0.8 3 0.2 3-0.2 2.6-0.6 2.4-1 1.5-1 1-1 0.7-1 0.3-1 0-1-0.4-1-0.7-1-1.4-1.4-2-1.5-2-1.1-2-1-2-0.6-2-0.3-2-0.1-8 1.2-2-0.1-5-0.8-3 0-3 0.5-2 0.7-2 1.3-2.1 2.2-1.1 2-0.7 3 0.1 2 1 4 0 1-0.4 1-1.8 0.9-2 0.4-2 0.2-4-0.3-4-1.1-6-2.4-3-1-3-0.5-2 0 0-34.2z"/>
<path fill="#36ffc1" fill-rule="evenodd" d="M398 160l34.2 0 0.4 1 1.4 1.4 2 1.2 3 1.2 3 0.9 4 0.8 7 0.6 4-0.2 3-0.4 16.5-3.5 4-1 2.2-1 0.9-1 32.4 0 0 111-33.6 0 1.1-1 0.6-1 0.2-1-0.4-1-1.5-1-6.4-1.4-4-1.1-4-1.6-10-4.5-2-0.5-1-0.1-2 0.6-3.5 1.6-2.7 1-2.8 0.7-3 0.5-3 0-3-0.4-2.6-0.8-1.5-1-0.4-1 0.3-1 1.6-2 2.7-2 2.2-1 1.7-0.5 3-0.5 3 0.1 3 0.6 5 1.6 1 0.2 1-0.2 1-0.6 0.6-0.7 1.4-2.2 2.1-4.8 0.7-2 0.3-2 0-2-0.6-3-1.7-4-2.1-4-3.1-5-4.9-7-3.1-4-5.9-7-1.5-2-0.5-1-0.2-1 0.2-1 0.8-1 1.2-1 1.7-1 2.6-1.1 2-0.5 3-0.2 6 0.5 3 0.1 3-0.4 3-0.8 3-1.3 1.8-1.3 1-1 0.6-1 0.3-1-0.1-1-0.4-1-0.8-1-1-1-2.7-2-5.7-3.5-2-1-2-0.7-3-0.4-7 0.6-7-0.4-3 0.2-3 0.7-2 0.9-3 2.2-2 2.4-1.2 2-0.7 2-0.3 2-0.3 5-0.4 1-0.9 1-2.2 0.8-3 0.2-3-0.5-3-1-9-4-4-1.2 0-31.3zM398 242l0-1 7.3 5 3.7 3 5 4.3 4.7 3.7 1.1 1 0.7 1 0.1 1-0.6 1-2.9 3-0.8 1-0.4 1-0.2 1 0.2 1 0.5 1 0.8 1 1.3 1-20.5 0 0-29z"/>
<path fill="#49ffad" fill-rule="evenodd" d="M468.8 166l4.2-0.7 4-0.3 4 0.4 3 0.9 2 1 2.2 1.7 3.8 4.5 1 0.9 1 0.6 2 0.4 4 0 3 0.3 3 0.8 3 1.6 2 1.5 2.2 2.4 1.4 2 1.4 2.9 0 72.9-2 2-2 1.6-2 1.2-2 1-3 0.8-2 0.2-2-0.3-2-0.6-1-0.6-2-1.4-1.6-1.7-4.4-6.8-1-0.1-3.6 4.9-2.4 1.8-3 1.1-3 0.3-4-0.5-2-0.5-2.9-1.2-3.6-2-1.3-1-0.9-1-0.7-1-0.5-2 0.3-3 1.3-4 3.1-6 0.4-2-0.2-1-0.4-1-1.4-2-13.8-19-8.4-11-1.1-2-0.3-1 0-1 0.4-1 0.9-1 1.4-1 2.5-1 3.2-0.4 9 0.1 5-0.7 3-0.9 2.6-1.1 1.7-1 2.4-2 0.7-1 0.3-1-0.2-1-0.6-1-2.4-2-5.9-4-3.9-3-1.9-2-1-2-0.1-1 0.3-1 0.5-1 0.9-1 1.3-1 3.3-1.6 4.8-1.4zM411.9 168l2.1-0.4 3-0.1 3 0.3 3 0.7 3 1.2 2 1.3 1.1 1 0.7 1 0.3 1-0.1 1-0.9 2-3.1 4.2-2.2 3.8-1 3-0.8 4-0.6 2-0.6 1-0.8 0.6-1 0.5-2 0.3-3-0.3-3.2-1.1-3.9-2-4.6-3-2.2-2-1.5-2-0.6-1.8 0-3.6 0.4-1.6 0.9-2 2.2-3 2.1-2 2.4-1.7 3-1.4 2.9-0.9zM439.5 252l2.5-0.3 2 0.1 2 0.4 1.7 0.8 1.3 1 0.7 1 0.2 1-0.3 1-0.9 1-1.6 1-2.7 1-2.4 0.4-3 0.1-2-0.2-1-0.3-1.9-1-0.7-1-0.1-1 0.2-1 0.7-1 1-1 1.6-1 2.7-1z"/>
<path fill="#5dff9a" fill-rule="evenodd" d="M470.7 167l4.3-0.4 4 0.5 2 0.6 2 1.1 1.6 1.2 0.9 1 0.7 1 1 2 0.3 1 0.3 2-0.2 2-0.3 1-1.1 2-1.2 1.3-2 1.5-2 0.8-2 0.4-3-0.2-3-1.1-4-2-4-2.7-2.1-2-1.3-2-0.3-2 0.1-1 1.1-2 1.5-1.4 2-1.1 2-0.8 2.7-0.7zM415 173l2 0 2 0.2 2 0.6 1 0.5 1 0.7 0.8 1 0.5 1 0.1 1-0.3 2-2.3 6-1.8 6.1-0.6 0.9-1.1 1-1.3 0.5-1 0.1-2-0.2-2-0.5-2-1-2.9-1.9-1.1-1-1.7-2-1-2-0.3-2 0.3-2 0.7-1.9 1-1.7 1.2-1.4 1.8-1.5 2-1.1 2-0.8 3-0.6zM497.1 182l1.9-0.4 2 0 2 0.3 2 0.7 2 1.2 1 0.8 1.2 1.4 1.3 2 0.9 2 0.6 2 0.4 2 0.1 3-0.4 4-2 9 0 2 0.1 1 0.8 1.7 1 1.1 4 2.7 0 37.1-2.2 2.4-2.8 2.3-3 1.6-3 0.8-3-0.2-2-0.7-1-0.6-2-1.7-1.7-2.5-0.9-2-1-4-0.4-4-0.4-8-0.5-2-0.9-1-1.2-0.5-1-0.1-10 0.7-3-0.2-2-0.5-3-1.2-3-1.5-2-1.3-2-1.6-3-3-5-5.8-9.7-13-1.9-3-0.7-2-0.1-1 0.2-1 0.7-1 1.5-1 2-0.7 2-0.3 7-0.2 4-0.3 3-0.6 3.4-0.9 9.6-3.8 7.5-2.2 1.7-1 3.8-3.2 2.5-1.8 2.5-1.3 2.1-0.7zM471.8 241l2.2-0.7 2 0 1 0.2 2 0.9 2 1.7 1 1.1 1.2 1.8 1 2 0.6 2 0.2 2-0.1 2-0.5 2-1 2-1.4 1.7-1 0.8-2 1-2 0.4-2 0.1-2-0.2-3-0.9-2-1-2.6-1.9-0.9-1-0.9-2-0.2-2 0.2-2 0.6-2 0.9-2 1.4-2 1.5-1.6 2-1.5 1.8-0.9zM438.6 253l1.4-0.4 2-0.2 2 0.2 1.2 0.4 1.6 1 0.8 1 0.2 1-0.3 1-0.8 1-0.7 0.4-1 0.6-2 0.6-3 0.3-2-0.3-1-0.3-0.6-0.3-1.1-1-0.3-1 0.1-1 0.6-1 1-1 1.9-1z"/>
<path fill="#70ff87" fill-rule="evenodd" d="M472.6 168l3.4 0 2 0.4 1.7 0.6 1.9 1 1.2 1 1.5 2 0.5 1 0.3 2-0.2 2-0.9 1.8-1 1.2-2 1.5-2 0.9-2 0.3-2 0-2-0.4-2-0.7-3-1.7-2.4-1.9-1.6-2-0.4-1-0.2-2 0.9-2 0.9-1 1.2-1 2-1 1.6-0.5 2.6-0.5zM413.8 177l1.2-0.2 2 0.1 2 0.6 1 0.8 0.5 0.7 0.4 1 0.1 1-0.2 2-0.8 3-1.4 4-0.6 1-1 0.9-1 0.4-1 0.2-1-0.1-2-0.6-1.5-0.8-1.3-1-1.6-2-0.5-1-0.5-2 0.3-2 0.4-1 1.3-2 1-1 1.4-1 2.8-1zM499.6 186l1.4 0 2 0.4 1.2 0.6 1.3 1 0.9 1 1.2 2 0.7 2 0.3 2-0.1 3-0.7 3-1.2 3-2.9 6-1 3-0.6 3-0.1 2 0.1 1 0.6 1 1.3 0.5 5-0.1 2 0.1 3 0.7 2 1.1 0 30.8-2.5 2.9-2.5 2.2-3 1.6-3 0.7-2-0.1-1-0.2-2-1-1-0.8-1-1-1-1.5-0.9-1.9-0.7-2-0.5-3-0.2-4 0.5-6 1-7 0.1-2-0.3-1.3-1-0.6-1 0.1-9 2.3-3 0.4-3 0.1-3-0.2-3-0.4-3-0.9-2-0.9-2-1.1-3-2.1-3-2.7-3-3.3-4-5-3.1-4.4-1.9-3-1.2-3 0-1 0.2-1 0.8-1 1.8-1 1.4-0.3 11-1.2 13-2.5 3-0.2 5 0.3 3-0.5 1.4-0.6 1.6-1.2 4-4.2 2-1.7 2-1.2 2.6-0.7zM470.7 244l1.3-0.5 2-0.3 2 0.1 1 0.3 2 1 1 0.8 1 1.1 1 1.5 0.8 2 0.3 2-0.3 3-0.3 1-1.1 2-1 1-1.4 1-1 0.5-2 0.4-2 0.1-2-0.4-2-0.7-1.7-0.9-1.3-1.1-1.3-1.9-0.4-1-0.3-2 0.2-2 0.7-2 1.1-1.9 1-1.2 1-0.8 1.7-1.1zM438.4 254l2.6-0.8 2 0.1 1 0.3 0.8 0.4 1 1 0.3 1-0.3 1-1 1-2.6 1-2.2 0.1-2-0.5-1-0.7-0.5-0.9 0.1-1 0.5-1 1.3-1z"/>
<path fill="#87ff70" fill-rule="evenodd" d="M469.3 170l2.7-0.8 3-0.1 3 0.6 2.4 1.3 1.2 1 0.8 1 0.8 2-0.1 2-0.8 2-0.9 1-1.4 1.1-2 0.9-2 0.3-2-0.1-2-0.4-2-0.8-1.6-1-2.2-2-0.6-1-0.4-1-0.1-1 0.1-1 0.4-1 0.8-1 1.1-1 1.8-1zM414.1 181l0.9-0.1 1 0.2 1 0.7 0.6 1.2 0.1 1-0.3 2-0.9 2-1 1-0.5 0.3-1 0.1-1.3-0.4-1.3-1-0.7-1-0.3-1 0-1 0.6-1.8 1-1.2 1-0.6 1.1-0.4zM498.8 191l1.2-0.2 1.4 0.2 1.6 1 0.7 1 0.5 1 0.2 2-0.2 2-0.3 1-0.9 1.8-1 1.4-3.7 3.8-1.3 2-0.8 2-1.6 7-0.8 2-0.8 1.3-1.4 1.7-2.5 2-2.1 1.1-2.2 0.9-4.8 1-5 0-3-0.5-2-0.5-4-1.7-4-2.8-2.7-2.5-2.3-2.5-4.1-5.5-1.8-3-0.7-2-0.2-2 0.4-1 1.1-1 1.3-0.6 3-0.7 12.5-1.7 3.5-0.3 3 0.1 3 0.5 8 1.9 2 0.2 1.8-0.4 1.2-0.7 1-1 2.5-4.3 1.4-2 1.1-1 1.8-1zM506.2 224l2.8-0.9 2-0.1 2 0.3 1 0.3 2 1.1 0 26.4-1.4 1.9-1.6 1.8-3 2.4-3 1.4-3 0.3-2-0.5-2-1.2-1.1-1.2-1.3-2-0.8-2-0.5-2-0.3-3 0-3 0.5-4 0.7-3 1.3-4 0.9-2 1.1-2 1.6-2 1.9-1.7 2.2-1.3zM472.6 245l2.4-0.2 2 0.6 1 0.5 1 0.7 1.2 1.4 0.8 1.3 0.6 1.7 0.1 1-0.1 2-0.6 2-0.6 1-0.8 1-1.3 1-2.3 0.9-1 0.1-2-0.1-3-1-1.3-0.9-1-1-0.6-1-0.7-2-0.1-1 0.2-2 0.8-2 0.7-1 2-1.9 1-0.6 1.6-0.5zM438.9 255l1.1-0.6 1-0.2 1 0 1 0.3 0.8 0.5 0.5 1-0.4 1-0.9 0.6-1 0.4-2 0.1-1-0.5-0.7-0.6-0.1-1 0.7-1z"/>
<path fill="#9aff5d" fill-rule="evenodd" d="M470.1 171l1.9-0.6 3-0.1 2 0.4 2 0.9 1.5 1.4 0.6 1 0.4 1 0.1 1-0.2 1-0.4 1-0.8 1-1.2 1-1 0.5-2 0.6-3-0.2-3-1.1-1.2-0.8-1-1-0.7-1-0.4-1 0-1 0.2-1 0.5-1 1-1 1.7-1zM460.1 202l6.9-0.8 5 0.1 3 0.6 2 0.6 5.1 2.5 1.9 1.2 2.1 1.8 0.9 1.1 1 1.9 0.5 2-0.1 2-0.5 2-0.5 1-1.7 2-1.7 1.3-3 1.3-3 0.7-4 0.1-3-0.5-3-0.9-3-1.5-3-2.2-3.3-3.3-3-4-1.4-3-0.4-2 0.2-1 0.7-1 1.6-1 3.7-1zM508.9 225l2.1-0.2 2 0.2 2 1 1 0.7 0 22.7-1.8 2.6-1.2 1.4-3 2.5-3 1.4-2 0.3-1-0.1-2-0.6-1.3-0.9-1.7-2-1-2-0.6-2-0.4-3 0-3 0.4-3 1-4 0.7-2 1.4-3 1.4-2 1.1-1.4 2-1.8 2-1.1 1.9-0.7zM470.9 247l2.1-0.8 2 0 1 0.2 2 1.1 1.4 1.5 0.9 2 0.2 1-0.1 2-0.7 2-0.8 1-1.1 1-1.8 0.8-1 0.2-2 0-2.6-1-1.2-1-0.8-1-0.8-2-0.1-1 0.3-2 0.3-1 0.9-1.4 1-1 0.9-0.6z"/>
<path fill="#adff49" fill-rule="evenodd" d="M470.9 172l2.1-0.6 2 0.1 2 0.5 1 0.6 1.4 1.4 0.4 1 0.1 1-0.2 1-0.6 1-1.1 1-1 0.5-2 0.4-1 0-2-0.4-2-1.1-1.3-1.4-0.4-1 0-1 0.3-1 0.8-1 1.5-1zM464.7 204l4.2 0 3.1 0.6 3.4 1.4 3 2 1.9 2 0.7 1.2 0.6 1.8-0.2 2-0.4 1-0.8 1-1.2 1-2.5 1-2.5 0.4-2-0.1-2-0.4-3-1-2-1.2-2-1.5-2.2-2.2-1.3-2-0.8-2-0.2-1 0.2-1 0.5-1 1.5-1 2.3-0.7 1.7-0.3zM507.4 227l2.6-0.8 2 0.1 2 0.6 2 1.6 0 19.3-2 3.2-1.8 2-1.2 1.1-2 1.3-1 0.4-2 0.5-1 0.1-2-0.4-1-0.5-1-0.8-1.4-1.7-0.9-2-0.6-2-0.2-2 0-3 0.4-3 0.4-2 1-3 1.3-2.6 1.6-2.4 1.4-1.6 2-1.6 1.4-0.8zM471.6 248l1.4-0.5 2 0 2 0.8 0.8 0.7 0.8 1 0.7 2-0.1 2-0.9 2-1.3 1.2-2 0.8-2-0.1-2.2-0.9-1.1-1-0.6-1-0.5-2 0.4-2 1-1.7 1.6-1.3z"/>
<path fill="#c1ff36" fill-rule="evenodd" d="M472.2 173l1.8-0.3 1 0.1 1 0.3 1 0.6 1 1.3 0.1 1-0.4 1-1 1-1.7 0.6-2-0.1-1.2-0.5-1.2-1-0.6-1 0.1-1 0.5-1 1.6-1zM508 228l2-0.6 2 0.1 2 0.8 1 0.8 1 1.1 0 16-2.2 3.8-1.7 2-1.1 1-2 1.4-1 0.4-2 0.5-1 0-2-0.5-1-0.6-1-1-1-1.4-0.7-1.8-0.5-2-0.2-2 0.1-3 0.6-3 0.5-2 0.8-2 1.4-2.6 1.8-2.4 1.2-1.1 2-1.5 1-0.4zM472.4 249l1.6-0.4 1.7 0.4 1.3 0.9 0.7 1.1 0.4 1-0.1 2-1 1.6-1 0.8-1 0.4-1 0.1-1-0.1-1.6-0.8-0.9-1-0.5-1-0.2-1 0.2-1.3 0.9-1.7 1.5-1z"/>
<path fill="#d4ff23" fill-rule="evenodd" d="M473.4 175l0.6-0.1 0.6 0.1 0.5 1-1.1 0.4-1-0.4 0.4-1zM508.2 229l1.8-0.5 1 0 2 0.5 1 0.6 1 0.9 1 1.5 0 12.5-1.1 2.5-1.2 2-1.6 2-1.1 1.1-2 1.4-1 0.4-2 0.5-1-0.1-2-0.6-0.9-0.7-1.5-2-0.8-2-0.4-2 0-4 0.3-2 0.9-3 0.8-2 1.2-2 2.4-2.9 2-1.5 1.2-0.6zM472 251l1-0.7 1-0.2 1 0.2 1 0.7 0.5 1 0.2 1-0.3 1-0.4 0.6-1 0.7-1 0.2-1-0.2-1-0.6-0.5-0.7-0.2-1 0.1-1 0.6-1z"/>
<path fill="#e7ff0f" fill-rule="evenodd" d="M508.2 230l1.8-0.5 2 0.2 1 0.4 1 0.7 1 1.2 1 2.1 0 8.4-0.8 2.5-1 2-1.3 2-1.7 2-1.2 0.9-2 1.1-2 0.4-1 0-1-0.3-1-0.6-1-0.9-1-1.6-0.7-2-0.3-2 0.2-4 1.1-4 1.7-3.4 2.2-2.6 1.8-1.4 1.2-0.6z"/>
<path fill="#fbf100" fill-rule="evenodd" d="M508.1 231l1.9-0.5 1 0 1 0.2 1 0.6 1 0.8 1.2 1.9 0.6 2 0.2 2-0.3 3-0.4 2-1.2 3-1.2 2-1.6 2-1.3 1.1-2 1.1-2 0.4-1-0.1-1-0.4-1-0.7-1-1.2-0.6-1.2-0.8-3 0-2 0.2-2 1.2-4 1.6-3 1.4-1.8 1-0.9 2.1-1.3z"/>
<path fill="#ffdb00" fill-rule="evenodd" d="M507.9 232l1.1-0.4 2-0.1 1.4 0.5 1.2 1 0.7 1 0.8 2 0.2 2 0 2-0.3 2-0.6 2-0.9 2-1.5 2.2-1.7 1.8-1.3 0.9-2 0.7-1 0.1-1-0.2-1-0.4-1-0.9-0.8-1.2-0.5-1-0.4-2 0-3 0.3-2 0.6-2 1.5-3 1.3-1.8 1-1 1.9-1.2z"/>
<path fill="#ffc400" fill-rule="evenodd" d="M507.6 233l1.4-0.6 2 0 1 0.4 1 0.8 1 1.4 0.3 1 0.4 2 0 2-0.3 2-0.6 2-1 2-1.4 2-1.4 1.4-1 0.7-2 0.7-1 0-1-0.2-1-0.6-1-1.1-0.5-0.9-0.6-2 0-3 0.6-3 1.3-3 1.2-1.8 1-1 1.6-1.2z"/>
<path fill="#ffae00" fill-rule="evenodd" d="M507.5 234l1.5-0.7 1-0.1 1 0.2 1.2 0.6 0.9 1 0.8 2 0.2 3-0.3 2-0.6 2-1.1 2-1.1 1.5-2 1.7-2 0.8-1-0.1-1-0.3-0.8-0.6-0.8-1-0.8-2-0.1-3 0.5-2.7 1-2.4 1-1.6 1-1.2 1.5-1.1z"/>
<path fill="#ff9400" fill-rule="evenodd" d="M507.3 235l1.7-0.8 1-0.1 1 0.3 0.9 0.6 0.8 1 0.4 1 0.3 1 0.1 2-0.6 3-1.5 3-1.4 1.6-1 0.8-1 0.5-1 0.2-1-0.1-1-0.4-1-1.1-0.6-1.5-0.3-2 0.1-2 0.9-3 1.2-2 0.7-0.9 1.3-1.1z"/>
<path fill="#ff7e00" fill-rule="evenodd" d="M507.2 236l1.8-0.8 1-0.1 1 0.4 0.6 0.5 0.7 1 0.3 1 0.2 2-0.5 3-1.3 2.5-1 1.2-1 0.8-1 0.5-1 0.2-1-0.2-1.3-1-0.5-1-0.3-1-0.2-2 0.4-2 0.7-2 1.2-1.8 1.2-1.2z"/>
<path fill="#ff6800" fill-rule="evenodd" d="M507.3 237l0.7-0.5 1-0.3 1 0 1 0.6 0.8 1.2 0.3 2-0.1 1.4-0.4 1.6-1.1 2-1.5 1.5-1 0.5-1 0.1-1-0.3-1-1-0.5-1.8 0-1 0.3-2 0.3-1 0.9-1.6 1.3-1.4z"/>
<path fill="#ff5200" fill-rule="evenodd" d="M507.5 238l0.5-0.3 1-0.3 1 0.2 0.5 0.4 0.6 1 0.2 2-0.3 1.3-1 2-1 1.1-1 0.5-1 0.1-1.2-1-0.4-1-0.1-1 0.1-1 0.5-2 1.1-1.5 0.5-0.5z"/>
<path fill="#ff3b00" fill-rule="evenodd" d="M508.5 239l0.5-0.1 1 0.8 0.2 1.3-0.1 1-0.5 1-0.6 0.9-1 0.5-1-0.2-0.2-0.2-0.4-1 0-1 0.6-1.8 1-1.1 0.5-0.1z"/>
<path fill="none" stroke="#1a2a2a" stroke-opacity=".6" stroke-width=".45" d="M508.1 234l1.9-0.4 1 0.2 1 0.5 0.6 0.7 0.6 1 0.6 2-0.1 3-0.8 3-0.9 1.8-1 1.4-1 1-1.2 0.8-1.8 0.6-1 0-1-0.4-1-0.9-0.8-1.3-0.5-2 0.1-3 0.9-3 1.1-2 1.2-1.5 1-0.9 1.1-0.6M516 241.5l-0.7 2.5-1.3 3-2 2.8-2 1.8-2 1.1-2 0.4-2-0.4-1-0.6-1.1-1.1-1-2-0.5-2-0.2-2 0.2-3 0.8-3 0.8-2 1.1-2 1.5-2 1.4-1.3 2-1.2 2-0.6 1 0 2 0.7 1 0.8 1.2 1.6 0.8 2.1M471.6 171l2.4-0.3 2 0.2 2 0.7 1.8 1.4 0.7 1 0.3 1 0.1 1-0.2 1-0.4 1-0.9 1-1.4 0.9-1 0.4-1 0.3-2 0-2-0.4-1-0.4-1.4-0.8-1.2-1-0.7-1-0.3-1-0.1-1 0.3-1 0.6-1 0.8-0.8 1-0.6 1.6-0.6M460.1 203l4.9-0.7 5-0.1 4.2 0.8 2.6 1 2 1 2.2 1.4 1.9 1.6 1.1 1.2 1.2 1.8 0.3 1 0.3 2-0.3 2-0.4 1-1.6 2-1.5 1.1-2 0.9-3 0.8-3 0.1-3-0.4-2-0.5-3-1.3-3-2-2.9-2.7-2.4-3-1.6-3-0.5-2 0.1-1 0.5-1 1.2-1 2.7-1M472.1 247l1.9-0.4 1 0.1 2 0.7 1.8 1.6 1 2 0.2 1-0.1 2-0.8 2-1.1 1.3-1 0.7-1 0.4-2 0.3-1-0.1-1.7-0.6-1.5-1-0.9-1-0.5-1-0.5-2 0.3-2 0.5-1 1.3-1.7 1-0.8 1.1-0.5M516 248.8l-1.4 2.2-1.6 1.9-3 2.6-3 1.3-2 0.3-1-0.1-2-0.7-1-0.7-1-1-1-1.4-1.2-3.2-0.5-4 0.2-3 0.3-2 0.7-3 0.6-2 2-4 1.4-2 1.5-1.6 1-0.9 2-1.2 3-0.9 2 0 1 0.3 2 0.9 1 0.9M410.9 171l2.1-0.6 3-0.3 3 0.2 2 0.4 2 0.7 2 1.1 1.6 1.5 0.5 1 0.1 1-0.4 2-3.8 7.5-0.8 2.5-1.3 5-0.9 1.5-1 0.7-1 0.3-2 0.2-2-0.2-3-1-2.9-1.5-3-2-2.2-2-1.6-2-0.8-2-0.2-2 0.3-2 0.7-2 1.2-2 1.5-1.8 2-1.7 2-1.3 2.9-1.2M441.1 252l2.9 0.1 2.7 0.9 1.3 1 0.7 1 0.2 1-0.2 1-0.9 1-1.6 1-2.2 0.8-2 0.4-2 0.1-2-0.2-1-0.2-2-0.9-0.8-1-0.2-1 0.2-1 0.6-1 1-1 1.7-1 1.5-0.6 2.1-0.4M516 257.7l-2 2.1-2 1.7-3 1.8-2 0.8-2 0.5-2 0-2-0.3-2-0.8-2-1.4-1-1-2.1-3.1-1.3-3-0.9-3-0.9-7-0.8-3-1-1.2-1-0.4-1-0.1-1 0.2-0.8 0.5-0.5 1 0.3 2 1.6 5 0.2 3-0.2 2-0.6 2-0.9 2-0.6 1-1.5 1.5-2 1.3-2 0.6-2 0.3-2 0-2-0.4-3-0.9-3.1-1.4-1.5-1-1.2-1-0.9-1-0.6-1-0.5-2 0.2-3 0.6-2 0.8-2 1.8-3 3-4 0.4-1 0-1-0.5-1-0.8-1-3.7-3.6-4-4.6-15.7-20.8-1.3-2-1-2-0.2-1 0.1-1 0.5-1 1-1 1.7-1 1.9-0.6 3-0.3 6 0.1 3-0.1 3-0.4 3-0.7 2.8-1 2.1-1 1.8-1 2.7-2 0.9-1 0.4-1-0.2-1-0.9-1-1.5-1-7.8-5-3.6-3-0.9-1-1.1-2-0.2-1 0-1 0.9-2 1-1 1.6-1.2 3-1.4 3-0.9 4-0.6 3-0.2 3 0.3 2 0.4 2 0.8 2 1.1 1.9 1.7 1.5 2 1.1 2 1.5 3.6 1 1 1 0.4 1 0 6-0.7 2 0.2 2 0.4 2 0.7 2 1.1 2 1.7 1.4 1.6 1.3 2 1 2 0.7 2 0.7 3 0.3 5-0.7 8 0 3 0.3 2 1 2.3M448.8 160l1 1 2.2 0.8 3 0.5 3 0.1 3-0.2 2-0.4 2.6-0.8 1.2-1M435 182.9l-3 0.7-2 1.2-1.2 1.2-1.1 2-0.3 2 0.4 2 1.2 1.7 1 0.8 1 0.5 2 0.4 3-0.4 3-1.1 5-2.3 2-0.5 2 0.2 5 1.4 2 0.4 3 0.1 2-0.2 2-0.6 2-1.2 1.1-1.2 0.4-1 0-1-0.3-1-1.2-1.5-2.1-1.5-2.9-1.1-2-0.3-3 0.2-6 1.9-2 0.3-2-0.3-6-1.6-3-0.2M398 228.9l3 2.1 6.8 4 2.8 2 3.3 3 5.3 6 2.8 2.7 3 2 3 1.2 2 0.1 2-0.3 7-1.8 7-1.1 2.7-0.8 1.7-1 1.8-2 1-2 0.9-3 0.3-3-0.6-4-1.3-4-2.4-5-3.1-5-4-5.3-4-4.2-4-3.4-4-2.5-3-1.2-2-0.3-7-0.5-3-0.5-3-0.8-7-2.5-3-0.7-3 0-2 0.5M467.8 271l2-1 1.1-1 0.5-1-0.2-1-0.8-1-1.3-1-1.9-1-4.2-1.7-4-0.9-5-0.5-4 0.3-8 1.3-7 0.8-2 0.4-2 0.7-0.9 0.6-1 1-0.3 1 0.2 1 0.8 1 1.2 0.9 2.3 1.1M398 220.7l2 2.2 2 1.5 2 1.2 6.9 3.4 4.1 2.9 3 3.1 6 8.1 2 2 3 1.9 2 0.7 3 0.3 3-0.3 4-1 2-0.7 2-1.2 1.8-1.8 1.1-2 0.8-3 0-3-0.8-4-1.6-4-2.7-5-2.7-4-3.5-4-3.4-2.9-3-1.8-4-1.6-3-0.7-8-1.4-10-3.4-2-0.3-2 0.2-2 0.7-2 1.6M446 264l-4.7 1-2.4 1-0.9 1 0.2 1 1.4 1 3.4 1.1 4 0.6 5 0.2 4-0.4 4-0.8 1.7-0.7 1.3-1 0.3-1-0.7-1-1.7-1-3.9-1.1-5-0.4-3 0.1-3 0.4M404 206.8l-1 0.3-1.5 0.9-0.8 1-0.8 2-0.1 2 0.4 2 0.8 1.8 1 1.3 1 0.9 2 1.2 6 2.2 2 1 2 1.3 2 1.6 2.8 2.7 1.6 2 5.6 9 1.8 2 1.3 1 1.9 1 1 0.3 3 0.2 3-0.6 1.8-0.9 1.2-1 1.5-2 0.6-2 0.2-3-0.7-3-1.6-3.7-3-5.1-2.3-3.2-2.7-3-3-2.4-2-1.2-2-0.8-3-0.8-6-0.7-3-0.5-8-3.5-2-0.3-1 0"/>
<path fill="#eaf2fb" fill-rule="evenodd" d="M395 149.3H518.1V271.5H395zM399.70 215.15a57.40 53.95 0 1 0 114.80 0a57.40 53.95 0 1 0 -114.80 0z"/>
</g>
<path d="M439 175.7h.01M472.5 175.7h.01M432.2 187.9h.01M456.1 189.2h.01M479.3 187.9h.01M411.5 183.5h.01M500.3 184h.01M415.8 200.2h.01M440.5 200.2h.01M469.5 201.1h.01M496.5 200.2h.01M428.4 214.1h.01M456.1 214.6h.01M483.9 214.1h.01M414.5 228.8h.01M442.3 227.6h.01M469.5 227.6h.01M497.7 227.6h.01M432.7 241h.01M456.1 240.5h.01M479.3 241h.01M410.7 245.9h.01M501.5 245.9h.01M439.7 254h.01M471.3 254h.01M456.1 265h.01M404.9 214.6h.01M509.9 219h.01M439.7 165.2h.01M473.8 165.7h.01" stroke="#1a1a1a" stroke-opacity=".85" stroke-width="1.25" stroke-linecap="round" fill="none"/>
<ellipse cx="457.4" cy="214.8" rx="52.2" ry="50.7" fill="none" stroke="#1c1c1c" stroke-width="1"/>
<path d="M448.1 165L455.4 156.9M466.7 165L459.4 156.9" stroke="#1c1c1c" stroke-width=".8" fill="none"/>
<path d="M406.5 204.6C403.6 202.6 400.6 202.9 400.3 206L400 213.8C399.8 218.4 398.9 221.9 399.1 225.2C399.4 228.8 401.8 230.5 406.8 228.2" stroke="#222" stroke-width=".8" fill="none" stroke-linejoin="round"/>
<path d="M508.3 204.6C511.2 202.6 514.2 202.9 514.5 206L514.8 213.8C515 218.4 515.9 221.9 515.7 225.2C515.4 228.8 513 230.5 508 228.2" stroke="#222" stroke-width=".8" fill="none" stroke-linejoin="round"/>
<text x="457.4" y="155.3" font-size="4.1" text-anchor="middle" fill="#161616">IC28</text>
<rect x="519.2" y="145.6" width="6.4" height="126.4" fill="url(#jet)"/>
<text x="529.2" y="154.2" font-size="4.9" fill="#161616">1.68</text>
<text x="529.2" y="168.6" font-size="4.9" fill="#161616">1.44</text>
<text x="529.2" y="183" font-size="4.9" fill="#161616">1.20</text>
<text x="529.2" y="197.4" font-size="4.9" fill="#161616">0.96</text>
<text x="529.2" y="211.8" font-size="4.9" fill="#161616">0.72</text>
<text x="529.2" y="226.2" font-size="4.9" fill="#161616">0.48</text>
<text x="529.2" y="240.6" font-size="4.9" fill="#161616">0.24</text>
<text x="529.2" y="255" font-size="4.9" fill="#161616">0.00</text>
<text x="529.2" y="269.4" font-size="4.9" fill="#161616">−0.24</text>
<path d="M525.6 152.5h1.6M525.6 166.9h1.6M525.6 181.3h1.6M525.6 195.7h1.6M525.6 210.1h1.6M525.6 224.4h1.6M525.6 238.8h1.6M525.6 253.2h1.6M525.6 267.6h1.6" stroke="#222" stroke-width=".6" fill="none"/></g>
<g><rect x="396.1" y="274.5" width="122.9" height="123.1" fill="#eaf2fb"/>
<g>
<rect x="404" y="285" width="114" height="111" fill="#49ffad"/>
<path fill="#5dff9a" fill-rule="evenodd" d="M404 285l114 0 0 111-114 0 0-111zM445 287.7l-1 0.3 1 0.4 1-0.1 1-0.3-1-0.3-1 0zM467 331l-1 0.2-1 0.5-1.4 1.3-0.6 1-0.2 1 0.2 0.4 1 0.7 1-0.2 1.6-0.9 1-1 0.6-1 0.2-1-0.4-0.7-1-0.3zM475 383.7l-0.5 0.3-0.7 1 0 1 0.4 1 0.8 0.8 1 0.5 1 0 0.7-0.3 0.7-1 0.2-1-0.2-1-0.4-0.7-1-0.7-1-0.2-1 0.3z"/>
<path fill="#70ff87" fill-rule="evenodd" d="M404 285l114 0 0 111-114 0 0-111zM443 287.8l-0.3 0.2 1.3 1 1 0.1 1.7-0.1 1.5-1-1.2-0.8-1-0.2-2 0.3-1 0.5zM468 328.8l-1 0.2-2 0.9-1.6 1.1-1.4 1.4-1 1.6-0.4 1-0.1 1 0.5 1.3 1 0.7 1 0.1 1-0.1 2.4-1 1.4-1 1.2-1.1 1.3-1.9 0.5-2-0.2-1-0.6-0.7-1-0.4-1-0.1zM474 382l-1.3 1-0.6 1-0.3 1 0.2 2 0.4 1 1.6 2 1 0.9 1 0.5 1 0.2 1-0.1 1.4-0.5 0.9-1 0.4-1 0.2-1-0.1-2-0.8-2.3-1-1.2-1-0.6-1-0.3-2 0-1 0.4zM502 330l-1 1.6-0.1 1.4 0.2 2 0.9 1.9 1-0.1 0.6-1.8 0.1-1-0.2-2-0.3-1-0.2-0.4-1-0.6zM509 315l-1 2.1-0.3 2.9 0.3 2.4 1 0.9 1-0.7 0.3-0.6 0.6-2 0.1-1-0.3-2-0.7-1.7-1-0.3z"/>
<path fill="#87ff70" fill-rule="evenodd" d="M404 285l114 0 0 111-114 0 0-111zM420 323.8l-1 1.2-0.2 1 0.3 1 0.9 1.1 1 0.4 1 0.2 1 0 1.7-0.7 0.8-1 0.3-1-0.2-1-0.7-1-0.9-0.6-1-0.3-1 0-1 0.2-1 0.5zM444 286.8l-1 0.3-1.2 0.9 0.8 1 2.4 0.4 2-0.1 1.1-0.3 1.1-1-1.2-1.1-2-0.3-2 0.2zM467 327.6l-2 0.9-2 1.4-1.3 1.1-1.6 2-1 2-0.2 1 0 1 0.3 1 0.8 1 1 0.4 1 0.2 1-0.1 2-0.5 2-1 1.4-1 1.6-1.5 1.2-1.5 1-2 0.3-1 0.1-1-0.3-1-0.3-0.6-1-0.8-1-0.3-1 0-2 0.3zM473 381l-1.3 1-0.7 1-0.5 1-0.2 2 0.7 2.6 2 3.3 1.2 1.1 1.8 0.5 1 0 2-0.4 2.2-1.1 1.1-1 0.5-1 0.2-1-0.8-4-1.2-2.5-1.7-1.5-1.3-0.6-1-0.2-2 0.1-2 0.7zM509 312.9l-1 0.8-0.5 1.3-0.7 3-0.8 5.3-0.6 1.7-0.4 0.5-3-0.2-1 0.4-1 1.2-0.7 2.1-0.4 3 0.4 4 0.9 3 0.8 1.6 1 1 1 0.2 1-0.6 1-2.1 0.6-3.1 0.8-8 0.8-1 1.8-1 1-0.9 1-1.6 0.5-1.5 0.3-3-0.4-3-0.4-1.1-1-1.6-1-0.4z"/>
<path fill="#9aff5d" fill-rule="evenodd" d="M404 285l114 0 0 111-114 0 0-111zM420 321.9l-1.8 1.1-0.8 1-0.4 1-0.1 1 0.2 1 0.9 1.5 1 0.8 1 0.5 2 0.4 2-0.2 2-1 1-1 0.5-1 0.2-1-0.1-1-0.6-1.2-1-1.1-2-1-2-0.2-2 0.4zM442 286.9l-1.1 1.1 0.6 1 2.5 0.6 2 0.1 2-0.3 1.1-0.4 0.9-1-0.6-1-2.4-0.7-3 0.1-2 0.5zM469 325.9l-2 0.5-3 1.5-2.7 2.1-1.8 2-1.7 3-0.4 2 0.1 1 0.4 1 1.1 1.2 1 0.5 2 0.2 2-0.4 2-0.8 2-1.2 1.9-1.5 2.6-3 0.6-1 0.8-2 0.2-2-0.3-1-0.7-1-1.1-0.7-1-0.3-2-0.1zM476 378.9l-2 0.4-1 0.4-2 1.3-1.4 2-0.4 1-0.2 2 0.3 2 2.1 5 1 1 0.6 0.3 1 0.3 2 0.3 3-0.5 3-1.3 1.4-1.1 0.8-1 0.5-1 0.2-1-0.2-1-1.4-4-1.1-2-0.8-1-1.3-1-1.1-0.5-1-0.4-2-0.2zM508 311.5l-1 1.7-2 7-1 1.3-3 1-1 0.7-1.1 1.8-0.9 3-0.3 2 0 3 0.3 3 0.7 3 1.1 3 1.2 1.9 1 0.9 1 0.3 1-0.3 0.8-0.8 1-2 0.8-3 0.8-6 0.5-2 0.9-2 2.7-4 0.5-1.3 0.4-1.7 0.1-4-0.3-2-0.6-2-0.6-1.2-1-1.2-1-0.4-1 0.3z"/>
<path fill="#adff49" fill-rule="evenodd" d="M404 285l114 0 0 111-39.7 0 2.7-0.8 2-1.1 1-0.8 1.9-2.3 0.5-1 0.2-1-0.1-1-2.3-5-1.1-2-1-1-1.3-1-1.8-0.8-3-0.4-3 0.6-1.2 0.6-1.4 1-1.7 2-0.5 1-0.5 2 0 1 0.3 2 1.8 6 1.2 1.2 2.7 0.8-69.7 0 0-111zM419 320.8l-2 1.2-0.9 1-0.6 1-0.3 1 0.2 2 0.4 1 1.2 1.5 1 0.8 2 0.8 3 0.3 1.7-0.4 1.3-0.5 1.9-1.5 0.7-1 0.5-1 0.1-2-0.4-1-0.5-1-1-1-2.3-1.3-2-0.5-2 0.1-2 0.5zM444 286l-2 0.4-1.3 0.6-0.7 1 0.5 1 2.5 0.8 3 0.2 2-0.3 2-0.7 0.8-1-0.4-1-1.4-0.7-2-0.4-3 0.1zM468 325l-3 1.2-3 1.9-2.1 1.9-2.3 3-1.3 3-0.2 2 0.2 1 0.4 1 1.3 1.3 2 0.7 2 0 2-0.4 2-0.8 2-1.2 2.2-1.6 2.1-2 1.5-2 1.1-2 0.6-2 0-2-0.5-1.2-1-1.1-1-0.6-1-0.3-2-0.2-2 0.4zM508 309.6l-1 0.7-0.4 0.7-1.6 5.5-1 1.8-1 0.8-2 0.6-1 0.6-1.4 1.7-0.6 1.1-0.7 1.9-0.6 3-0.2 3 0.2 4 0.5 3 0.8 3 1 2.7 1 1.8 1.3 1.5 0.7 0.5 1 0.4 1-0.1 1-0.7 1.4-2.1 0.9-3 1.3-8 0.5-2 0.9-2 2.2-4 0.9-3 0.1-2 0-3-0.5-3-0.6-2-1.1-2.2-1-0.9-1-0.4-1 0.1z"/>
<path fill="#c1ff36" fill-rule="evenodd" d="M404 285l114 0 0 111-35 0 2.6-2 1.5-2 0.5-1 0.6-2-0.2-1.5-3.4-6.5-1.6-1.9-1.6-1.1-1.4-0.7-2-0.5-2-0.1-3 0.6-1.6 0.7-1.4 0.9-2 2.1-1 2-0.3 1-0.3 2 0.3 2 0.6 3 0.2 3 0.3 1 1.2 1-65 0 0-111zM421 319l-2 0.4-1.6 0.6-1.8 1-1.3 1-0.8 1-0.4 1 0.1 2 0.3 1 1.2 2 1.3 1.4 2 1.2 1 0.4 2 0.4 2 0 2-0.4 2.3-1 1.4-1 0.9-1 0.9-2 0.1-2-0.2-1-1.2-2-2.2-1.8-3-1.1-3-0.1zM442 285.9l-2.4 1.1-0.6 1 0.5 1 2.8 1 2.7 0.2 2-0.1 3-0.7 0.8-0.4 0.9-1-0.2-1-1.5-0.9-1-0.3-2-0.3-2-0.1-3 0.5zM468 323.8l-2 0.7-2 1-3 2.1-2.5 2.4-2.2 3-1.2 3-0.3 2 0.4 2 0.8 1.4 1 0.9 2 0.8 2 0.1 2-0.3 3-1.1 3-1.7 2.6-2.1 2-2 2.1-3 0.9-2 0.4-2-0.2-2-0.8-1.5-1-0.9-2-1-2-0.2-3 0.4zM507 307.9l-1 0.7-0.3 0.4-1 4-0.7 2-1 1.2-3 1.4-1 0.9-1 1.4-1 2-0.7 2.1-0.7 4-0.2 4 0.4 4 0.7 4 0.9 3 1.2 3 1.4 2.3 1 1.2 1 0.7 1 0.4 1-0.1 1.1-0.5 1.1-1 1.1-2 1.2-4 1.5-9.1 1-2.8 2.1-4.1 0.8-3 0.1-3-0.1-4-0.5-3-1-3-1.4-2.3-1-0.8-1-0.4-1 0.1-1 0.3z"/>
<path fill="#d4ff23" fill-rule="evenodd" d="M404 285l40.7 0-2.7 0.3-2 0.6-1.7 1.1-0.4 1 0.6 1 1.5 0.8 2 0.5 3 0.2 2-0.1 2.3-0.4 2.4-1 0.9-1 0-1-1.1-1-1.5-0.6-3.2-0.4 71.2 0 0 111-31.4 0 1.7-2 0.9-2 0.5-3 0-1-0.2-1-1.9-3-2.1-4-1.5-1.8-1-0.8-2-1-2-0.6-2-0.3-3 0.3-3 1.1-1.7 1.1-1.1 1-1.6 2-1 2-0.4 2 0 2 0.5 4-0.1 1-0.7 3 0.4 1-61.3 0 0-111zM412 317.9l-1 0.1-1 0.9-1.3 2.1-1 3 0 2 0.3 0.9 1 0.7 2 0.4 1 0.6 2.6 2.4 1.5 1 1.9 0.9 2 0.5 2 0.1 2-0.2 2-0.5 2-0.9 2-1.5 1.1-1.4 0.9-2 0.1-1-0.2-2-0.9-1.8-1-1.2-2-1.6-2-0.9-3-0.7-3 0-5 1-1-0.1-2-0.8zM467 322.9l-3 1.4-4 2.8-3 3-1.4 1.9-1 2-1 3 0 2 0.2 1 0.3 1 0.9 1.4 1 0.9 1 0.5 2 0.5 3-0.1 3-0.9 3-1.5 3-2 3.1-2.8 2.4-3 1.2-2 0.9-3-0.1-2-0.9-2-1-1-1.6-1.1-1-0.3-2-0.5-2 0.1-3 0.7zM507 305l-3 0.6-0.3 0.4-0.2 4-0.5 2.3-1 1.2-2 1.3-1 0.9-1 1.3-1 1.7-1.7 4.3-0.5 2-0.4 3-0.1 4 0.3 4 0.7 4 1.1 4 1.6 3.9 1.9 3.1 1.1 1.2 1 0.7 1 0.3 1 0 0.7-0.2 1.3-0.7 1.2-1.3 1.2-2 1.3-4 1.3-8.4 0.4-1.6 0.6-1.7 2.3-4.3 0.5-3 0.2-5-0.1-4-0.4-3-1.1-4-0.9-2-1.5-2-1-0.7-1-0.4-2 0.1z"/>
<path fill="#e7ff0f" fill-rule="evenodd" d="M404 285l35.8 0-1.8 0.7-1.4 1.3-0.2 1 0.7 1 1.9 1 1 0.2 2 0.4 3 0.1 4-0.3 1.5-0.4 2.1-1 1-1 0.3-1-0.4-1-0.5-0.4-1.3-0.6 66.3 0 0 111-26.7 0 0.2-1 0.2-2-0.6-6-0.5-1-2.1-3-2-4-1.5-1.8-2-1.4-3-1.1-3-0.4-3 0.3-3 0.9-2.4 1.5-2.1 2-1.4 2-1.2 3-0.2 2 0.2 4-0.3 2-0.6 1-2 2-0.8 1-56.2 0 0-69.2 0.3 1.2 0.9 2 0.8 1.2 1 0.7 3-1 1 0 1 0.3 3.3 1.8 1.7 0.8 2 0.5 3 0.2 2-0.2 2-0.4 2-0.8 1.9-1.1 1.2-1 1.7-2 0.5-1 0.4-2-0.2-2-0.9-2-1.6-1.9-1.4-1.1-2.6-1.5-3-0.9-2-0.3-4 0.1-1.9-0.4-1-1-1.1-2.9-1-0.1-1 0.4-2 1.1-2 1.6-2.4 2.9-1 2-0.6 2.2 0-37.2zM470 320.9l-2 0.4-2 0.7-4 2.1-4 3.2-1.6 1.7-1.6 2-1.2 2-0.8 2-0.5 2-0.1 2 0.4 2 0.5 1 0.9 1.3 1 0.9 2 1 2 0.4 3-0.2 3-1 4-2 3.4-2.4 3.3-3 2.4-3 1.6-3 0.5-2 0-2-0.7-2-0.8-1-1.1-1-2.6-1.5-2-0.5-3-0.1zM497 296.6l-0.5 0.4 0 1 3.5 7 0.7 2 0.1 2-0.2 1-2.6 3.6-2 4-1.7 4.4-1 4-0.3 4 0.1 4 0.5 4 1.2 5 1.3 4 1.9 4.3 1.8 2.7 1.2 1.1 1 0.5 1 0.1 1 0 2-0.7 2.7-2 3.3-3.9 0.5 0.9 0.8 3 0.7 1.2 1-0.6 0.3-0.6 1.1-3 0.5-3 0.2-4-0.2-25-0.4-4-1-5-1-3-1.5-2.7-1-1.3-2-1.7-4-1.7-3-1.6-2-0.8-2-0.2-2 0.6z"/>
<path fill="#fbf100" fill-rule="evenodd" d="M457.7 286l1.3-0.2 2 0 7 0.9 8 1.7 3 0.9 3 1.2 5 2.8 3 2.1 1.9 1.6 3.1 3.4 1.2 1.6 1 2 0.6 2 0.1 1-0.2 2-5.2 14-0.8 3-0.3 2-0.1 3 0.3 4 0.7 4 1 4 1.2 4 2 5 1.5 3.1 1 1.4 1 0.9 1 0.4 1 0.2 2-0.2 4-1.2 1-0.2 1 0.4 1 1.1 1 1.6 1.7 1.5 0.8 1 0.7 2 0.2 2-0.5 4-1.1 4-1.3 3-2.1 4-2.9 4-2.5 2.7-2 1.7-3 1.7-2 0.6-1 0-1-0.2-1-0.5-1-1-1-1.7-0.8-2.3-2.7-4-1.7-4-0.8-1.2-1-1.1-2-1.3-2-0.7-2-0.5-3-0.2-3 0.2-3 0.9-3 1.7-2.5 2.2-1.5 2-1.4 3-0.6 3-0.2 4-0.3 1-0.5 0.8-1 0.8-1 0.5-2 0.5-4 0.1-3-0.3-3-0.7-5-1.5-6-2.6-5-2.9-6-4.4-3.7-3.3-4.7-5-6.4-8-3.3-5-2.3-5-0.6-1.6 0-13.1 2-1.6 1.5-2.7 1.5-1.8 1-0.7 1-0.3 1 0.1 4 1.5 3 0.7 4 0 3-0.6 3-1.1 2.9-1.8 2-2 0.7-1 0.8-2 0.1-2-0.5-2-1.2-2-2-2-1.8-1.3-3-1.6-3-0.9-5-0.9-1-0.7-0.4-0.6-0.2-2 0.3-2 1.3-4 0.4-5 1-3 1.9-3 1.8-2 1.9-1.7 2-1.3 2-0.9 2-0.2 1 0.2 3.9 1.9 2.1 0.5 4 0.4 4 0 3-0.4 2-0.6 1.8-0.9 2.2-2.1 1-0.7 0.7-0.2zM468 319.8l-2 0.6-2 0.9-2 1.2-3 2.1-3.7 3.4-1.6 2-1.2 2-0.9 2-0.5 2-0.3 2 0.1 2 0.6 2 0.5 1 1 1.3 2 1.5 1 0.4 2 0.5 3 0 3-0.7 3-1.3 4.6-2.7 4-3 3-3 1.5-2 1.2-2 1-3 0-2-0.8-2-1.7-2-2.8-2-3-1.2-3-0.4-3 0.4z"/>
<path fill="#ffdb00" fill-rule="evenodd" d="M457.7 288l2.3-0.3 5 0.5 11 2 3 0.9 2 0.8 3.7 2.1 5.3 4 2.8 3 1.2 1.8 0.5 1.2 0.6 2 0 2-0.4 4-0.7 3-2 5.4-3.6 6.6-0.9 2 2.8 11 5.7 15.9 0.9 2.1 0.7 1 1.4 1 1 0.2 2-0.2 5-1.1 1 0 1 0.4 1 1 2.3 3.7 0.3 1 0.3 2-0.1 2-0.5 3-1 3-2 4-2 3-2.3 2.7-2 1.8-3 1.8-2 0.5-1 0-1-0.3-1-0.6-1-1.2-0.9-1.7-2.2-3-0.8-2-1.2-4-0.9-1.6-1-0.9-2-1-2-0.5-3-0.5-3-0.1-4 0.4-3 1-3 1.8-2 1.7-2.3 2.7-1.2 2-1.3 3-1 5-0.5 1-1.2 1-2.5 0.6-3-0.1-3.5-0.5-3.8-1-5.3-2-5.4-2.8-4.9-3.2-4.1-3.3-4-3.9-3.9-4.8-3.2-5-2.5-5-1.6-4-1.1-4-0.9-6 0-3 0.5-3 0.7-2 1-1.6 1-0.7 1-0.2 6 1.1 4 0.1 3-0.4 3-0.8 3.3-1.5 3-2 1.9-2 1.3-2 0.3-1 0.2-2-0.5-2-1.3-2-2-2-2.7-2-2.5-1.5-3-1.3-5-1.9-0.4-0.3-0.6-1 0-2 0.9-3 1.4-3 3.4-6 1.5-2 2-2 1.8-1.2 1.9-0.8 2.1-0.2 9 0.5 4-0.2 4-0.8 5.7-2.3zM468 317.9l-2 0.6-3 1.4-3 1.7-3 2.1-3.6 3.3-1.5 2-1.1 2-1.1 3-0.4 2 0 3 0.3 2 0.8 2 1.3 2 1.3 1.2 2 1.1 3 0.8 2 0.1 2-0.2 2-0.6 2-0.8 4-2.2 6.8-4.4 3.8-3 2-2 1.6-2 1.4-2 0.9-2-0.2-1-0.5-1-1.5-2-2-2-3.3-2.4-3-1.5-3-1.1-3-0.3-2 0.2z"/>
<path fill="#ffc400" fill-rule="evenodd" d="M455 290l3-0.7 3 0 8 1.9 6 0.6 2 0.4 2.4 0.8 2 1 1.6 1 2.3 2 3.4 4 2.3 3.1 1 2 0.6 1.9 0.3 2 0 3-0.6 3-1.3 3-1 1.5-1 1.1-1 0.7-1 0.3-1 0-2-0.7-10-5.4-3-1.1-2-0.2-2 0.3-3 1.2-11.6 6.3-3.2 2-1.1 1-0.8 1-0.5 2 0.5 9 0.6 3 0.7 2 1.2 2 0.8 1 2.4 1.9 3 1.3 2 0.5 2 0.1 2-0.2 3-0.9 2-1 9-5.1 5-2.1 2-0.5 1 0 1 0.2 1 0.5 1 0.8 1 1.2 2 3.2 2 4.4 1.4 4.7 1 6 0.6 1.6 1 0.6 1 0 7-2.2 2-0.4 1 0 1 0.3 1 0.8 1.3 2.3 0.9 2 0.3 2-0.3 3-0.8 3-1.9 4-1.9 3-1.7 2-2.9 2.5-2 1-2 0.4-1-0.1-1-0.3-1-0.9-2.8-3.6-0.5-1-0.6-2-0.5-7-0.6-1.6-1-0.6-1-0.1-10-0.1-4 0.2-3 0.6-3 1.2-2 1.3-2.4 2.1-2.7 3-2.1 3-3.6 6-1.2 1-2 0.5-2 0-3.3-0.5-3.5-1-5-2-4.2-2.2-4.4-2.8-4.6-3.8-4-4-3-3.8-3-4.7-1.9-3.7-2.2-6-0.7-3-0.5-3-0.2-3 0.3-3 0.6-2 0.6-1 1-0.8 1-0.3 6 0.3 5-0.5 4-0.9 3-1.1 5.1-2.7 4.2-3 2.2-2 0.7-1 0.2-1-0.3-1-1.4-2-3.3-3-5.8-4-8.7-5-1.1-1-0.4-1 0.1-2 0.6-2 1.5-3 2-3 2.4-2.8 2-1.8 3-1.9 2-0.7 2-0.2 7 0 4-0.3 3-0.5 3-0.8z"/>
<path fill="#ffae00" fill-rule="evenodd" d="M453.9 291l3.1-0.3 3 0.3 2.5 1 3.5 2.2 2 0.8 2-0.1 4-0.9 2 0 3 0.8 1.9 1.2 1.9 2 2.5 5 0.8 1 2.9 2.8 1.4 2.2 0.7 2 0 3-0.5 2-1.1 2-1.5 1.5-1 0.4-2 0.1-2-0.5-3-1.5-3.2-2-5.8-4.8-1-0.4-1-0.1-2 0.6-7 4.4-5 2.4-2 0.7-3 0.7-3 0.3-2-0.1-2-0.4-2-0.6-4-1.9-7.9-4.8-2.7-2-0.9-1-0.6-1-0.2-2 0.5-2 0.9-2 1.3-2 1.6-2 2-2 2.7-2 2.3-1.2 3-0.7 9-0.4 5.9-0.7zM437.9 335l2.1-0.3 1 0 1 0.3 1 0.7 1 1.2 0.6 1.1 2.7 6 2.1 3 1.6 1.4 2 1.3 2 1 3 0.9 3 0.3 3-0.6 2-0.9 7-4.3 3-1.4 2-0.6 2-0.3 2 0.1 2 0.5 1 0.5 2 1.6 1.3 1.5 1.2 2 1.2 3 0.5 3 0.1 2-0.3 2-0.7 2-1.3 2-1.1 1-1.9 1.2-2 0.7-4 0.7-9 0.3-2 0.3-2 0.8-3 2.1-8 7.8-2 1.5-3 1.3-2 0.3-2 0.1-4-0.5-5-1.4-5-2.1-5-3-4-3.3-4-4.3-3-4.2-2-3.6-2-5-1.1-4.7-0.3-3 0-2 0.4-1.9 0.6-1.1 1.4-1.1 2-0.5 6-0.9 4-0.8 4-1.1 7.9-2.6zM505.8 362l1.2 0.2 1.2 0.8 1.2 2 0.7 2 0.2 1 0 2-0.9 4-1.9 4-1.5 2.2-2 2.3-2 1.6-2 1.1-2 0.3-1-0.2-1-0.6-2-2.2-1-1.5-0.5-1-0.3-2 0-2 0.3-2 1-3 1.7-3 1.8-1.9 1.3-1.1 2.7-1.6 2-0.8 2.8-0.6z"/>
<path fill="#ff9400" fill-rule="evenodd" d="M449.6 292l4.4-0.2 2 0.1 2 0.4 1.4 0.7 1.6 1 2.1 2 3.3 4 1.2 2-0.2 1-0.9 2-1.7 3-1.5 2-2.1 2-2.2 1.6-2 1.1-4 1.6-4 0.8-4 0.1-4-0.6-3-1.1-2-1-4.1-2.5-2.5-2-1-1-1.3-2-0.2-1-0.1-1 0.4-2 0.9-2 1.4-2 3.1-3 3.4-2.2 3-1.1 3-0.3 7.6-0.4zM473 297l1-0.4 2-0.3 2 0.4 1 0.6 1 0.9 1.1 1.8 1 4 0.9 1.7 1 0.9 3 2 1.2 1.4 0.9 2 0.1 2-0.8 2-1.4 1.4-1 0.4-1 0.1-2-0.4-2-0.9-2.2-1.6-1.7-2-2.1-4.3-5.7-5.7-0.4-1 0.2-1 0.6-1 1.8-2 1.5-1zM436.7 338l1.3 0 2 0.4 2 1.3 1 1.1 4.2 6.2 1.8 1.9 2 1.6 2 1.3 3 1.6 5 2 2 0.1 1-0.4 1-0.6 5.2-4.5 2.8-1.9 2-0.9 2-0.6 2-0.3 2 0.1 2 0.6 1.7 1 1.3 1.1 1 1.2 1 1.8 0.6 1.9 0.3 2-0.2 2-0.6 2-1.2 2-1.9 1.7-2 1-2 0.6-2 0.3-3 0-3-0.3-6-1.2-1 0-1 0.3-1 0.7-1 1-3.1 3.9-2.9 3-3 2.1-3 1.2-3 0.4-4-0.1-5-1-4-1.5-4-2-4-2.7-3.8-3.4-2.7-3-2.5-3.8-1.9-4.2-1.1-4-0.1-3 0.4-2 0.5-1 1.2-1.2 2-1.2 4.7-1.6 7.3-1.9 3-0.7 2.7-0.4zM502.4 364l1.6-0.6 2-0.1 1 0.4 1 1 0.6 1.3 0.6 2 0.2 2-0.3 2-0.6 2-1.3 3-1.3 2-1.6 2-1.3 1.2-2 1.4-2 0.6-1 0-1-0.4-2-1.8-0.8-1-0.5-1-0.4-2 0.2-3 1-3 1.1-2 1.4-1.9 2.1-2.1 1.9-1.3 1.4-0.7z"/>
<path fill="#ff7e00" fill-rule="evenodd" d="M440.9 293l6.1-0.4 6 0 3 0.7 1.5 0.7 1.5 1 1.1 1 1.6 2 1.1 2 0.6 2 0 2-0.5 2-0.4 1-1.3 2-2.2 2.2-3 2-4 1.5-4 0.8-4-0.1-4-0.8-4-1.7-3-1.9-2.2-2-1.4-2-0.7-2 0-1 0.5-2 1-2 0.7-1 1.1-1.2 2-1.7 3.5-2.1 3.4-1zM474.4 300l0.6-0.5 1-0.3 1 0.2 0.8 0.6 0.5 1 0.1 1-0.4 1.4-1 0.6-1 0-1-0.6-1-1.4-0.1-1 0.5-1zM481.5 311l0.5-0.3 1-0.2 1 0.2 1 0.5 0.7 0.8 0.3 0.6 0.1 0.4-0.1 1-1 0.8-1 0.2-1-0.3-1-0.6-0.8-1.1-0.2-1 0.5-1zM432.2 341l2.8-0.2 2 0.1 2 0.6 1 0.6 2 1.7 5.4 6.2 7.4 6 1.8 2 0.5 1 0.6 2 0.1 1-0.2 2-0.8 2-0.8 1.5-1.3 1.5-1.7 1.4-3 1.5-2 0.5-2 0.2-4-0.3-4-1-4-1.7-4.3-2.6-3.7-3.2-3.1-3.8-2.3-4-0.9-3-0.3-3 0.3-2 0.4-1 0.6-1 0.9-1 2.4-1.5 3.9-1.5 4.3-1zM475.8 349l1.2-0.3 2-0.2 2 0.3 1 0.3 1.5 0.9 1.1 1 1.3 2 0.4 1 0.3 2-0.3 2-0.4 1-1.4 2-1.2 1-1.3 0.7-2 0.6-2 0.2-2-0.1-1.8-0.4-2.2-1-1-0.7-1.2-1.3-0.6-1-0.3-1 0.1-2 0.3-1 1.1-2 0.8-1 1.8-1.5 2.8-1.5zM502.5 365l1.5-0.5 1-0.1 1 0.2 1 0.7 0.9 1.7 0.5 2 0 2-0.3 2-0.7 2-1 2-2.4 3.2-1 1-2 1.3-2 0.5-1-0.1-2-1.4-1.2-1.5-0.6-2 0.3-3 1.1-3 1.9-3 2.5-2.5 2.5-1.5z"/>
<path fill="#ff6800" fill-rule="evenodd" d="M439.9 294l2.1-0.5 3-0.3 6 0.1 3.1 0.7 2.9 1.6 1.6 1.4 1.4 1.8 0.6 1.2 0.6 2 0 2-0.2 1-0.8 2-0.6 1-1.8 2-2.8 1.9-3 1.3-4 0.8-3 0.1-4-0.6-3-1.1-3-1.7-2-1.7-1.6-2-0.8-2-0.1-1 0.2-2 0.4-1 1.3-2 2-2 2.6-1.8 2.9-1.2zM431.3 344l1.7-0.2 2 0 2 0.4 2 0.9 3 2.4 8.4 8.5 1.4 2 0.5 1 0.3 1 0.2 2-0.5 2-0.6 1-1.7 1.8-2.2 1.2-2.8 0.6-3 0-3-0.6-3-1.1-3.4-1.9-2.6-2-2.8-3-1.4-2-1.4-3-0.6-3 0.1-2 0.7-2 0.8-1 1.1-1 1.7-1 3.1-1zM476.8 351l2.2-0.2 2 0.5 1 0.5 1 1 0.8 1.2 0.2 0.8 0.2 1.2-0.2 1-0.9 2-1.1 1.1-2 0.9-2 0.3-2-0.3-2-1.1-0.9-0.9-0.6-1-0.2-1-0.1-1 0.7-2 0.7-1 1.1-1 2.1-1zM502.5 366l1.5-0.5 1 0 1 0.4 0.9 1.1 0.4 1 0.3 2-0.3 3-1.2 3-2.1 3.1-1 1-2 1.4-1 0.3-1 0.1-1-0.3-1-0.6-1-1-0.6-1-0.3-2 0.3-2 1.2-3 1.4-2.2 2-2.2 2.5-1.6z"/>
<path fill="#ff5200" fill-rule="evenodd" d="M443.8 294l5.2 0 3 0.6 3 1.4 2 1.6 1.1 1.4 0.6 1 0.6 2 0.1 2-0.2 1-0.9 2-0.7 1-2.2 2-2.4 1.4-3 1-3 0.4-4-0.2-3-0.7-3-1.5-1.9-1.4-1.8-2-0.9-2-0.2-2 0.4-2 1.3-2 2.1-2 2-1.2 3-1.2 2.8-0.6zM432.1 348l1.9-0.3 1 0 2 0.5 3 1.7 3.4 3.1 2.5 3 1.1 2 0.4 1 0 2-0.4 1-0.9 1-1.1 0.7-2 0.6-2 0-2-0.3-2-0.7-2-1-3-2.4-1.6-1.9-1.1-2-0.4-1-0.3-2 0.3-2 0.5-1 0.9-1 1.8-1zM477.9 354l1.2 0 0.9 0.5 0.4 0.5 0.3 1-0.4 1-1.3 1-1 0-1-0.4-0.6-0.6-0.3-1 0.4-1 0.5-0.5 0.9-0.5zM502.4 367l1.6-0.4 1 0.1 1 0.8 0.6 1.5 0.2 1-0.3 3-1.1 3-1.4 2-0.9 1-2.1 1.4-1 0.3-1 0-1.5-0.7-0.9-1-0.5-1-0.1-1 0.2-2 1.2-3 1.4-2 2-2 1.6-1z"/>
<path fill="#ff3b00" fill-rule="evenodd" d="M443.2 295l3.8-0.2 3 0.4 3 1.1 2 1.4 1 1 0.9 1.3 0.5 1 0.2 1 0.1 2-0.7 2.1-0.6 0.9-1.4 1.5-2 1.4-2.7 1.1-2.3 0.5-3 0.1-3-0.4-2-0.6-2-1-2-1.6-1.5-2-0.7-2 0.1-2 0.8-2 1.8-2 1.5-1.1 2-1 3.2-0.9zM502.4 368l1.6-0.3 1 0.4 0.6 0.9 0.4 2-0.6 3-0.9 2-1.5 2-1 0.8-1 0.5-1 0.3-1-0.1-1-0.5-0.8-1-0.2-0.7-0.1-1.3 0.5-2 0.9-2 1.5-2 1.2-1.2 1.4-0.8z"/>
<path fill="#ff2500" fill-rule="evenodd" d="M443.5 296l3.5-0.2 3 0.6 2 0.8 2.3 1.8 1.4 2 0.3 1 0 2-0.7 2-1.8 2-1.5 1-2 0.8-2 0.5-3 0.2-2.9-0.5-2.1-0.8-2-1.2-1-1-1-1.4-0.5-1.6 0-2 0.9-2 0.9-1 1.7-1.3 2-1 2.5-0.7zM502.7 369l1.3 0 0.8 1 0.3 1 0 1-0.5 2-1.1 2-1.5 1.6-1 0.6-1 0.1-1-0.2-1-1.2-0.1-0.9 0.3-2 0.8-1.7 1-1.4 1-1 1.7-0.9z"/>
<path fill="#fa0f00" fill-rule="evenodd" d="M444.6 297l2.4 0 3 0.7 2.2 1.3 1.1 1 0.6 1 0.5 2-0.4 2-1 1.5-1.9 1.5-3.1 1.1-2 0.2-2-0.1-2-0.5-1.6-0.7-1.4-1-1-1.1-0.9-1.9-0.1-1 0.6-2 0.6-1 1.1-1 1.7-1 2-0.7 1.6-0.3zM501.3 371l0.7-0.5 1-0.1 0.8 0.6 0.2 1-0.1 1-0.8 2-0.9 1-1.2 0.8-1 0.1-0.9-0.9-0.1-1.1 0.2-0.9 0.8-1.6 1.3-1.4z"/>
<path fill="#df0000" fill-rule="evenodd" d="M442 299l2-0.6 2-0.2 2 0.3 2 0.8 1.1 0.7 0.9 1 0.5 1 0.1 1-0.1 1-0.4 1-0.8 1-1.3 1-3 1-3-0.1-2.5-0.9-1.4-1-0.7-1-0.5-1-0.1-1 0.2-1 0.5-1 0.9-1 1.6-1z"/>
<path fill="#c40000" fill-rule="evenodd" d="M443.9 300l1.1-0.2 2 0.1 1 0.2 1.4 0.9 0.8 1 0.3 1-0.2 1-0.6 1-1.7 1.1-2 0.4-2-0.2-1-0.4-1-0.7-0.9-1.2-0.1-1 0.2-1 0.8-1 1.9-1z"/>
<path fill="none" stroke="#1a2a2a" stroke-opacity=".6" stroke-width=".45" d="M443.8 299l1.2-0.2 2 0.1 1 0.2 2 0.9 1.1 1 0.5 1 0.3 1-0.2 1-0.7 1.3-0.7 0.7-1.3 0.8-1 0.4-2 0.3-3-0.5-1.8-1-1-1-0.5-1-0.1-1 0.2-1 0.6-1 1.1-1 2.3-1M440.8 295l2.2-0.5 2-0.3 4 0.2 3 0.7 2 0.9 1.5 1 1.9 2 0.6 1.1 0.7 1.9 0 2-0.2 1-0.5 1.2-1 1.5-2 1.9-2 1.2-3 1.1-3 0.4-3 0-3-0.6-3-1.3-2-1.3-2-2.1-0.9-2-0.3-2 0.5-2 1.2-2 1.5-1.4 2.4-1.6 2.4-1M433.7 350l1.3-0.2 1 0.1 2 0.8 2 1.3 2.1 2 1.6 2 0.9 2 0.2 1-0.2 1-0.6 1.1-1 0.7-1 0.3-1 0.1-2-0.2-3-1.3-1.1-0.7-1.9-1.8-1.4-2.2-0.6-2 0-1 0.3-1 0.7-1 1-0.7 0.7-0.3M503.9 367l1.1 0.2 0.8 0.8 0.4 1 0.2 1 0 2-0.9 3-1.5 2.6-2 1.9-1 0.5-1 0.2-1 0-1-0.4-1-0.9-0.4-0.9-0.2-1 0.2-2 0.7-2 1.1-2 1.7-2 1.9-1.4 1.9-0.6M444.7 292l4.3-0.2 6-0.6 3 0.1 3 1.1 2.4 1.6 2.6 2.1 1 0.6 1 0.2 1-0.1 4-1.5 2-0.4 2 0.1 2 0.8 1.7 1.2 0.9 1 1.1 2 1.1 3 0.6 1 0.8 1 3.4 3 1.3 2 0.5 2 0 2-0.4 1.5-0.7 1.5-1.3 1.4-1 0.6-1 0.2-2-0.2-2-0.7-2.4-1.3-2.8-2-1.9-2-2.9-3.7-1-0.8-1-0.4-1-0.1-1 0.3-1 0.7-4.6 4-3.4 2.2-4 1.8-4 1.2-4 0.4-4-0.3-3-0.9-5-2.4-4.8-3-2.5-2-1-1-0.7-1.1-0.4-1.9 0.1-1 0.6-2 1.6-3 1.6-2 2.5-2.3 2.4-1.7 2.1-1 1.5-0.5 3-0.4 3.7-0.1M434.2 337l2.8-0.7 2-0.2 2 0.4 1 0.5 1 0.9 1 1.4 3.1 5.7 2.4 3 2.5 1.9 2 1.1 3 1.2 2 0.5 3 0.2 2-0.4 2-1.1 6.8-4.4 2.2-1 2-0.7 2-0.4 2 0 2 0.4 1 0.4 2 1.3 1 1 1.5 2 0.9 2 0.6 2 0.3 3-0.2 2-0.7 2-1.2 2-1.2 1.2-2 1.2-2 0.8-2 0.4-3 0.3-9-0.1-2 0.5-1 0.4-2 1.5-5 5-3 2.7-2 1.3-3 1.1-3 0.4-4-0.2-4-0.8-5-1.8-4-2-4-2.5-4-3.4-3-3.3-3-4.4-2-3.9-1-2.6-0.8-2.8-0.5-4 0-2 0.5-2 0.8-1.2 1.2-0.8 3.1-1 7.7-1.7 8.2-2.3M503.2 363l1.8-0.5 1 0 1 0.3 1.4 1.2 0.9 2 0.5 2 0.1 2-0.3 2-1 3-0.9 2-1.2 2-1.6 2-1.9 1.9-2 1.3-2 0.7-1 0-1-0.2-1-0.7-1.9-2-0.7-1-0.4-1-0.4-2 0.1-2 0.4-2 0.6-2 1-2 2.2-3 3.1-2.5 3.2-1.5M437.8 285l-1.6 1-0.7 1 0 1 0.9 1 1.9 1 1.7 0.4 5 0.4 3-0.2 2-0.3 3-1.3 1.1-1 0.5-1 0-1-0.9-1M485.5 285l1.5 3.1 1.1 2.9 0.6 1 4.3 4.1 3 3.5 1.6 2.4 1 2 1 3-0.1 2-0.4 1-2.1 3.9-3.2 8.1-1.1 4-0.3 3 0.1 5 0.9 6 1.4 5 2.2 5.7 1.2 2.3 1.3 2 1.5 1.2 1 0.4 1 0.1 2-0.4 5-2.4 1 0.2 2 3.2 1 0.3 4-0.7M468 320.7l-2 0.7-2 0.9-4.1 2.7-3.4 3-1.6 2-1.3 2-1 2-0.6 2-0.3 2 0.1 2 0.6 2 0.6 1 1 1.1 1.3 0.9 1.7 0.7 3 0.4 3-0.5 3-1.1 4-2.3 4.3-3.2 3-3 2.2-3 1.3-3 0.2-2-0.3-2-1.2-2-1-1-1.5-1.1-3-1.3-3-0.3-3 0.4M404 332.4l2 1.6 1-0.2 2-1.4 0.9-0.4 1.1-0.2 1 0.2 4.2 2 2.8 0.7 3 0.2 3-0.4 2-0.5 2-0.9 1.7-1.1 1.2-1 1.6-2 0.8-2 0.1-1-0.2-2-0.8-2-1.7-2-2.7-2-2-1-2-0.7-3-0.5-4-0.3-1.2-0.5-0.8-1.1-0.3-1.9 0-2-0.3-1-0.4-0.4-4-0.8-3 0-2 0.3-2 1M518 379.7l-3.4 6.3-2.9 5-2 3-1.7 2M495.3 396l-1.3-1.8-1-2.2-1.8-6-2.1-3-1.9-4-1.2-1.8-2-1.6-2-0.9-2-0.6-3-0.3-3 0.2-3 1-2 1.1-2.3 1.9-1.6 2-1.5 3-0.6 3 0.1 4-0.1 1-0.4 1-0.8 1-1.8 1.2-4.7 1.8M442 286.7l-0.6 0.3-0.9 1 0.6 1 2.9 0.7 2 0.1 2-0.3 1.5-0.5 0.9-1-0.6-1-0.8-0.4-2-0.4-3 0-2 0.5M508 310.7l-1 1.3-2.2 7-0.8 1.2-1 0.6-2 0.6-1 0.6-0.8 1-1.2 2.6-0.5 2.4-0.3 3 0.1 3 0.4 3 0.7 3 0.7 2 1.1 2 0.8 1.1 1 0.8 1 0.3 1-0.2 1-0.8 1-1.8 1-3.4 1.2-8 0.8-2 2.9-5 0.8-3 0.1-2-0.2-3-0.4-2-0.7-2-0.5-1-1-1.1-1-0.3-1 0.1M422 320.9l-2 0.4-2 1.1-1.4 1.6-0.3 1-0.1 1 0.2 1 0.4 1 1.2 1.3 1 0.7 1 0.4 1 0.2 2 0.1 2-0.5 2-1.4 0.7-0.8 0.4-1 0.2-1-0.1-1-0.3-1-0.7-1-1.2-1-2-0.8-2-0.3M467 326l-3 1.4-2.2 1.6-2 2-2 3-0.7 2-0.2 2 0.3 1 0.6 1 1.2 0.9 1 0.3 2 0.1 2-0.4 2.2-0.9 1.8-1 2.5-2 1.8-2 1.3-2 0.9-2 0.2-1-0.2-2-0.5-1-1.2-1-1.8-0.6-2 0.1-2 0.5M474 378.8l-2 0.9-1.6 1.3-0.8 1-0.9 2-0.2 1 0.1 2 2 6 0.6 1 0.8 0.6 2 0.6 3 0.1 3-0.6 2-1 2.1-1.7 1.3-2 0.2-1-0.2-1-2.4-5.7-0.9-1.3-1.1-1-1.9-1-1.1-0.3-2-0.2-2 0.3"/>
<path fill="#eaf2fb" fill-rule="evenodd" d="M396.1 274.5H519V397.6H396.1zM405.10 340.40a55.60 54.30 0 1 0 111.20 0a55.60 54.30 0 1 0 -111.20 0z"/>
</g>
<path d="M443.3 301.1h.01M475.7 301.1h.01M436.7 313.4h.01M459.9 314.6h.01M482.3 313.4h.01M416.7 308.9h.01M502.6 309.4h.01M420.8 325.6h.01M444.8 325.6h.01M472.8 326.6h.01M498.9 325.6h.01M433 339.7h.01M459.9 340.2h.01M486.7 339.7h.01M419.6 354.4h.01M446.5 353.2h.01M472.8 353.2h.01M500.1 353.2h.01M437.2 366.7h.01M459.9 366.2h.01M482.3 366.7h.01M416 371.6h.01M503.8 371.6h.01M444 379.7h.01M474.5 379.7h.01M459.9 390.8h.01M410.4 340.2h.01M511.8 344.6h.01M444 290.5h.01M477 291h.01" stroke="#1a1a1a" stroke-opacity=".85" stroke-width="1.25" stroke-linecap="round" fill="none"/>
<ellipse cx="461.1" cy="340.4" rx="50.5" ry="50.9" fill="none" stroke="#1c1c1c" stroke-width="1"/>
<path d="M452.1 290.3L459.1 282.2M470.1 290.3L463.1 282.2" stroke="#1c1c1c" stroke-width=".8" fill="none"/>
<path d="M411.9 330.1C409.1 328.1 406.2 328.4 405.9 331.5L405.6 339.4C405.3 344 404.5 347.5 404.7 350.8C404.9 354.4 407.3 356.1 412.1 353.8" stroke="#222" stroke-width=".8" fill="none" stroke-linejoin="round"/>
<path d="M510.3 330.1C513.1 328.1 516 328.4 516.3 331.5L516.6 339.4C516.9 344 517.7 347.5 517.5 350.8C517.3 354.4 514.9 356.1 510.1 353.8" stroke="#222" stroke-width=".8" fill="none" stroke-linejoin="round"/>
<text x="461.1" y="280.6" font-size="4.1" text-anchor="middle" fill="#161616">IC7</text>
<rect x="519.9" y="273.1" width="5.9" height="124.7" fill="url(#jet)"/>
<text x="529.4" y="281.4" font-size="4.9" fill="#161616">1.68</text>
<text x="529.4" y="295.7" font-size="4.9" fill="#161616">1.44</text>
<text x="529.4" y="309.9" font-size="4.9" fill="#161616">1.20</text>
<text x="529.4" y="324.1" font-size="4.9" fill="#161616">0.96</text>
<text x="529.4" y="338.3" font-size="4.9" fill="#161616">0.72</text>
<text x="529.4" y="352.5" font-size="4.9" fill="#161616">0.48</text>
<text x="529.4" y="366.7" font-size="4.9" fill="#161616">0.24</text>
<text x="529.4" y="380.9" font-size="4.9" fill="#161616">0.00</text>
<text x="529.4" y="395.1" font-size="4.9" fill="#161616">−0.24</text>
<path d="M525.8 279.7h1.6M525.8 293.9h1.6M525.8 308.1h1.6M525.8 322.3h1.6M525.8 336.5h1.6M525.8 350.8h1.6M525.8 365h1.6M525.8 379.2h1.6M525.8 393.4h1.6" stroke="#222" stroke-width=".6" fill="none"/></g>
<g><rect x="396.1" y="399.6" width="122.9" height="124" fill="#eaf2fb"/>
<g>
<rect x="404" y="410" width="113" height="110" fill="#00008d"/>
<path fill="#0000a8" fill-rule="evenodd" d="M404 410l113 0 0 110-113 0 0-110zM510 485.7l-3 2.2-2 2.1-2.2 3-2.2 4-1 3-0.5 3 0 1 0.2 1 0.4 1 1.3 1.2 1 0.3 2-0.4 2-1.1 1-0.8 2-2 2-2.6 2.4-4.6 1-3 0.5-3-0.2-2-0.2-1-0.5-0.8-1-0.8-1-0.2-2 0.5z"/>
<path fill="#0000c4" fill-rule="evenodd" d="M404 410l113 0 0 110-113 0 0-110zM511 484.7l-1 0.4-2 1.4-3 2.9-2.7 3.6-2.1 4-1.3 4-0.3 3 0.4 2.2 1 1.3 0.8 0.5 1.2 0.2 2-0.5 1-0.5 2-1.4 2-2 1.5-1.8 1.5-2.3 1.4-2.7 1.2-3 0.7-3 0.2-2-0.3-2-0.4-1-0.9-1-0.9-0.4-1-0.1-1 0.2z"/>
<path fill="#0000df" fill-rule="evenodd" d="M404 410l113 0 0 110-113 0 0-110zM512 483.8l-1 0.2-2 1.1-3 2.6-3 3.6-2.7 4.7-1.6 4-0.4 2-0.3 2 0.3 2 0.3 1 0.4 0.6 1 0.9 1 0.4 2-0.2 2-0.9 2-1.4 3.2-3.4 1.8-2.5 1.4-2.5 0.9-2 1-3 0.6-3 0.1-2-0.4-2-0.6-1.1-1-0.9-1-0.3-1 0.1z"/>
<path fill="#0000fa" fill-rule="evenodd" d="M404 410l113 0 0 110-113 0 0-110zM513 483l-1 0.1-2 0.8-3 2.3-3.5 3.8-1.5 2.1-1.7 2.9-2 5-0.8 4 0.1 2 0.4 1.2 1 1.6 1 0.6 1 0.2 2-0.3 2-0.9 2-1.4 2-1.9 1.7-2.1 1.4-2 1.7-3 2-5 0.6-3 0.1-2-0.2-2-0.4-1-0.6-1-1.3-0.8-1-0.2z"/>
<path fill="#0004ff" fill-rule="evenodd" d="M404 410l113 0 0 76.6-0.3-1.6-0.7-1.4-1-0.9-1-0.4-1-0.1-2 0.6-2 1.2-2 1.6-2 2-2 2.4-1.4 2-1.7 3-2 5-0.7 3-0.2 2 0.2 2 0.8 1.7 1 1.1 1 0.4 1 0.2 2-0.4 2-1 2-1.4 3.4-3.6 1.6-2.1 1.7-2.9 2.2-5 0.8-3 0.3-2 0 31-113 0 0-110z"/>
<path fill="#001cff" fill-rule="evenodd" d="M404 410l113 0 0 73.8-0.5-0.8-1-1-1.5-0.5-1 0-1 0.2-2 1-2 1.5-2 1.8-3.5 4-3 5-2 5-0.8 3-0.2 2 0.1 2 0.4 1.3 1 1.7 1 0.7 1 0.3 2-0.1 1-0.3 2-1 2-1.4 2-1.9 3.4-4.3 2.8-5 1.1-3 0.7-2.3 0 28.3-113 0 0-110z"/>
<path fill="#0034ff" fill-rule="evenodd" d="M404 410l113 0 0 72.3-1-1-1-0.5-1-0.1-2 0.4-2 1-2 1.5-3.5 3.4-3.1 4-2.8 5-1.8 5-0.7 3-0.1 2 0.2 2 0.8 1.9 1 1.1 1 0.6 1 0.2 2-0.2 3-1.4 2-1.4 2-1.9 3.2-3.9 2.9-5 1.9-4.6 0 26.6-113 0 0-110z"/>
<path fill="#004cff" fill-rule="evenodd" d="M404 410l113 0 0 71-1-0.7-1-0.3-1-0.1-2 0.5-2 1.1-2 1.5-4.1 4-3 4-2.8 5-1.8 5-0.6 3-0.2 2 0.1 2 0.4 1.5 0.8 1.5 1.2 1.1 1 0.4 2 0 1-0.2 2-0.9 2-1.2 2-1.7 3.2-3.5 3.4-5 2.4-5.3 0 25.3-113 0 0-110z"/>
<path fill="#0064ff" fill-rule="evenodd" d="M404 410l113 0 0 69.8-1-0.5-2-0.2-1 0.2-2 1-4 3-2 1.9-2.5 2.8-2.8 4-2.5 5-1.6 5-0.6 3-0.1 2 0.1 1.1 0.5 1.9 0.5 1.2 1 1.2 1 0.6 2 0.4 1-0.2 2-0.6 2-1.1 2-1.5 2-1.8 2-2.2 1.5-2 2-3 2.5-5.1 0 24.1-113 0 0-110z"/>
<path fill="#0080ff" fill-rule="evenodd" d="M404 410l113 0 0 68.7-1-0.3-2-0.1-1 0.3-2 1-2 1.4-3 2.6-4 4.4-2.8 4-2.4 5-1.7 5-0.6 3-0.1 2 0.1 2 0.6 2 0.9 1.6 1 0.9 1 0.5 2 0.2 3-0.9 2-1.1 2-1.5 3.8-3.7 1.6-2 2-3 2.6-4.9 0 22.9-113 0 0-110z"/>
<path fill="#0098ff" fill-rule="evenodd" d="M404 410l113 0 0 67.6-1-0.2-2 0.1-1 0.4-2 1-2 1.5-3 2.5-2.1 2.1-2.5 3-2.7 4-2.4 5-1.9 6-0.5 3-0.1 2 0.2 2 0.7 2 0.5 1 0.9 1 0.9 0.6 2 0.4 1 0 2-0.6 2-0.9 2-1.3 2-1.7 2-1.9 3.7-4.6 1.9-3 1.4-2.7 0 21.7-113 0 0-110z"/>
<path fill="#00b0ff" fill-rule="evenodd" d="M404 410l113 0 0 66.6-1-0.1-2 0.2-3 1.5-3 2.3-2.8 2.5-2.2 2.3-2.3 2.7-3.2 5-1.8 4-1.7 6-0.8 5 0.1 2 0.5 2 1 2 1 1 1.2 0.7 2 0.2 1-0.1 2-0.6 2-1 2-1.3 4-3.6 3.6-4.3 2-3 1.4-2.6 0 20.6-113 0 0-110z"/>
<path fill="#00c8ff" fill-rule="evenodd" d="M404 410l113 0 0 65.5-2 0.1-1 0.2-2 1-2 1.4-5.5 4.8-2.5 2.6-1.9 2.4-2.6 4-2.3 5-1.8 6-0.5 3-0.3 3 0.2 2 0.5 2 0.7 1.5 1 1.2 1 0.7 2 0.5 1 0 2-0.4 2-0.9 2-1.2 3-2.3 2-1.9 3.6-4.2 3.4-5.4 0 19.4-113 0 0-110z"/>
<path fill="#00e0fb" fill-rule="evenodd" d="M404 410l113 0 0 64.4-2 0.2-1 0.3-2 1.1-3 2.3-3.2 2.7-2.8 2.7-2.1 2.3-2.3 3-2.3 4-2.1 5-1.7 7-0.5 3 0 2 0.2 2 0.5 2 1.1 2 1 1 1.2 0.7 1 0.2 2 0 2-0.5 2-0.9 2-1.2 2-1.5 3-2.8 3.6-4 3.4-5.2 0 18.2-113 0 0-110z"/>
<path fill="#0ff8e7" fill-rule="evenodd" d="M404 410l113 0 0 63.2-2 0.3-1 0.4-2 1.3-2 1.5-4 3.3-3 2.8-2.1 2.2-2.4 3-2.9 5-1.7 4-1.8 7-0.7 4-0.1 2 0.2 3 0.6 2 0.9 1.9 1 1.1 1 0.7 2 0.5 1 0 2-0.4 2-0.8 2-1.1 2-1.4 3-2.5 4.6-5 3.4-4.8 0 16.8-113 0 0-110z"/>
<path fill="#23ffd4" fill-rule="evenodd" d="M404 410l113 0 0 61.9-2 0.5-2 1.1-5 3.9-5 4.5-2.1 2.1-2.5 3-2.1 3-1.6 3-1.1 3-1.2 4-1.6 8-0.3 3 0.3 3 0.8 3 1.3 2 1.4 1-90.3 0 0-110zM516.8 505l0.2-0.3 0 15.3-17.1 0 2.1-0.9 2-1.1 2-1.4 3-2.5 4-4.1 3.8-5z"/>
<path fill="#36ffc1" fill-rule="evenodd" d="M404 410l113 0 0 60.5-2 0.6-2 1.3-10.2 8.6-2 2-2.7 3-1.5 2-1.8 3-1.4 3-0.9 3-2.1 10-0.7 4 0 2 0.4 3 0.5 2 1 2-87.6 0 0-110zM516.5 507l0.5-0.7 0 13.7-14.2 0 3.2-2.1 4-3.4 3.3-3.5 3.2-4z"/>
<path fill="#49ffad" fill-rule="evenodd" d="M404 410l113 0 0 58.8-2 0.8-1 0.7-12.5 10.7-3.9 4-2.2 3-1.2 2-1.4 3-0.9 3-3 15-0.2 2 0.1 3 0.3 2 0.5 2-85.6 0 0-110zM516.5 509l0.5-0.7 0 11.7-11.7 0 2.7-2.1 3-2.8 3-3.1 2.5-3z"/>
<path fill="#5dff9a" fill-rule="evenodd" d="M404 410l113 0 0 56.7-2 1-1 0.8-5.6 5.5-9.5 8-3.6 4-2 3-1 2-1 3-1.8 11-1.6 7-0.4 4 0 4-83.5 0 0-110zM516.9 511l0.1 9-8.9 0 4.3-4 4.5-5z"/>
<path fill="#70ff87" fill-rule="evenodd" d="M404 410l113 0 0 53.5-2 1.5-4 5-3 3-7.7 6-3.6 3-2.7 3-2 3-1.3 3-0.6 2-1.4 12-2.1 8-1.3 7-81.3 0 0-110zM516.9 515l0.1 5-4.8 0 4.7-5z"/>
<path fill="#87ff70" fill-rule="evenodd" d="M437.9 412l2.1-0.3 3-0.2 4 0.1 12-0.4 6 0.3 6 1 4 1.1 3 1 5 2 4 2.1 5 3.2 3 2.2 4 3.6 2.3 2.3 3.4 4 6.3 8.6 3 3.3 1.2 2.1 0.7 2 0.4 2-0.2 3-2.5 8-2 4-2.3 3-2.3 2.2-3 2.3-6.6 4.5-3.8 3-1.8 2-1.9 3-0.8 2-0.6 3-0.1 9-0.6 5-1.5 5-2.3 6.1-1.4 2.9-75.7 0-1.2-1-1.7-1.9 0-9.9 0.6-2.2 0.1-2-0.2-2-0.5-2.1 0-46.8 4 0.1 1-0.6 2.5-2.6 1.6-2 0.5-1 0.3-2-0.4-4-0.5-1.5-2.9-0.5-1.9-1-0.6-1 0-1 0.3-1 1.9-3 2.7-3 3.5-3 8.8-7 3.2-2.2 3-1.6 4-1.5 2.9-0.7z"/>
<path fill="#9aff5d" fill-rule="evenodd" d="M447.2 415l5.8-0.3 7 0.1 5 0.4 4.6 0.8 3.9 1 5.5 2 4.3 2 3.6 2 4.4 3 3.7 3 4 3.9 3 3.5 3 4 3 4.8 1.9 3.8 1.4 4 0.8 4-0.1 4-0.5 2-0.7 2-1.8 3.1-2.9 2.9-2.9 2-3.2 1.8-6.5 3.2-2.5 1.6-2.7 2.4-1.3 2-0.7 2-0.3 2 0.1 2 1.1 7 0.3 3-0.1 3-0.4 3.1-1.2 3.9-0.8 1.7-2 3.5-2 2.7-2.6 2.1-29.5 0-4.9-0.6-4-0.8-3-1-3-1.4-2-1.5-1.5-1.7-2.4-5-1.3-2-2.8-3.8-4.9-6.2-2.8-4-1.7-3-1.9-4-2-6-1.3-6-0.5-7 0.4-6 0.4-2 0.6-2 1.8-3 0.9-1.1 2-1.6 2-1 4.7-1.3 1.3-1-0.1-1-3.9-2.8-1-2-0.1-1.2 0.2-2 1.4-3 2.1-3 5.9-7 2.9-3 2.6-2.1 2-1.3 4-1.9 4-1.1 4.2-0.6zM473 440.5l-2 1.3-1 1.1-1 1.6-1.3 3.5-0.4 4 0.3 4 0.6 2 0.8 1.9 1 1.3 1 0.8 1 0.5 1 0.1 1-0.1 1-0.4 1-0.8 1-1.1 1-1.5 1-2.2 0.8-2.5 0.4-2 0.3-3-0.1-2-0.4-2-0.8-2-0.7-1-1-1-1.5-0.7-1-0.2-2 0.4z"/>
<path fill="#adff49" fill-rule="evenodd" d="M445.9 417l5.1 0.1 3 0.5 2 0.6 2 0.8 1.5 1 1 1 1.1 2 0.5 3-0.4 4-0.9 3-2.6 6-0.7 2-0.3 2 0 3 0.9 10 1.5 9 2.4 10.2 1 3.2 0.7 1.6 1.3 1.8 2 1.2 9 1.9 2 0.8 2 1.4 2 2 1 1.4 1.8 3.5 1.1 3 0.6 4 0 3-0.5 3-1.2 3-1.8 3-2 2.3-3 2.1-3 1.2-2 0.3-3 0.2-4-0.2-4-0.5-18-3.1-3-0.8-2-0.8-3-1.6-2-1.5-2.5-2.6-5.5-8-5-6.3-1.9-2.7-3.1-5.5-1.1-2.5-1.4-4-1.3-6-0.5-6 0.3-6 0.4-2 0.6-2 1.4-2 1.6-1.3 2-0.7 6-1.2 3-1.1 1.4-0.7 1.4-1 0.9-1 0.5-1 0.1-1-0.2-1-1.1-1.5-2-1.6-3.6-1.9-1.1-1-0.4-1 0-1 0.8-2 5.8-9 1.7-2 2-2 2.8-2 3-1.4 3-1 3.9-0.6zM497.1 443l0.9-0.4 1-0.1 2 0.5 1 0.6 2 1.8 2 2.4 2 3.6 1 2.6 0.8 4 0 3-0.8 3-1 2-1 1.3-2 1.9-3 1.8-2 0.8-3 0.7-3 0.1-2-0.4-1-0.4-1.1-0.8-0.8-1-0.5-1-0.6-2-0.1-2 0.1-3 0.5-3 0.7-3 1.9-5 1.6-3 1.3-2 2-2.2 1.1-0.8z"/>
<path fill="#c1ff36" fill-rule="evenodd" d="M442.6 419l2.4-0.3 3 0.1 3 0.7 2 1 1.8 1.5 1.3 2 0.7 2 0.2 2-0.3 2-0.7 2-1.1 2-1.9 2.3-3 2.5-3 1.8-3 1.3-2 0.1-2-0.4-2-0.9-3-1.8-2-1.5-1.3-1.4-1.1-2-0.2-1-0.1-2 0.4-2 0.8-2 1.2-2 1.8-2 1.5-1.2 2-1.2 2-0.9 2.6-0.7zM441.2 448l1.8-0.2 1 0.3 2 1.3 1 1.1 1 1.5 1.4 3 1 3 0.6 3 0.9 7 0.1 6-0.3 3-0.6 3-2.5 7-0.2 1 0.1 1 0.5 1 1 1 1 0.7 2 1.1 1 0.3 2 0.1 2-0.5 5-2.2 4-1.1 4-0.4 4 0.2 3 0.9 2 1.1 2 1.8 1 1.3 1 1.7 1 2.6 0.5 2.4 0.1 3-0.5 3-1.1 2.7-1.5 2.3-2.5 2.4-2 1.2-3 1.1-3 0.6-3 0.1-3-0.3-4-0.6-8-1.8-10-1.2-3-0.8-3-1.4-3.1-2.3-2.5-3-1.1-2-0.8-2-0.5-2-0.6-4-0.8-2-0.7-1-4.9-4.9-3-4.4-1.7-3.7-1.1-3-1.2-6-0.2-4 0.2-3 0.3-2 0.7-2 0.6-1 1-1 1.6-1 11.8-4.4 3.4-1.6 4.6-2.6 1.2-0.4zM500.8 453l1.2-0.1 1 0.2 1 0.6 1 1 1 1.7 0.4 1.6 0.2 2-0.1 1-0.5 2-1 1.5-1 1-1 0.7-1.8 0.8-2.2 0.2-1-0.2-1-0.6-1-1-0.7-1.4-0.2-1-0.1-2 0.7-3 1.3-2.3 1-1.1 1-0.8 1.8-0.8z"/>
<path fill="#d4ff23" fill-rule="evenodd" d="M440.5 421l3.5-0.7 2 0 2 0.3 1.2 0.4 1.8 1 1.2 1 0.7 1 0.6 1 0.6 2 0 1-0.3 2-0.8 1.8-0.9 1.2-2.1 1.9-2 1.1-2 0.7-2 0.3-2 0-2-0.4-2-0.8-2-1.4-1.3-1.4-0.7-1.2-0.5-1.8 0.1-2 0.7-2 1.5-2 1.1-1 1.5-1 2.1-1zM433.8 460l2.2 0 1 0.3 1 0.5 1 0.9 1.4 2.3 0.7 3 0 2-0.3 2-0.6 2-0.6 1-0.7 1-1 1-1.9 1-1 0.2-1.9-0.2-1.1-0.4-1-0.6-1-1-1-1.4-0.8-1.6-0.6-3 0.2-3 0.2-1 1-2 0.8-1 1.2-0.9 2.8-1.1zM467.5 492l2.5-0.5 2-0.2 3 0.2 2 0.6 2 0.9 2 1.5 1.3 1.5 1.2 2 0.7 2 0.4 3-0.2 3-0.6 2-1.1 2-1.7 2.1-2 1.6-2 1.1-2 0.6-2 0.4-2 0.2-3-0.1-5-0.9-6-2.3-2-0.5-2-0.2-6 0.3-4-0.6-3-1-3-1.8-1.9-1.9-0.7-1-0.9-2-0.3-2 0.1-1 0.7-2 1-1.4 1-1 2-1.3 1-0.4 3-0.6 2 0 2 0.3 3 0.9 5 2.4 2 0.3 1-0.2 1-0.5 4-2.9 2-1.2 3.5-1.4z"/>
<path fill="#e7ff0f" fill-rule="evenodd" d="M442.3 422l2.7-0.2 1.5 0.2 1.5 0.5 1 0.5 1.2 1 0.8 1 0.5 1 0.3 2-0.1 1-0.7 1.7-0.9 1.3-1.1 0.9-2 1.1-3 0.7-2-0.2-1.9-0.5-1.8-1-1.1-1-1.1-2-0.2-1 0.2-2 1.1-2 0.9-1 1.5-1 2.7-1zM467.4 494l2.6-0.7 2-0.2 2 0 2 0.4 2 0.8 1.2 0.7 1.8 1.6 1.1 1.4 0.9 2 0.5 2 0.1 3-0.5 2-0.9 2-1.2 1.7-1.4 1.3-1.6 1.1-3 1.2-3 0.5-3 0-3-0.5-3-1.1-2-1.2-2.2-2-1.8-2.3-1-0.7-1 0.2-2.8 1.8-3.2 1.3-3 0.3-3-0.3-3-1.1-1.9-1.2-1.1-1.1-1.1-1.9-0.4-2 0.1-1 0.4-1.2 1.3-1.8 1.3-1 1.4-0.7 2-0.5 2-0.1 2 0.2 2 0.6 3 1.7 2.1 1.8 1.9 1.9 1 0.7 1-0.4 3.5-4.2 2.5-2.4 2-1.4 2.4-1.2z"/>
<path fill="#fbf100" fill-rule="evenodd" d="M441.3 424l1.7-0.5 2 0 1.8 0.5 1.5 1 0.8 1 0.3 1 0.1 1-0.5 1.8-0.9 1.2-2.1 1.2-2 0.4-2-0.2-1-0.3-1.5-1.1-0.8-1-0.4-1-0.1-1 0.1-1 0.5-1 0.9-1 1.6-1zM469.4 495l1.6-0.3 2-0.2 2 0.3 2 0.6 2 1.1 1 0.9 1.2 1.6 0.8 1.6 0.4 1.4 0.2 2-0.2 2-0.7 2-1.4 2-1 1-1.3 0.9-2 1-2 0.5-3 0.3-2-0.2-2.3-0.5-2.2-1-1.4-1-0.9-1-1.2-2-0.5-2 0.1-2 0.6-2 1.1-2 1.7-2 1.2-1 1.8-1.1 2.4-0.9zM441 499l2-0.5 2 0.1 2 0.5 2 1.1 1.7 1.8 0.5 1 0.2 1 0 1-0.4 1-0.7 1-1.2 1-1.1 0.5-1.8 0.5-1.2 0.1-3-0.5-1.3-0.6-1.4-1-0.9-1-0.6-1-0.2-1-0.1-1 0.3-1 0.6-1 0.9-1 1.7-1z"/>
<path fill="#ffdb00" fill-rule="evenodd" d="M442.5 426l1.5-0.3 1 0.1 1 0.6 0.5 0.6 0.2 1-0.4 1-1.3 1-1 0.2-1-0.1-1-0.5-0.6-0.6-0.4-1 0.3-1 1.2-1zM471.3 496l1.7-0.1 2 0.2 2 0.7 1 0.6 1 0.8 1.4 1.8 0.6 1.2 0.5 1.8 0 2-0.2 1-0.8 2-0.7 1-1 1-1.8 1.3-2 0.8-2 0.4-2 0-2-0.3-2-0.6-1.1-0.6-1.2-1-0.8-1-0.6-1-0.6-2 0-2 0.5-2 0.5-1 1.3-1.7 1.4-1.3 1.6-1 2-0.7 1.3-0.3zM441.4 501l1.6-0.6 1 0 2 0.3 1 0.6 1 0.9 0.5 0.8 0.2 1-0.2 1-0.6 1-1.5 1-1.4 0.3-2-0.1-2-1.1-1-1.1-0.3-1 0.1-1 0.5-1 1.1-1z"/>
<path fill="#ffc400" fill-rule="evenodd" d="M469.1 498l2.9-0.8 3 0.3 2 0.8 1 0.7 1 1.1 1 1.9 0.3 1 0 2-0.3 1.2-0.9 1.8-0.9 1-1.2 1-1 0.5-2 0.7-2 0.1-2-0.2-1-0.3-1.7-0.8-1.2-1-0.8-1-0.5-1-0.4-2 0.3-2 0.3-1 1.4-2 1-1 1.7-1z"/>
<path fill="#ffae00" fill-rule="evenodd" d="M470.4 499l2.6-0.5 2 0.4 2.1 1.1 0.9 1 0.6 1 0.5 2-0.4 2-0.5 1-0.7 1-1.5 1.1-2 0.8-1 0.1-2-0.1-2.4-0.9-1.1-1-0.7-1-0.6-2 0.2-2 0.4-1 0.7-1 1-1 1.9-1z"/>
<path fill="#ff9400" fill-rule="evenodd" d="M469.9 501l1.1-0.6 2-0.4 2 0.5 1 0.6 1 1.2 0.5 1.7-0.1 1-0.3 1-0.8 1-1.3 1-2 0.5-2-0.2-1-0.5-1-0.8-0.6-1-0.3-1-0.1-1 0.3-1 0.6-1 1-1z"/>
<path fill="#ff7e00" fill-rule="evenodd" d="M471.1 503l0.9-0.6 1-0.2 1 0.3 0.7 0.5 0.3 0.5 0.2 0.5-0.2 1-1 1.1-1 0.2-1.4-0.3-0.9-1-0.1-1 0.5-1z"/>
<path fill="none" stroke="#1a2a2a" stroke-opacity=".6" stroke-width=".45" d="M469.6 500l2.4-0.8 2 0 2 0.7 1.3 1.1 0.6 1 0.4 1 0.1 2-0.3 1-0.5 1-1 1-1.6 1-1 0.3-2 0.2-2-0.5-1-0.6-1-0.9-0.9-1.5-0.2-1 0.1-1.5 0.6-1.5 0.4-0.6 1.6-1.4M440.5 424l1.5-0.6 2-0.3 2 0.2 2 0.9 1 0.9 0.6 0.9 0.3 1 0.1 1-0.1 1-0.9 1.6-1 1-1 0.7-2 0.6-2 0.1-1-0.2-2-0.8-1.2-1-0.7-1-0.3-1-0.1-1 0.2-1 0.4-1 0.8-1 1.4-1M468.4 495l2.6-0.6 2-0.1 2 0.2 2 0.6 1.7 0.9 1.3 1 1 1.2 1 1.7 0.8 3.1 0 2-0.5 2-1 2-1.3 1.6-1 0.9-2 1.2-2 0.7-3 0.5-3-0.1-2-0.4-2-0.8-2.5-1.6-0.9-1-1.1-2-0.3-1-0.2-2 0.3-2 0.9-2 1.4-2 2.1-2 1.5-1 2.2-1M440.1 499l1.9-0.7 3-0.1 2 0.5 2.3 1.3 1.2 1 1.2 2 0.3 1-0.1 1-0.2 1-0.7 1-1.1 1-0.9 0.5-1.1 0.5-1.9 0.4-3-0.2-2-0.7-1-0.6-1.2-0.9-0.8-1-0.6-1-0.2-1-0.1-1 0.3-1 0.6-1.2 1-1.1 1.1-0.7M441.7 418l3.3-0.6 3-0.1 3 0.2 3 0.8 2 0.8 2 1.4 1.2 1.5 0.9 2 0.5 3-0.1 2-0.4 2-1.1 3-3.1 6-0.7 2-0.2 2 0.2 3 1.8 12 3 18 0.8 4 0.9 2 1.3 1.2 2 0.8 9 0.8 3 0.8 2 1 2 1.5 2 2.3 1 1.7 1.3 2.9 0.8 3 0.3 4-0.4 3-0.9 3-1.1 2.2-1 1.5-2 2.2-2 1.5-3 1.4-2 0.5-3 0.4-3 0-4-0.4-20-3.4-4-1.2-3-1.4-3-2.2-2-2.1-1.5-2-4.5-7.1-6-7.7-3-5.1-2.2-5.1-1.6-6-0.8-6 0-6 0.4-3 0.6-2 1.1-2 1.5-1.4 2-0.8 6-1.4 3-0.9 2.9-1.5 1.3-1 0.8-1 0.5-1 0.2-1-0.1-1-0.5-1-0.8-1-1.3-1.1-4.6-2.9-0.8-1-0.2-1 0.1-1 0.8-2 2.8-5 2-3 1.6-2 2.1-2 2.2-1.6 3-1.5 2.7-0.9M497.3 446l1.7-0.8 1-0.2 1 0.1 2 1 2 1.8 2 2.9 1 2.2 1 3.1 0.3 1.9 0 2-0.3 2.4-1 2.6-1 1.5-1.4 1.5-2.6 1.8-2 0.9-3 0.8-2 0.1-2-0.3-1-0.4-1-0.6-1-1-0.8-1.3-0.3-1-0.4-2-0.1-2 0.2-2 0.5-3 0.9-2.9 0.9-2.1 1.1-2.1 1.2-1.9 1.8-2 1.3-1M517 468l-2 0.9-1 0.7-4.8 4.4-9.3 8-3.7 4-2.6 4-1.3 3-0.8 3-1.5 8.3-1.4 6.7-0.3 2 0 3 0.5 4M506.3 520l2.7-2.2 3-2.9 5-5.6M517 473.9l-2 0.3-2 0.9-2 1.3-4 3.2-3 2.7-2.6 2.7-2.3 3-2 3-1.6 3-1.2 3-1.1 4-1.1 5-0.4 3 0 2 0.6 3 0.7 1.6 1 1.4 1 0.8 2 0.6 1 0.1 2-0.4 3-1.2 4-2.8 3.4-3.1 3.5-4 3.1-4.6M517 478.3l-1-0.3-2 0-2 0.8-2 1.2-3 2.4-2.7 2.6-2.6 3-2.1 3-1.7 3-1.3 3-1.1 3-1 4-0.3 3 0 2 0.6 2 1.1 2 1.1 0.9 1 0.5 2 0.1 3-0.9 3-1.9 3-2.5 3-3.4 2.6-3.8 2.4-4.4M517 483.1l-1-1.2-1-0.5-1-0.2-1 0-2 0.7-2 1.3-3 2.6-2.1 2.2-2.3 3-1.8 3-1.4 3-1.1 3-0.7 3-0.3 2 0.1 2 0.6 2 1 1.4 1 0.7 1 0.2 2-0.1 3-1.3 3-2.4 3-3.3 2.2-3.2 2.1-4 1.7-4.6"/>
<path fill="#eaf2fb" fill-rule="evenodd" d="M396.1 399.6H519V523.6H396.1zM405.50 464.90a55.15 53.60 0 1 0 110.30 0a55.15 53.60 0 1 0 -110.30 0z"/>
</g>
<path d="M443.4 426h.01M475.5 426h.01M436.9 438.2h.01M459.8 439.4h.01M482 438.2h.01M417.1 433.8h.01M502.1 434.3h.01M421.2 450.4h.01M444.9 450.4h.01M472.6 451.3h.01M498.5 450.4h.01M433.3 464.2h.01M459.8 464.7h.01M486.4 464.2h.01M420 478.8h.01M446.6 477.6h.01M472.6 477.6h.01M499.7 477.6h.01M437.4 491h.01M459.8 490.5h.01M482 491h.01M416.4 495.8h.01M503.3 495.8h.01M444.2 503.9h.01M474.3 503.9h.01M459.8 514.8h.01M410.9 464.7h.01M511.2 469.1h.01M444.2 415.6h.01M476.7 416.1h.01" stroke="#1a1a1a" stroke-opacity=".85" stroke-width="1.25" stroke-linecap="round" fill="none"/>
<ellipse cx="461.1" cy="464.9" rx="49.9" ry="50.3" fill="none" stroke="#1c1c1c" stroke-width="1"/>
<path d="M452.1 415.4L459.1 407.3M470 415.4L463.1 407.3" stroke="#1c1c1c" stroke-width=".8" fill="none"/>
<path d="M412.3 454.8C409.6 452.8 406.7 453.1 406.4 456.1L406.1 463.9C405.9 468.5 405.1 472 405.3 475.3C405.5 478.8 407.9 480.5 412.6 478.2" stroke="#222" stroke-width=".8" fill="none" stroke-linejoin="round"/>
<path d="M509.8 454.8C512.5 452.8 515.4 453.1 515.7 456.1L516 463.9C516.2 468.5 517 472 516.8 475.3C516.6 478.8 514.2 480.5 509.5 478.2" stroke="#222" stroke-width=".8" fill="none" stroke-linejoin="round"/>
<text x="461.1" y="405.7" font-size="4.0" text-anchor="middle" fill="#161616">IC21</text>
<rect x="519.9" y="398.9" width="5.9" height="123.7" fill="url(#jet)"/>
<text x="529.4" y="406.9" font-size="4.9" fill="#161616">1.68</text>
<text x="529.4" y="421" font-size="4.9" fill="#161616">1.44</text>
<text x="529.4" y="435.2" font-size="4.9" fill="#161616">1.20</text>
<text x="529.4" y="449.4" font-size="4.9" fill="#161616">0.96</text>
<text x="529.4" y="463.6" font-size="4.9" fill="#161616">0.72</text>
<text x="529.4" y="477.7" font-size="4.9" fill="#161616">0.48</text>
<text x="529.4" y="491.9" font-size="4.9" fill="#161616">0.24</text>
<text x="529.4" y="506.1" font-size="4.9" fill="#161616">0.00</text>
<text x="529.4" y="520.2" font-size="4.9" fill="#161616">−0.24</text>
<path d="M525.8 405.1h1.6M525.8 419.3h1.6M525.8 433.5h1.6M525.8 447.6h1.6M525.8 461.8h1.6M525.8 476h1.6M525.8 490.1h1.6M525.8 504.3h1.6M525.8 518.5h1.6" stroke="#222" stroke-width=".6" fill="none"/></g>
</svg>
<div class="t" style="left:62.00px;top:2.40px;letter-spacing:0.371px">Modality</div>
<div class="t" style="left:235.20px;top:2.20px;letter-spacing:0.582px">Young adults</div>
<div class="t" style="left:430.20px;top:2.40px;letter-spacing:0.582px">Older adults</div>
<div class="t" style="left:65.00px;top:74.00px;letter-spacing:0.143px">Baseline</div>
<div class="t" style="left:6.00px;top:189.90px;letter-spacing:0.320px">Individual: Core Breathing</div>
<div class="t" style="left:65.20px;top:209.30px;letter-spacing:-0.129px">Exercise</div>
<div class="t" style="left:7.20px;top:317.00px;letter-spacing:0.483px">Individual: Computerized</div>
<div class="t" style="left:34.00px;top:336.00px;letter-spacing:0.306px">cognitive therapy</div>
<div class="t" style="left:37.00px;top:452.00px;letter-spacing:0.338px">Individual: Light</div>
</body></html>
